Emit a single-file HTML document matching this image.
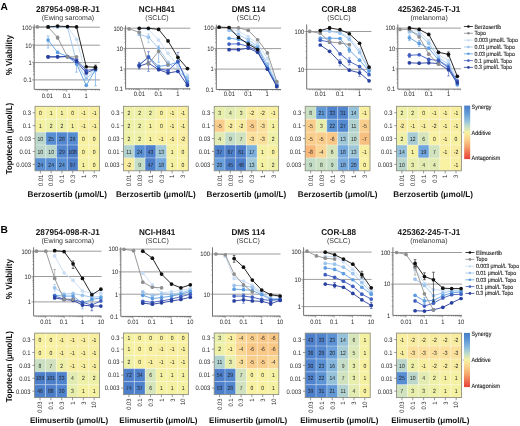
<!DOCTYPE html><html><head><meta charset="utf-8"><style>html,body{margin:0;padding:0;background:#fff;width:520px;height:426px;overflow:hidden}svg{display:block;will-change:transform}text{font-family:"Liberation Sans", sans-serif;text-rendering:geometricPrecision}</style></head><body>
<svg width="520" height="426" viewBox="0 0 520 426">
<defs><linearGradient id="cb" x1="0" y1="0" x2="0" y2="1"><stop offset="0" stop-color="#487cc8"/><stop offset="0.12" stop-color="#5c94d4"/><stop offset="0.27" stop-color="#8cbcde"/><stop offset="0.38" stop-color="#bedccd"/><stop offset="0.5" stop-color="#f7f1a1"/><stop offset="0.62" stop-color="#fad48e"/><stop offset="0.76" stop-color="#f6a86c"/><stop offset="0.9" stop-color="#ec684c"/><stop offset="1" stop-color="#e64238"/></linearGradient></defs>
<rect width="520" height="426" fill="#fff"/>
<text x="0.5" y="10" font-size="10.2" text-anchor="start" font-weight="bold" fill="#000">A</text>
<text x="0.5" y="232.6" font-size="10.2" text-anchor="start" font-weight="bold" fill="#000">B</text>
<text transform="translate(12.2,55.2) rotate(-90) scale(0.92,1)" font-size="8.8" text-anchor="middle" font-weight="bold" fill="#111">% Viability</text>
<text transform="translate(12.2,279.1) rotate(-90) scale(0.92,1)" font-size="8.8" text-anchor="middle" font-weight="bold" fill="#111">% Viability</text>
<text transform="translate(12.3,138.6) rotate(-90) scale(0.9,1)" font-size="8.6" text-anchor="middle" font-weight="bold" fill="#111">Topotecan (μmol/L)</text>
<text transform="translate(12.3,366.7) rotate(-90) scale(0.9,1)" font-size="8.6" text-anchor="middle" font-weight="bold" fill="#111">Topotecan (μmol/L)</text>
<text transform="translate(67.9,12.1) scale(0.96,1)" font-size="8.5" text-anchor="middle" font-weight="bold" fill="#111">287954-098-R-J1</text>
<text x="67.9" y="20.35" font-size="7" text-anchor="middle" font-weight="normal" fill="#333">(Ewing sarcoma)</text>
<line x1="34.2" y1="27.2" x2="99.9" y2="27.2" stroke="#9c9c9c" stroke-width="1.0"/>
<line x1="34.2" y1="45.2" x2="99.9" y2="45.2" stroke="#9c9c9c" stroke-width="1.0"/>
<line x1="34.2" y1="62.6" x2="99.9" y2="62.6" stroke="#9c9c9c" stroke-width="1.0"/>
<line x1="34.2" y1="79.9" x2="99.9" y2="79.9" stroke="#9c9c9c" stroke-width="1.0"/>
<line x1="32" y1="27.2" x2="34.2" y2="27.2" stroke="#666" stroke-width="0.6"/>
<line x1="32" y1="44.77" x2="34.2" y2="44.77" stroke="#666" stroke-width="0.6"/>
<line x1="33" y1="39.48" x2="34.2" y2="39.48" stroke="#666" stroke-width="0.6"/>
<line x1="33" y1="36.39" x2="34.2" y2="36.39" stroke="#666" stroke-width="0.6"/>
<line x1="33" y1="34.19" x2="34.2" y2="34.19" stroke="#666" stroke-width="0.6"/>
<line x1="33" y1="32.49" x2="34.2" y2="32.49" stroke="#666" stroke-width="0.6"/>
<line x1="33" y1="31.1" x2="34.2" y2="31.1" stroke="#666" stroke-width="0.6"/>
<line x1="33" y1="29.92" x2="34.2" y2="29.92" stroke="#666" stroke-width="0.6"/>
<line x1="33" y1="28.9" x2="34.2" y2="28.9" stroke="#666" stroke-width="0.6"/>
<line x1="33" y1="28" x2="34.2" y2="28" stroke="#666" stroke-width="0.6"/>
<line x1="32" y1="62.33" x2="34.2" y2="62.33" stroke="#666" stroke-width="0.6"/>
<line x1="33" y1="57.05" x2="34.2" y2="57.05" stroke="#666" stroke-width="0.6"/>
<line x1="33" y1="53.95" x2="34.2" y2="53.95" stroke="#666" stroke-width="0.6"/>
<line x1="33" y1="51.76" x2="34.2" y2="51.76" stroke="#666" stroke-width="0.6"/>
<line x1="33" y1="50.05" x2="34.2" y2="50.05" stroke="#666" stroke-width="0.6"/>
<line x1="33" y1="48.66" x2="34.2" y2="48.66" stroke="#666" stroke-width="0.6"/>
<line x1="33" y1="47.49" x2="34.2" y2="47.49" stroke="#666" stroke-width="0.6"/>
<line x1="33" y1="46.47" x2="34.2" y2="46.47" stroke="#666" stroke-width="0.6"/>
<line x1="33" y1="45.57" x2="34.2" y2="45.57" stroke="#666" stroke-width="0.6"/>
<line x1="32" y1="79.9" x2="34.2" y2="79.9" stroke="#666" stroke-width="0.6"/>
<line x1="33" y1="74.61" x2="34.2" y2="74.61" stroke="#666" stroke-width="0.6"/>
<line x1="33" y1="71.52" x2="34.2" y2="71.52" stroke="#666" stroke-width="0.6"/>
<line x1="33" y1="69.32" x2="34.2" y2="69.32" stroke="#666" stroke-width="0.6"/>
<line x1="33" y1="67.62" x2="34.2" y2="67.62" stroke="#666" stroke-width="0.6"/>
<line x1="33" y1="66.23" x2="34.2" y2="66.23" stroke="#666" stroke-width="0.6"/>
<line x1="33" y1="65.05" x2="34.2" y2="65.05" stroke="#666" stroke-width="0.6"/>
<line x1="33" y1="64.04" x2="34.2" y2="64.04" stroke="#666" stroke-width="0.6"/>
<line x1="33" y1="63.14" x2="34.2" y2="63.14" stroke="#666" stroke-width="0.6"/>
<line x1="37.16" y1="89.4" x2="37.16" y2="90.6" stroke="#666" stroke-width="0.6"/>
<line x1="39.58" y1="89.4" x2="39.58" y2="90.6" stroke="#666" stroke-width="0.6"/>
<line x1="41.46" y1="89.4" x2="41.46" y2="90.6" stroke="#666" stroke-width="0.6"/>
<line x1="43" y1="89.4" x2="43" y2="90.6" stroke="#666" stroke-width="0.6"/>
<line x1="44.29" y1="89.4" x2="44.29" y2="90.6" stroke="#666" stroke-width="0.6"/>
<line x1="45.42" y1="89.4" x2="45.42" y2="90.6" stroke="#666" stroke-width="0.6"/>
<line x1="46.41" y1="89.4" x2="46.41" y2="90.6" stroke="#666" stroke-width="0.6"/>
<line x1="47.3" y1="89.4" x2="47.3" y2="91.6" stroke="#666" stroke-width="0.6"/>
<line x1="53.14" y1="89.4" x2="53.14" y2="90.6" stroke="#666" stroke-width="0.6"/>
<line x1="56.56" y1="89.4" x2="56.56" y2="90.6" stroke="#666" stroke-width="0.6"/>
<line x1="58.98" y1="89.4" x2="58.98" y2="90.6" stroke="#666" stroke-width="0.6"/>
<line x1="60.86" y1="89.4" x2="60.86" y2="90.6" stroke="#666" stroke-width="0.6"/>
<line x1="62.4" y1="89.4" x2="62.4" y2="90.6" stroke="#666" stroke-width="0.6"/>
<line x1="63.69" y1="89.4" x2="63.69" y2="90.6" stroke="#666" stroke-width="0.6"/>
<line x1="64.82" y1="89.4" x2="64.82" y2="90.6" stroke="#666" stroke-width="0.6"/>
<line x1="65.81" y1="89.4" x2="65.81" y2="90.6" stroke="#666" stroke-width="0.6"/>
<line x1="66.7" y1="89.4" x2="66.7" y2="91.6" stroke="#666" stroke-width="0.6"/>
<line x1="72.54" y1="89.4" x2="72.54" y2="90.6" stroke="#666" stroke-width="0.6"/>
<line x1="75.96" y1="89.4" x2="75.96" y2="90.6" stroke="#666" stroke-width="0.6"/>
<line x1="78.38" y1="89.4" x2="78.38" y2="90.6" stroke="#666" stroke-width="0.6"/>
<line x1="80.26" y1="89.4" x2="80.26" y2="90.6" stroke="#666" stroke-width="0.6"/>
<line x1="81.8" y1="89.4" x2="81.8" y2="90.6" stroke="#666" stroke-width="0.6"/>
<line x1="83.09" y1="89.4" x2="83.09" y2="90.6" stroke="#666" stroke-width="0.6"/>
<line x1="84.22" y1="89.4" x2="84.22" y2="90.6" stroke="#666" stroke-width="0.6"/>
<line x1="85.21" y1="89.4" x2="85.21" y2="90.6" stroke="#666" stroke-width="0.6"/>
<line x1="86.1" y1="89.4" x2="86.1" y2="91.6" stroke="#666" stroke-width="0.6"/>
<line x1="91.94" y1="89.4" x2="91.94" y2="90.6" stroke="#666" stroke-width="0.6"/>
<line x1="95.36" y1="89.4" x2="95.36" y2="90.6" stroke="#666" stroke-width="0.6"/>
<line x1="97.78" y1="89.4" x2="97.78" y2="90.6" stroke="#666" stroke-width="0.6"/>
<line x1="99.66" y1="89.4" x2="99.66" y2="90.6" stroke="#666" stroke-width="0.6"/>
<line x1="34.2" y1="24.5" x2="34.2" y2="89.4" stroke="#6a6a6a" stroke-width="0.95"/>
<line x1="34.2" y1="89.4" x2="99.9" y2="89.4" stroke="#6a6a6a" stroke-width="0.95"/>
<text transform="translate(31.6,29.55) scale(0.9,1)" font-size="6.4" text-anchor="end" font-weight="normal" fill="#2a2a2a">100</text>
<text transform="translate(31.6,47.55) scale(0.9,1)" font-size="6.4" text-anchor="end" font-weight="normal" fill="#2a2a2a">10</text>
<text transform="translate(31.6,64.95) scale(0.9,1)" font-size="6.4" text-anchor="end" font-weight="normal" fill="#2a2a2a">1</text>
<text transform="translate(31.6,82.25) scale(0.9,1)" font-size="6.4" text-anchor="end" font-weight="normal" fill="#2a2a2a">0.1</text>
<text transform="translate(47.3,98.3) scale(0.9,1)" font-size="6.4" text-anchor="middle" font-weight="normal" fill="#2a2a2a">0.01</text>
<text transform="translate(66.7,98.3) scale(0.9,1)" font-size="6.4" text-anchor="middle" font-weight="normal" fill="#2a2a2a">0.1</text>
<text transform="translate(86.1,98.3) scale(0.9,1)" font-size="6.4" text-anchor="middle" font-weight="normal" fill="#2a2a2a">1</text>
<polyline points="48.09,26.93 57.63,26.93 67.5,26.93 76.55,39.27 86.25,75.45 95.46,69.7" fill="none" stroke="#c9ddf4" stroke-width="0.9"/>
<circle cx="48.09" cy="26.93" r="1.85" fill="#c9ddf4"/>
<circle cx="57.63" cy="26.93" r="1.85" fill="#c9ddf4"/>
<circle cx="67.5" cy="26.93" r="1.85" fill="#c9ddf4"/>
<circle cx="76.55" cy="39.27" r="1.85" fill="#c9ddf4"/>
<circle cx="86.25" cy="75.45" r="1.85" fill="#c9ddf4"/>
<circle cx="95.46" cy="69.7" r="1.85" fill="#c9ddf4"/>
<polyline points="48.09,26.93 57.63,26.93 67.5,26.93 76.55,62.3 86.25,78.74 95.46,70.52" fill="none" stroke="#9cc3ec" stroke-width="0.9"/>
<circle cx="48.09" cy="26.93" r="1.85" fill="#9cc3ec"/>
<circle cx="57.63" cy="26.93" r="1.85" fill="#9cc3ec"/>
<circle cx="67.5" cy="26.93" r="1.85" fill="#9cc3ec"/>
<circle cx="76.55" cy="62.3" r="1.85" fill="#9cc3ec"/>
<circle cx="86.25" cy="78.74" r="1.85" fill="#9cc3ec"/>
<circle cx="95.46" cy="70.52" r="1.85" fill="#9cc3ec"/>
<polyline points="48.09,40.09 57.63,52.43 67.5,56.54 76.55,63.94 86.25,85.32 95.46,69.7" fill="none" stroke="#5e9ee0" stroke-width="0.9"/>
<path d="M48.09 35.98V47.99M46.79 35.98H49.39M46.79 47.99H49.39" stroke="#5e9ee0" stroke-width="0.6" fill="none"/>
<path d="M76.55 61.47V72.16M75.25 61.47H77.85M75.25 72.16H77.85" stroke="#5e9ee0" stroke-width="0.6" fill="none"/>
<path d="M95.46 69.7V85.82M94.16 69.7H96.76M94.16 85.82H96.76" stroke="#5e9ee0" stroke-width="0.6" fill="none"/>
<circle cx="48.09" cy="40.09" r="1.85" fill="#5e9ee0"/>
<circle cx="57.63" cy="52.43" r="1.85" fill="#5e9ee0"/>
<circle cx="67.5" cy="56.54" r="1.85" fill="#5e9ee0"/>
<circle cx="76.55" cy="63.94" r="1.85" fill="#5e9ee0"/>
<circle cx="86.25" cy="85.32" r="1.85" fill="#5e9ee0"/>
<circle cx="95.46" cy="69.7" r="1.85" fill="#5e9ee0"/>
<polyline points="48.09,56.87 57.63,56.87 67.5,56.54 76.55,59.83 86.25,70.52 95.46,68.88" fill="none" stroke="#3f5ec0" stroke-width="0.9"/>
<circle cx="48.09" cy="56.87" r="1.85" fill="#3f5ec0"/>
<circle cx="57.63" cy="56.87" r="1.85" fill="#3f5ec0"/>
<circle cx="67.5" cy="56.54" r="1.85" fill="#3f5ec0"/>
<circle cx="76.55" cy="59.83" r="1.85" fill="#3f5ec0"/>
<circle cx="86.25" cy="70.52" r="1.85" fill="#3f5ec0"/>
<circle cx="95.46" cy="68.88" r="1.85" fill="#3f5ec0"/>
<polyline points="48.09,56.87 57.63,56.87 67.5,56.54 76.55,61.47 86.25,72.99 95.46,68.88" fill="none" stroke="#28409f" stroke-width="0.9"/>
<circle cx="48.09" cy="56.87" r="1.85" fill="#28409f"/>
<circle cx="57.63" cy="56.87" r="1.85" fill="#28409f"/>
<circle cx="67.5" cy="56.54" r="1.85" fill="#28409f"/>
<circle cx="76.55" cy="61.47" r="1.85" fill="#28409f"/>
<circle cx="86.25" cy="72.99" r="1.85" fill="#28409f"/>
<circle cx="95.46" cy="68.88" r="1.85" fill="#28409f"/>
<polyline points="37.4,26.93 48.09,26.93 57.63,37.62 67.5,56.87 76.55,56.87" fill="none" stroke="#8e8e8e" stroke-width="0.9"/>
<path d="M57.63 35.98V39.27M56.33 35.98H58.93M56.33 39.27H58.93" stroke="#8e8e8e" stroke-width="0.6" fill="none"/>
<circle cx="37.4" cy="26.93" r="1.85" fill="#8e8e8e"/>
<circle cx="48.09" cy="26.93" r="1.85" fill="#8e8e8e"/>
<circle cx="57.63" cy="37.62" r="1.85" fill="#8e8e8e"/>
<circle cx="67.5" cy="56.87" r="1.85" fill="#8e8e8e"/>
<circle cx="76.55" cy="56.87" r="1.85" fill="#8e8e8e"/>
<polyline points="48.09,26.93 57.63,26.11 67.5,26.61 76.55,26.93 86.25,66.74 95.46,67.23" fill="none" stroke="#111111" stroke-width="0.9"/>
<path d="M95.46 65.09V69.7M94.16 65.09H96.76M94.16 69.7H96.76" stroke="#111111" stroke-width="0.6" fill="none"/>
<circle cx="48.09" cy="26.93" r="1.85" fill="#111111"/>
<circle cx="57.63" cy="26.11" r="1.85" fill="#111111"/>
<circle cx="67.5" cy="26.61" r="1.85" fill="#111111"/>
<circle cx="76.55" cy="26.93" r="1.85" fill="#111111"/>
<circle cx="86.25" cy="66.74" r="1.85" fill="#111111"/>
<circle cx="95.46" cy="67.23" r="1.85" fill="#111111"/>
<text transform="translate(157,12.1) scale(0.96,1)" font-size="8.5" text-anchor="middle" font-weight="bold" fill="#111">NCI-H841</text>
<text x="157" y="20.35" font-size="7" text-anchor="middle" font-weight="normal" fill="#333">(SCLC)</text>
<line x1="125.6" y1="28.2" x2="190.4" y2="28.2" stroke="#9c9c9c" stroke-width="1.0"/>
<line x1="125.6" y1="48.4" x2="190.4" y2="48.4" stroke="#9c9c9c" stroke-width="1.0"/>
<line x1="125.6" y1="68.9" x2="190.4" y2="68.9" stroke="#9c9c9c" stroke-width="1.0"/>
<line x1="123.4" y1="28.2" x2="125.6" y2="28.2" stroke="#666" stroke-width="0.6"/>
<line x1="123.4" y1="48.55" x2="125.6" y2="48.55" stroke="#666" stroke-width="0.6"/>
<line x1="124.4" y1="42.42" x2="125.6" y2="42.42" stroke="#666" stroke-width="0.6"/>
<line x1="124.4" y1="38.84" x2="125.6" y2="38.84" stroke="#666" stroke-width="0.6"/>
<line x1="124.4" y1="36.3" x2="125.6" y2="36.3" stroke="#666" stroke-width="0.6"/>
<line x1="124.4" y1="34.33" x2="125.6" y2="34.33" stroke="#666" stroke-width="0.6"/>
<line x1="124.4" y1="32.71" x2="125.6" y2="32.71" stroke="#666" stroke-width="0.6"/>
<line x1="124.4" y1="31.35" x2="125.6" y2="31.35" stroke="#666" stroke-width="0.6"/>
<line x1="124.4" y1="30.17" x2="125.6" y2="30.17" stroke="#666" stroke-width="0.6"/>
<line x1="124.4" y1="29.13" x2="125.6" y2="29.13" stroke="#666" stroke-width="0.6"/>
<line x1="123.4" y1="68.9" x2="125.6" y2="68.9" stroke="#666" stroke-width="0.6"/>
<line x1="124.4" y1="62.77" x2="125.6" y2="62.77" stroke="#666" stroke-width="0.6"/>
<line x1="124.4" y1="59.19" x2="125.6" y2="59.19" stroke="#666" stroke-width="0.6"/>
<line x1="124.4" y1="56.65" x2="125.6" y2="56.65" stroke="#666" stroke-width="0.6"/>
<line x1="124.4" y1="54.68" x2="125.6" y2="54.68" stroke="#666" stroke-width="0.6"/>
<line x1="124.4" y1="53.06" x2="125.6" y2="53.06" stroke="#666" stroke-width="0.6"/>
<line x1="124.4" y1="51.7" x2="125.6" y2="51.7" stroke="#666" stroke-width="0.6"/>
<line x1="124.4" y1="50.52" x2="125.6" y2="50.52" stroke="#666" stroke-width="0.6"/>
<line x1="124.4" y1="49.48" x2="125.6" y2="49.48" stroke="#666" stroke-width="0.6"/>
<line x1="124.4" y1="83.12" x2="125.6" y2="83.12" stroke="#666" stroke-width="0.6"/>
<line x1="124.4" y1="79.54" x2="125.6" y2="79.54" stroke="#666" stroke-width="0.6"/>
<line x1="124.4" y1="77" x2="125.6" y2="77" stroke="#666" stroke-width="0.6"/>
<line x1="124.4" y1="75.03" x2="125.6" y2="75.03" stroke="#666" stroke-width="0.6"/>
<line x1="124.4" y1="73.41" x2="125.6" y2="73.41" stroke="#666" stroke-width="0.6"/>
<line x1="124.4" y1="72.05" x2="125.6" y2="72.05" stroke="#666" stroke-width="0.6"/>
<line x1="124.4" y1="70.87" x2="125.6" y2="70.87" stroke="#666" stroke-width="0.6"/>
<line x1="124.4" y1="69.83" x2="125.6" y2="69.83" stroke="#666" stroke-width="0.6"/>
<line x1="125.81" y1="88.8" x2="125.81" y2="90" stroke="#666" stroke-width="0.6"/>
<line x1="129.21" y1="88.8" x2="129.21" y2="90" stroke="#666" stroke-width="0.6"/>
<line x1="131.62" y1="88.8" x2="131.62" y2="90" stroke="#666" stroke-width="0.6"/>
<line x1="133.49" y1="88.8" x2="133.49" y2="90" stroke="#666" stroke-width="0.6"/>
<line x1="135.02" y1="88.8" x2="135.02" y2="90" stroke="#666" stroke-width="0.6"/>
<line x1="136.31" y1="88.8" x2="136.31" y2="90" stroke="#666" stroke-width="0.6"/>
<line x1="137.43" y1="88.8" x2="137.43" y2="90" stroke="#666" stroke-width="0.6"/>
<line x1="138.42" y1="88.8" x2="138.42" y2="90" stroke="#666" stroke-width="0.6"/>
<line x1="139.3" y1="88.8" x2="139.3" y2="91" stroke="#666" stroke-width="0.6"/>
<line x1="145.11" y1="88.8" x2="145.11" y2="90" stroke="#666" stroke-width="0.6"/>
<line x1="148.51" y1="88.8" x2="148.51" y2="90" stroke="#666" stroke-width="0.6"/>
<line x1="150.92" y1="88.8" x2="150.92" y2="90" stroke="#666" stroke-width="0.6"/>
<line x1="152.79" y1="88.8" x2="152.79" y2="90" stroke="#666" stroke-width="0.6"/>
<line x1="154.32" y1="88.8" x2="154.32" y2="90" stroke="#666" stroke-width="0.6"/>
<line x1="155.61" y1="88.8" x2="155.61" y2="90" stroke="#666" stroke-width="0.6"/>
<line x1="156.73" y1="88.8" x2="156.73" y2="90" stroke="#666" stroke-width="0.6"/>
<line x1="157.72" y1="88.8" x2="157.72" y2="90" stroke="#666" stroke-width="0.6"/>
<line x1="158.6" y1="88.8" x2="158.6" y2="91" stroke="#666" stroke-width="0.6"/>
<line x1="164.41" y1="88.8" x2="164.41" y2="90" stroke="#666" stroke-width="0.6"/>
<line x1="167.81" y1="88.8" x2="167.81" y2="90" stroke="#666" stroke-width="0.6"/>
<line x1="170.22" y1="88.8" x2="170.22" y2="90" stroke="#666" stroke-width="0.6"/>
<line x1="172.09" y1="88.8" x2="172.09" y2="90" stroke="#666" stroke-width="0.6"/>
<line x1="173.62" y1="88.8" x2="173.62" y2="90" stroke="#666" stroke-width="0.6"/>
<line x1="174.91" y1="88.8" x2="174.91" y2="90" stroke="#666" stroke-width="0.6"/>
<line x1="176.03" y1="88.8" x2="176.03" y2="90" stroke="#666" stroke-width="0.6"/>
<line x1="177.02" y1="88.8" x2="177.02" y2="90" stroke="#666" stroke-width="0.6"/>
<line x1="177.9" y1="88.8" x2="177.9" y2="91" stroke="#666" stroke-width="0.6"/>
<line x1="183.71" y1="88.8" x2="183.71" y2="90" stroke="#666" stroke-width="0.6"/>
<line x1="187.11" y1="88.8" x2="187.11" y2="90" stroke="#666" stroke-width="0.6"/>
<line x1="189.52" y1="88.8" x2="189.52" y2="90" stroke="#666" stroke-width="0.6"/>
<line x1="125.6" y1="25.4" x2="125.6" y2="88.8" stroke="#6a6a6a" stroke-width="0.95"/>
<line x1="125.6" y1="88.8" x2="190.4" y2="88.8" stroke="#6a6a6a" stroke-width="0.95"/>
<text transform="translate(123,30.55) scale(0.9,1)" font-size="6.4" text-anchor="end" font-weight="normal" fill="#2a2a2a">100</text>
<text transform="translate(123,50.75) scale(0.9,1)" font-size="6.4" text-anchor="end" font-weight="normal" fill="#2a2a2a">10</text>
<text transform="translate(123,71.25) scale(0.9,1)" font-size="6.4" text-anchor="end" font-weight="normal" fill="#2a2a2a">1</text>
<text transform="translate(123,91.15) scale(0.9,1)" font-size="6.4" text-anchor="end" font-weight="normal" fill="#2a2a2a">0.1</text>
<text transform="translate(139.3,96) scale(0.9,1)" font-size="6.4" text-anchor="middle" font-weight="normal" fill="#2a2a2a">0.01</text>
<text transform="translate(158.4,96) scale(0.9,1)" font-size="6.4" text-anchor="middle" font-weight="normal" fill="#2a2a2a">0.1</text>
<text transform="translate(177.9,96) scale(0.9,1)" font-size="6.4" text-anchor="middle" font-weight="normal" fill="#2a2a2a">1</text>
<polyline points="139.24,28.58 148.45,29.4 158.65,40.09 168.03,53.25 177.89,66.41 187.43,75.45" fill="none" stroke="#c9ddf4" stroke-width="0.9"/>
<circle cx="139.24" cy="28.58" r="1.85" fill="#c9ddf4"/>
<circle cx="148.45" cy="29.4" r="1.85" fill="#c9ddf4"/>
<circle cx="158.65" cy="40.09" r="1.85" fill="#c9ddf4"/>
<circle cx="168.03" cy="53.25" r="1.85" fill="#c9ddf4"/>
<circle cx="177.89" cy="66.41" r="1.85" fill="#c9ddf4"/>
<circle cx="187.43" cy="75.45" r="1.85" fill="#c9ddf4"/>
<polyline points="139.24,34.34 148.45,37.13 158.65,48.32 168.03,62.3 177.89,71.34 187.43,77.92" fill="none" stroke="#9cc3ec" stroke-width="0.9"/>
<path d="M148.45 33.84V42.56M147.15 33.84H149.75M147.15 42.56H149.75" stroke="#9cc3ec" stroke-width="0.6" fill="none"/>
<circle cx="139.24" cy="34.34" r="1.85" fill="#9cc3ec"/>
<circle cx="148.45" cy="37.13" r="1.85" fill="#9cc3ec"/>
<circle cx="158.65" cy="48.32" r="1.85" fill="#9cc3ec"/>
<circle cx="168.03" cy="62.3" r="1.85" fill="#9cc3ec"/>
<circle cx="177.89" cy="71.34" r="1.85" fill="#9cc3ec"/>
<circle cx="187.43" cy="77.92" r="1.85" fill="#9cc3ec"/>
<polyline points="139.24,65.59 148.45,56.54 158.65,66.41 168.03,65.09 177.89,62.3 187.43,81.21" fill="none" stroke="#5e9ee0" stroke-width="0.9"/>
<path d="M158.65 45.85V62.3M157.35 45.85H159.95M157.35 62.3H159.95" stroke="#5e9ee0" stroke-width="0.6" fill="none"/>
<circle cx="139.24" cy="65.59" r="1.85" fill="#5e9ee0"/>
<circle cx="148.45" cy="56.54" r="1.85" fill="#5e9ee0"/>
<circle cx="158.65" cy="66.41" r="1.85" fill="#5e9ee0"/>
<circle cx="168.03" cy="65.09" r="1.85" fill="#5e9ee0"/>
<circle cx="177.89" cy="62.3" r="1.85" fill="#5e9ee0"/>
<circle cx="187.43" cy="81.21" r="1.85" fill="#5e9ee0"/>
<polyline points="139.24,64.76 148.45,57.36 158.65,68.88 168.03,70.52 177.89,61.47 187.43,83.68" fill="none" stroke="#3f5ec0" stroke-width="0.9"/>
<path d="M148.45 51.61V71.34M147.15 51.61H149.75M147.15 71.34H149.75" stroke="#3f5ec0" stroke-width="0.6" fill="none"/>
<path d="M177.89 52.43V60.65M176.59 52.43H179.19M176.59 60.65H179.19" stroke="#3f5ec0" stroke-width="0.6" fill="none"/>
<circle cx="139.24" cy="64.76" r="1.85" fill="#3f5ec0"/>
<circle cx="148.45" cy="57.36" r="1.85" fill="#3f5ec0"/>
<circle cx="158.65" cy="68.88" r="1.85" fill="#3f5ec0"/>
<circle cx="168.03" cy="70.52" r="1.85" fill="#3f5ec0"/>
<circle cx="177.89" cy="61.47" r="1.85" fill="#3f5ec0"/>
<circle cx="187.43" cy="83.68" r="1.85" fill="#3f5ec0"/>
<polyline points="139.24,66.08 148.45,63.12 158.65,69.7 168.03,72.99 177.89,71.34 187.43,85.32" fill="none" stroke="#28409f" stroke-width="0.9"/>
<path d="M139.24 62.3V68.88M137.94 62.3H140.54M137.94 68.88H140.54" stroke="#28409f" stroke-width="0.6" fill="none"/>
<circle cx="139.24" cy="66.08" r="1.85" fill="#28409f"/>
<circle cx="148.45" cy="63.12" r="1.85" fill="#28409f"/>
<circle cx="158.65" cy="69.7" r="1.85" fill="#28409f"/>
<circle cx="168.03" cy="72.99" r="1.85" fill="#28409f"/>
<circle cx="177.89" cy="71.34" r="1.85" fill="#28409f"/>
<circle cx="187.43" cy="85.32" r="1.85" fill="#28409f"/>
<polyline points="129.05,28.91 139.24,32.2 148.45,63.94 158.65,51.28 168.03,64.76" fill="none" stroke="#8e8e8e" stroke-width="0.9"/>
<circle cx="129.05" cy="28.91" r="1.85" fill="#8e8e8e"/>
<circle cx="139.24" cy="32.2" r="1.85" fill="#8e8e8e"/>
<circle cx="148.45" cy="63.94" r="1.85" fill="#8e8e8e"/>
<circle cx="158.65" cy="51.28" r="1.85" fill="#8e8e8e"/>
<circle cx="168.03" cy="64.76" r="1.85" fill="#8e8e8e"/>
<polyline points="139.24,28.25 148.45,28.25 158.65,29.4 168.03,40.91 177.89,57.36 187.43,68.55" fill="none" stroke="#111111" stroke-width="0.9"/>
<circle cx="139.24" cy="28.25" r="1.85" fill="#111111"/>
<circle cx="148.45" cy="28.25" r="1.85" fill="#111111"/>
<circle cx="158.65" cy="29.4" r="1.85" fill="#111111"/>
<circle cx="168.03" cy="40.91" r="1.85" fill="#111111"/>
<circle cx="177.89" cy="57.36" r="1.85" fill="#111111"/>
<circle cx="187.43" cy="68.55" r="1.85" fill="#111111"/>
<text transform="translate(248.5,12.1) scale(0.96,1)" font-size="8.5" text-anchor="middle" font-weight="bold" fill="#111">DMS 114</text>
<text x="248.5" y="20.35" font-size="7" text-anchor="middle" font-weight="normal" fill="#333">(SCLC)</text>
<line x1="216.3" y1="28.1" x2="281.1" y2="28.1" stroke="#9c9c9c" stroke-width="1.0"/>
<line x1="216.3" y1="48.6" x2="281.1" y2="48.6" stroke="#9c9c9c" stroke-width="1.0"/>
<line x1="216.3" y1="69.1" x2="281.1" y2="69.1" stroke="#9c9c9c" stroke-width="1.0"/>
<line x1="214.1" y1="28.1" x2="216.3" y2="28.1" stroke="#666" stroke-width="0.6"/>
<line x1="214.1" y1="48.6" x2="216.3" y2="48.6" stroke="#666" stroke-width="0.6"/>
<line x1="215.1" y1="42.43" x2="216.3" y2="42.43" stroke="#666" stroke-width="0.6"/>
<line x1="215.1" y1="38.82" x2="216.3" y2="38.82" stroke="#666" stroke-width="0.6"/>
<line x1="215.1" y1="36.26" x2="216.3" y2="36.26" stroke="#666" stroke-width="0.6"/>
<line x1="215.1" y1="34.27" x2="216.3" y2="34.27" stroke="#666" stroke-width="0.6"/>
<line x1="215.1" y1="32.65" x2="216.3" y2="32.65" stroke="#666" stroke-width="0.6"/>
<line x1="215.1" y1="31.28" x2="216.3" y2="31.28" stroke="#666" stroke-width="0.6"/>
<line x1="215.1" y1="30.09" x2="216.3" y2="30.09" stroke="#666" stroke-width="0.6"/>
<line x1="215.1" y1="29.04" x2="216.3" y2="29.04" stroke="#666" stroke-width="0.6"/>
<line x1="214.1" y1="69.1" x2="216.3" y2="69.1" stroke="#666" stroke-width="0.6"/>
<line x1="215.1" y1="62.93" x2="216.3" y2="62.93" stroke="#666" stroke-width="0.6"/>
<line x1="215.1" y1="59.32" x2="216.3" y2="59.32" stroke="#666" stroke-width="0.6"/>
<line x1="215.1" y1="56.76" x2="216.3" y2="56.76" stroke="#666" stroke-width="0.6"/>
<line x1="215.1" y1="54.77" x2="216.3" y2="54.77" stroke="#666" stroke-width="0.6"/>
<line x1="215.1" y1="53.15" x2="216.3" y2="53.15" stroke="#666" stroke-width="0.6"/>
<line x1="215.1" y1="51.78" x2="216.3" y2="51.78" stroke="#666" stroke-width="0.6"/>
<line x1="215.1" y1="50.59" x2="216.3" y2="50.59" stroke="#666" stroke-width="0.6"/>
<line x1="215.1" y1="49.54" x2="216.3" y2="49.54" stroke="#666" stroke-width="0.6"/>
<line x1="215.1" y1="83.43" x2="216.3" y2="83.43" stroke="#666" stroke-width="0.6"/>
<line x1="215.1" y1="79.82" x2="216.3" y2="79.82" stroke="#666" stroke-width="0.6"/>
<line x1="215.1" y1="77.26" x2="216.3" y2="77.26" stroke="#666" stroke-width="0.6"/>
<line x1="215.1" y1="75.27" x2="216.3" y2="75.27" stroke="#666" stroke-width="0.6"/>
<line x1="215.1" y1="73.65" x2="216.3" y2="73.65" stroke="#666" stroke-width="0.6"/>
<line x1="215.1" y1="72.28" x2="216.3" y2="72.28" stroke="#666" stroke-width="0.6"/>
<line x1="215.1" y1="71.09" x2="216.3" y2="71.09" stroke="#666" stroke-width="0.6"/>
<line x1="215.1" y1="70.04" x2="216.3" y2="70.04" stroke="#666" stroke-width="0.6"/>
<line x1="219.57" y1="89.5" x2="219.57" y2="90.7" stroke="#666" stroke-width="0.6"/>
<line x1="221.92" y1="89.5" x2="221.92" y2="90.7" stroke="#666" stroke-width="0.6"/>
<line x1="223.74" y1="89.5" x2="223.74" y2="90.7" stroke="#666" stroke-width="0.6"/>
<line x1="225.23" y1="89.5" x2="225.23" y2="90.7" stroke="#666" stroke-width="0.6"/>
<line x1="226.49" y1="89.5" x2="226.49" y2="90.7" stroke="#666" stroke-width="0.6"/>
<line x1="227.58" y1="89.5" x2="227.58" y2="90.7" stroke="#666" stroke-width="0.6"/>
<line x1="228.54" y1="89.5" x2="228.54" y2="90.7" stroke="#666" stroke-width="0.6"/>
<line x1="229.4" y1="89.5" x2="229.4" y2="91.7" stroke="#666" stroke-width="0.6"/>
<line x1="235.06" y1="89.5" x2="235.06" y2="90.7" stroke="#666" stroke-width="0.6"/>
<line x1="238.37" y1="89.5" x2="238.37" y2="90.7" stroke="#666" stroke-width="0.6"/>
<line x1="240.72" y1="89.5" x2="240.72" y2="90.7" stroke="#666" stroke-width="0.6"/>
<line x1="242.54" y1="89.5" x2="242.54" y2="90.7" stroke="#666" stroke-width="0.6"/>
<line x1="244.03" y1="89.5" x2="244.03" y2="90.7" stroke="#666" stroke-width="0.6"/>
<line x1="245.29" y1="89.5" x2="245.29" y2="90.7" stroke="#666" stroke-width="0.6"/>
<line x1="246.38" y1="89.5" x2="246.38" y2="90.7" stroke="#666" stroke-width="0.6"/>
<line x1="247.34" y1="89.5" x2="247.34" y2="90.7" stroke="#666" stroke-width="0.6"/>
<line x1="248.2" y1="89.5" x2="248.2" y2="91.7" stroke="#666" stroke-width="0.6"/>
<line x1="253.86" y1="89.5" x2="253.86" y2="90.7" stroke="#666" stroke-width="0.6"/>
<line x1="257.17" y1="89.5" x2="257.17" y2="90.7" stroke="#666" stroke-width="0.6"/>
<line x1="259.52" y1="89.5" x2="259.52" y2="90.7" stroke="#666" stroke-width="0.6"/>
<line x1="261.34" y1="89.5" x2="261.34" y2="90.7" stroke="#666" stroke-width="0.6"/>
<line x1="262.83" y1="89.5" x2="262.83" y2="90.7" stroke="#666" stroke-width="0.6"/>
<line x1="264.09" y1="89.5" x2="264.09" y2="90.7" stroke="#666" stroke-width="0.6"/>
<line x1="265.18" y1="89.5" x2="265.18" y2="90.7" stroke="#666" stroke-width="0.6"/>
<line x1="266.14" y1="89.5" x2="266.14" y2="90.7" stroke="#666" stroke-width="0.6"/>
<line x1="267" y1="89.5" x2="267" y2="91.7" stroke="#666" stroke-width="0.6"/>
<line x1="272.66" y1="89.5" x2="272.66" y2="90.7" stroke="#666" stroke-width="0.6"/>
<line x1="275.97" y1="89.5" x2="275.97" y2="90.7" stroke="#666" stroke-width="0.6"/>
<line x1="278.32" y1="89.5" x2="278.32" y2="90.7" stroke="#666" stroke-width="0.6"/>
<line x1="280.14" y1="89.5" x2="280.14" y2="90.7" stroke="#666" stroke-width="0.6"/>
<line x1="216.3" y1="24.7" x2="216.3" y2="89.5" stroke="#6a6a6a" stroke-width="0.95"/>
<line x1="216.3" y1="89.5" x2="281.1" y2="89.5" stroke="#6a6a6a" stroke-width="0.95"/>
<text transform="translate(213.7,30.45) scale(0.9,1)" font-size="6.4" text-anchor="end" font-weight="normal" fill="#2a2a2a">100</text>
<text transform="translate(213.7,50.95) scale(0.9,1)" font-size="6.4" text-anchor="end" font-weight="normal" fill="#2a2a2a">10</text>
<text transform="translate(213.7,71.45) scale(0.9,1)" font-size="6.4" text-anchor="end" font-weight="normal" fill="#2a2a2a">1</text>
<text transform="translate(213.7,91.85) scale(0.9,1)" font-size="6.4" text-anchor="end" font-weight="normal" fill="#2a2a2a">0.1</text>
<text transform="translate(229.4,96.3) scale(0.9,1)" font-size="6.4" text-anchor="middle" font-weight="normal" fill="#2a2a2a">0.01</text>
<text transform="translate(248.2,96.3) scale(0.9,1)" font-size="6.4" text-anchor="middle" font-weight="normal" fill="#2a2a2a">0.1</text>
<text transform="translate(267,96.3) scale(0.9,1)" font-size="6.4" text-anchor="middle" font-weight="normal" fill="#2a2a2a">1</text>
<polyline points="229.06,28.46 238.46,31.28 248.23,36.92 257.63,43.5 267.41,58.53 276.8,82.97" fill="none" stroke="#c9ddf4" stroke-width="0.9"/>
<circle cx="229.06" cy="28.46" r="1.85" fill="#c9ddf4"/>
<circle cx="238.46" cy="31.28" r="1.85" fill="#c9ddf4"/>
<circle cx="248.23" cy="36.92" r="1.85" fill="#c9ddf4"/>
<circle cx="257.63" cy="43.5" r="1.85" fill="#c9ddf4"/>
<circle cx="267.41" cy="58.53" r="1.85" fill="#c9ddf4"/>
<circle cx="276.8" cy="82.97" r="1.85" fill="#c9ddf4"/>
<polyline points="229.06,30.34 238.46,34.66 248.23,39.74 257.63,46.32 267.41,64.17 276.8,83.91" fill="none" stroke="#9cc3ec" stroke-width="0.9"/>
<circle cx="229.06" cy="30.34" r="1.85" fill="#9cc3ec"/>
<circle cx="238.46" cy="34.66" r="1.85" fill="#9cc3ec"/>
<circle cx="248.23" cy="39.74" r="1.85" fill="#9cc3ec"/>
<circle cx="257.63" cy="46.32" r="1.85" fill="#9cc3ec"/>
<circle cx="267.41" cy="64.17" r="1.85" fill="#9cc3ec"/>
<circle cx="276.8" cy="83.91" r="1.85" fill="#9cc3ec"/>
<polyline points="229.06,38.23 238.46,39.36 248.23,42.56 257.63,48.2 267.41,66.99 276.8,84.85" fill="none" stroke="#5e9ee0" stroke-width="0.9"/>
<circle cx="229.06" cy="38.23" r="1.85" fill="#5e9ee0"/>
<circle cx="238.46" cy="39.36" r="1.85" fill="#5e9ee0"/>
<circle cx="248.23" cy="42.56" r="1.85" fill="#5e9ee0"/>
<circle cx="257.63" cy="48.2" r="1.85" fill="#5e9ee0"/>
<circle cx="267.41" cy="66.99" r="1.85" fill="#5e9ee0"/>
<circle cx="276.8" cy="84.85" r="1.85" fill="#5e9ee0"/>
<polyline points="229.06,44.06 238.46,43.87 248.23,46.32 257.63,51.02 267.41,68.87 276.8,85.79" fill="none" stroke="#3f5ec0" stroke-width="0.9"/>
<circle cx="229.06" cy="44.06" r="1.85" fill="#3f5ec0"/>
<circle cx="238.46" cy="43.87" r="1.85" fill="#3f5ec0"/>
<circle cx="248.23" cy="46.32" r="1.85" fill="#3f5ec0"/>
<circle cx="257.63" cy="51.02" r="1.85" fill="#3f5ec0"/>
<circle cx="267.41" cy="68.87" r="1.85" fill="#3f5ec0"/>
<circle cx="276.8" cy="85.79" r="1.85" fill="#3f5ec0"/>
<polyline points="229.06,49.7 238.46,49.7 248.23,48.2 257.63,52.33 267.41,69.25 276.8,86.73" fill="none" stroke="#28409f" stroke-width="0.9"/>
<circle cx="229.06" cy="49.7" r="1.85" fill="#28409f"/>
<circle cx="238.46" cy="49.7" r="1.85" fill="#28409f"/>
<circle cx="248.23" cy="48.2" r="1.85" fill="#28409f"/>
<circle cx="257.63" cy="52.33" r="1.85" fill="#28409f"/>
<circle cx="267.41" cy="69.25" r="1.85" fill="#28409f"/>
<circle cx="276.8" cy="86.73" r="1.85" fill="#28409f"/>
<polyline points="229.06,27.52 238.46,27.89 248.23,30.34 257.63,39.74 267.41,52.89 276.8,81.65" fill="none" stroke="#8e8e8e" stroke-width="0.9"/>
<circle cx="229.06" cy="27.52" r="1.85" fill="#8e8e8e"/>
<circle cx="238.46" cy="27.89" r="1.85" fill="#8e8e8e"/>
<circle cx="248.23" cy="30.34" r="1.85" fill="#8e8e8e"/>
<circle cx="257.63" cy="39.74" r="1.85" fill="#8e8e8e"/>
<circle cx="267.41" cy="52.89" r="1.85" fill="#8e8e8e"/>
<circle cx="276.8" cy="81.65" r="1.85" fill="#8e8e8e"/>
<polyline points="219.1,27.14 229.06,27.52 238.46,37.48 248.23,44.06 257.63,49.51" fill="none" stroke="#111111" stroke-width="0.9"/>
<circle cx="219.1" cy="27.14" r="1.85" fill="#111111"/>
<circle cx="229.06" cy="27.52" r="1.85" fill="#111111"/>
<circle cx="238.46" cy="37.48" r="1.85" fill="#111111"/>
<circle cx="248.23" cy="44.06" r="1.85" fill="#111111"/>
<circle cx="257.63" cy="49.51" r="1.85" fill="#111111"/>
<text transform="translate(338.9,12.1) scale(0.96,1)" font-size="8.5" text-anchor="middle" font-weight="bold" fill="#111">COR-L88</text>
<text x="338.9" y="20.35" font-size="7" text-anchor="middle" font-weight="normal" fill="#333">(SCLC)</text>
<line x1="306.7" y1="31.5" x2="371.4" y2="31.5" stroke="#9c9c9c" stroke-width="1.0"/>
<line x1="306.7" y1="69.3" x2="371.4" y2="69.3" stroke="#9c9c9c" stroke-width="1.0"/>
<line x1="304.5" y1="31.5" x2="306.7" y2="31.5" stroke="#666" stroke-width="0.6"/>
<line x1="304.5" y1="69.3" x2="306.7" y2="69.3" stroke="#666" stroke-width="0.6"/>
<line x1="305.5" y1="57.92" x2="306.7" y2="57.92" stroke="#666" stroke-width="0.6"/>
<line x1="305.5" y1="51.26" x2="306.7" y2="51.26" stroke="#666" stroke-width="0.6"/>
<line x1="305.5" y1="46.54" x2="306.7" y2="46.54" stroke="#666" stroke-width="0.6"/>
<line x1="305.5" y1="42.88" x2="306.7" y2="42.88" stroke="#666" stroke-width="0.6"/>
<line x1="305.5" y1="39.89" x2="306.7" y2="39.89" stroke="#666" stroke-width="0.6"/>
<line x1="305.5" y1="37.36" x2="306.7" y2="37.36" stroke="#666" stroke-width="0.6"/>
<line x1="305.5" y1="35.16" x2="306.7" y2="35.16" stroke="#666" stroke-width="0.6"/>
<line x1="305.5" y1="33.23" x2="306.7" y2="33.23" stroke="#666" stroke-width="0.6"/>
<line x1="310.03" y1="89.1" x2="310.03" y2="90.3" stroke="#666" stroke-width="0.6"/>
<line x1="312.48" y1="89.1" x2="312.48" y2="90.3" stroke="#666" stroke-width="0.6"/>
<line x1="314.38" y1="89.1" x2="314.38" y2="90.3" stroke="#666" stroke-width="0.6"/>
<line x1="315.94" y1="89.1" x2="315.94" y2="90.3" stroke="#666" stroke-width="0.6"/>
<line x1="317.26" y1="89.1" x2="317.26" y2="90.3" stroke="#666" stroke-width="0.6"/>
<line x1="318.4" y1="89.1" x2="318.4" y2="90.3" stroke="#666" stroke-width="0.6"/>
<line x1="319.4" y1="89.1" x2="319.4" y2="90.3" stroke="#666" stroke-width="0.6"/>
<line x1="320.3" y1="89.1" x2="320.3" y2="91.3" stroke="#666" stroke-width="0.6"/>
<line x1="326.22" y1="89.1" x2="326.22" y2="90.3" stroke="#666" stroke-width="0.6"/>
<line x1="329.68" y1="89.1" x2="329.68" y2="90.3" stroke="#666" stroke-width="0.6"/>
<line x1="332.13" y1="89.1" x2="332.13" y2="90.3" stroke="#666" stroke-width="0.6"/>
<line x1="334.03" y1="89.1" x2="334.03" y2="90.3" stroke="#666" stroke-width="0.6"/>
<line x1="335.59" y1="89.1" x2="335.59" y2="90.3" stroke="#666" stroke-width="0.6"/>
<line x1="336.91" y1="89.1" x2="336.91" y2="90.3" stroke="#666" stroke-width="0.6"/>
<line x1="338.05" y1="89.1" x2="338.05" y2="90.3" stroke="#666" stroke-width="0.6"/>
<line x1="339.05" y1="89.1" x2="339.05" y2="90.3" stroke="#666" stroke-width="0.6"/>
<line x1="339.95" y1="89.1" x2="339.95" y2="91.3" stroke="#666" stroke-width="0.6"/>
<line x1="345.87" y1="89.1" x2="345.87" y2="90.3" stroke="#666" stroke-width="0.6"/>
<line x1="349.33" y1="89.1" x2="349.33" y2="90.3" stroke="#666" stroke-width="0.6"/>
<line x1="351.78" y1="89.1" x2="351.78" y2="90.3" stroke="#666" stroke-width="0.6"/>
<line x1="353.68" y1="89.1" x2="353.68" y2="90.3" stroke="#666" stroke-width="0.6"/>
<line x1="355.24" y1="89.1" x2="355.24" y2="90.3" stroke="#666" stroke-width="0.6"/>
<line x1="356.56" y1="89.1" x2="356.56" y2="90.3" stroke="#666" stroke-width="0.6"/>
<line x1="357.7" y1="89.1" x2="357.7" y2="90.3" stroke="#666" stroke-width="0.6"/>
<line x1="358.7" y1="89.1" x2="358.7" y2="90.3" stroke="#666" stroke-width="0.6"/>
<line x1="359.6" y1="89.1" x2="359.6" y2="91.3" stroke="#666" stroke-width="0.6"/>
<line x1="365.52" y1="89.1" x2="365.52" y2="90.3" stroke="#666" stroke-width="0.6"/>
<line x1="368.98" y1="89.1" x2="368.98" y2="90.3" stroke="#666" stroke-width="0.6"/>
<line x1="371.43" y1="89.1" x2="371.43" y2="90.3" stroke="#666" stroke-width="0.6"/>
<line x1="306.7" y1="24.4" x2="306.7" y2="89.1" stroke="#6a6a6a" stroke-width="0.95"/>
<line x1="306.7" y1="89.1" x2="371.4" y2="89.1" stroke="#6a6a6a" stroke-width="0.95"/>
<text transform="translate(304.1,33.85) scale(0.9,1)" font-size="6.4" text-anchor="end" font-weight="normal" fill="#2a2a2a">100</text>
<text transform="translate(304.1,71.65) scale(0.9,1)" font-size="6.4" text-anchor="end" font-weight="normal" fill="#2a2a2a">10</text>
<text transform="translate(320.3,96) scale(0.9,1)" font-size="6.4" text-anchor="middle" font-weight="normal" fill="#2a2a2a">0.01</text>
<text transform="translate(340,96) scale(0.9,1)" font-size="6.4" text-anchor="middle" font-weight="normal" fill="#2a2a2a">0.1</text>
<text transform="translate(359.6,96) scale(0.9,1)" font-size="6.4" text-anchor="middle" font-weight="normal" fill="#2a2a2a">1</text>
<polyline points="320.26,31.45 329.6,31.45 340,32.33 349.34,37.62 359.56,49.96 369.07,69.34" fill="none" stroke="#c9ddf4" stroke-width="0.9"/>
<circle cx="320.26" cy="31.45" r="1.85" fill="#c9ddf4"/>
<circle cx="329.6" cy="31.45" r="1.85" fill="#c9ddf4"/>
<circle cx="340" cy="32.33" r="1.85" fill="#c9ddf4"/>
<circle cx="349.34" cy="37.62" r="1.85" fill="#c9ddf4"/>
<circle cx="359.56" cy="49.96" r="1.85" fill="#c9ddf4"/>
<circle cx="369.07" cy="69.34" r="1.85" fill="#c9ddf4"/>
<polyline points="320.26,30.93 329.6,30.93 340,33.22 349.34,39.38 359.56,52.6 369.07,70.22" fill="none" stroke="#9cc3ec" stroke-width="0.9"/>
<circle cx="320.26" cy="30.93" r="1.85" fill="#9cc3ec"/>
<circle cx="329.6" cy="30.93" r="1.85" fill="#9cc3ec"/>
<circle cx="340" cy="33.22" r="1.85" fill="#9cc3ec"/>
<circle cx="349.34" cy="39.38" r="1.85" fill="#9cc3ec"/>
<circle cx="359.56" cy="52.6" r="1.85" fill="#9cc3ec"/>
<circle cx="369.07" cy="70.22" r="1.85" fill="#9cc3ec"/>
<polyline points="320.26,38.15 329.6,38.15 340,38.5 349.34,49.96 359.56,60.18 369.07,71.1" fill="none" stroke="#5e9ee0" stroke-width="0.9"/>
<path d="M349.34 47.31V52.6M348.04 47.31H350.64M348.04 52.6H350.64" stroke="#5e9ee0" stroke-width="0.6" fill="none"/>
<circle cx="320.26" cy="38.15" r="1.85" fill="#5e9ee0"/>
<circle cx="329.6" cy="38.15" r="1.85" fill="#5e9ee0"/>
<circle cx="340" cy="38.5" r="1.85" fill="#5e9ee0"/>
<circle cx="349.34" cy="49.96" r="1.85" fill="#5e9ee0"/>
<circle cx="359.56" cy="60.18" r="1.85" fill="#5e9ee0"/>
<circle cx="369.07" cy="71.1" r="1.85" fill="#5e9ee0"/>
<polyline points="320.26,40.26 329.6,42.03 340,53.83 349.34,61.41 359.56,66.7 369.07,74.63" fill="none" stroke="#3f5ec0" stroke-width="0.9"/>
<path d="M340 59.65V65.81M338.7 59.65H341.3M338.7 65.81H341.3" stroke="#3f5ec0" stroke-width="0.6" fill="none"/>
<path d="M349.34 57.89V64.93M348.04 57.89H350.64M348.04 64.93H350.64" stroke="#3f5ec0" stroke-width="0.6" fill="none"/>
<path d="M359.56 70.22V76.39M358.26 70.22H360.86M358.26 76.39H360.86" stroke="#3f5ec0" stroke-width="0.6" fill="none"/>
<circle cx="320.26" cy="40.26" r="1.85" fill="#3f5ec0"/>
<circle cx="329.6" cy="42.03" r="1.85" fill="#3f5ec0"/>
<circle cx="340" cy="53.83" r="1.85" fill="#3f5ec0"/>
<circle cx="349.34" cy="61.41" r="1.85" fill="#3f5ec0"/>
<circle cx="359.56" cy="66.7" r="1.85" fill="#3f5ec0"/>
<circle cx="369.07" cy="74.63" r="1.85" fill="#3f5ec0"/>
<polyline points="320.26,45.02 329.6,51.37 340,62.29 349.34,70.22 359.56,72.86 369.07,80.79" fill="none" stroke="#28409f" stroke-width="0.9"/>
<circle cx="320.26" cy="45.02" r="1.85" fill="#28409f"/>
<circle cx="329.6" cy="51.37" r="1.85" fill="#28409f"/>
<circle cx="340" cy="62.29" r="1.85" fill="#28409f"/>
<circle cx="349.34" cy="70.22" r="1.85" fill="#28409f"/>
<circle cx="359.56" cy="72.86" r="1.85" fill="#28409f"/>
<circle cx="369.07" cy="80.79" r="1.85" fill="#28409f"/>
<polyline points="309.69,31.45 320.26,33.22 329.6,42.03 340,42.91 349.34,44.67" fill="none" stroke="#8e8e8e" stroke-width="0.9"/>
<circle cx="309.69" cy="31.45" r="1.85" fill="#8e8e8e"/>
<circle cx="320.26" cy="33.22" r="1.85" fill="#8e8e8e"/>
<circle cx="329.6" cy="42.03" r="1.85" fill="#8e8e8e"/>
<circle cx="340" cy="42.91" r="1.85" fill="#8e8e8e"/>
<circle cx="349.34" cy="44.67" r="1.85" fill="#8e8e8e"/>
<polyline points="320.26,30.57 329.6,27.93 340,29.69 349.34,33.74 359.56,43.26 369.07,67.22" fill="none" stroke="#111111" stroke-width="0.9"/>
<path d="M329.6 26.7V29.69M328.3 26.7H330.9M328.3 29.69H330.9" stroke="#111111" stroke-width="0.6" fill="none"/>
<circle cx="320.26" cy="30.57" r="1.85" fill="#111111"/>
<circle cx="329.6" cy="27.93" r="1.85" fill="#111111"/>
<circle cx="340" cy="29.69" r="1.85" fill="#111111"/>
<circle cx="349.34" cy="33.74" r="1.85" fill="#111111"/>
<circle cx="359.56" cy="43.26" r="1.85" fill="#111111"/>
<circle cx="369.07" cy="67.22" r="1.85" fill="#111111"/>
<text transform="translate(429.1,12.1) scale(0.96,1)" font-size="8.5" text-anchor="middle" font-weight="bold" fill="#111">425362-245-T-J1</text>
<text x="429.1" y="20.35" font-size="7" text-anchor="middle" font-weight="normal" fill="#333">(melanoma)</text>
<line x1="397.8" y1="28.1" x2="461" y2="28.1" stroke="#9c9c9c" stroke-width="1.0"/>
<line x1="397.8" y1="48.5" x2="461" y2="48.5" stroke="#9c9c9c" stroke-width="1.0"/>
<line x1="397.8" y1="68.8" x2="461" y2="68.8" stroke="#9c9c9c" stroke-width="1.0"/>
<line x1="395.6" y1="28.1" x2="397.8" y2="28.1" stroke="#666" stroke-width="0.6"/>
<line x1="395.6" y1="48.45" x2="397.8" y2="48.45" stroke="#666" stroke-width="0.6"/>
<line x1="396.6" y1="42.32" x2="397.8" y2="42.32" stroke="#666" stroke-width="0.6"/>
<line x1="396.6" y1="38.74" x2="397.8" y2="38.74" stroke="#666" stroke-width="0.6"/>
<line x1="396.6" y1="36.2" x2="397.8" y2="36.2" stroke="#666" stroke-width="0.6"/>
<line x1="396.6" y1="34.23" x2="397.8" y2="34.23" stroke="#666" stroke-width="0.6"/>
<line x1="396.6" y1="32.61" x2="397.8" y2="32.61" stroke="#666" stroke-width="0.6"/>
<line x1="396.6" y1="31.25" x2="397.8" y2="31.25" stroke="#666" stroke-width="0.6"/>
<line x1="396.6" y1="30.07" x2="397.8" y2="30.07" stroke="#666" stroke-width="0.6"/>
<line x1="396.6" y1="29.03" x2="397.8" y2="29.03" stroke="#666" stroke-width="0.6"/>
<line x1="395.6" y1="68.8" x2="397.8" y2="68.8" stroke="#666" stroke-width="0.6"/>
<line x1="396.6" y1="62.67" x2="397.8" y2="62.67" stroke="#666" stroke-width="0.6"/>
<line x1="396.6" y1="59.09" x2="397.8" y2="59.09" stroke="#666" stroke-width="0.6"/>
<line x1="396.6" y1="56.55" x2="397.8" y2="56.55" stroke="#666" stroke-width="0.6"/>
<line x1="396.6" y1="54.58" x2="397.8" y2="54.58" stroke="#666" stroke-width="0.6"/>
<line x1="396.6" y1="52.96" x2="397.8" y2="52.96" stroke="#666" stroke-width="0.6"/>
<line x1="396.6" y1="51.6" x2="397.8" y2="51.6" stroke="#666" stroke-width="0.6"/>
<line x1="396.6" y1="50.42" x2="397.8" y2="50.42" stroke="#666" stroke-width="0.6"/>
<line x1="396.6" y1="49.38" x2="397.8" y2="49.38" stroke="#666" stroke-width="0.6"/>
<line x1="396.6" y1="83.02" x2="397.8" y2="83.02" stroke="#666" stroke-width="0.6"/>
<line x1="396.6" y1="79.44" x2="397.8" y2="79.44" stroke="#666" stroke-width="0.6"/>
<line x1="396.6" y1="76.9" x2="397.8" y2="76.9" stroke="#666" stroke-width="0.6"/>
<line x1="396.6" y1="74.93" x2="397.8" y2="74.93" stroke="#666" stroke-width="0.6"/>
<line x1="396.6" y1="73.31" x2="397.8" y2="73.31" stroke="#666" stroke-width="0.6"/>
<line x1="396.6" y1="71.95" x2="397.8" y2="71.95" stroke="#666" stroke-width="0.6"/>
<line x1="396.6" y1="70.77" x2="397.8" y2="70.77" stroke="#666" stroke-width="0.6"/>
<line x1="396.6" y1="69.73" x2="397.8" y2="69.73" stroke="#666" stroke-width="0.6"/>
<line x1="399.18" y1="89.1" x2="399.18" y2="90.3" stroke="#666" stroke-width="0.6"/>
<line x1="401.62" y1="89.1" x2="401.62" y2="90.3" stroke="#666" stroke-width="0.6"/>
<line x1="403.51" y1="89.1" x2="403.51" y2="90.3" stroke="#666" stroke-width="0.6"/>
<line x1="405.06" y1="89.1" x2="405.06" y2="90.3" stroke="#666" stroke-width="0.6"/>
<line x1="406.37" y1="89.1" x2="406.37" y2="90.3" stroke="#666" stroke-width="0.6"/>
<line x1="407.51" y1="89.1" x2="407.51" y2="90.3" stroke="#666" stroke-width="0.6"/>
<line x1="408.51" y1="89.1" x2="408.51" y2="90.3" stroke="#666" stroke-width="0.6"/>
<line x1="409.4" y1="89.1" x2="409.4" y2="91.3" stroke="#666" stroke-width="0.6"/>
<line x1="415.29" y1="89.1" x2="415.29" y2="90.3" stroke="#666" stroke-width="0.6"/>
<line x1="418.73" y1="89.1" x2="418.73" y2="90.3" stroke="#666" stroke-width="0.6"/>
<line x1="421.17" y1="89.1" x2="421.17" y2="90.3" stroke="#666" stroke-width="0.6"/>
<line x1="423.06" y1="89.1" x2="423.06" y2="90.3" stroke="#666" stroke-width="0.6"/>
<line x1="424.61" y1="89.1" x2="424.61" y2="90.3" stroke="#666" stroke-width="0.6"/>
<line x1="425.92" y1="89.1" x2="425.92" y2="90.3" stroke="#666" stroke-width="0.6"/>
<line x1="427.06" y1="89.1" x2="427.06" y2="90.3" stroke="#666" stroke-width="0.6"/>
<line x1="428.06" y1="89.1" x2="428.06" y2="90.3" stroke="#666" stroke-width="0.6"/>
<line x1="428.95" y1="89.1" x2="428.95" y2="91.3" stroke="#666" stroke-width="0.6"/>
<line x1="434.84" y1="89.1" x2="434.84" y2="90.3" stroke="#666" stroke-width="0.6"/>
<line x1="438.28" y1="89.1" x2="438.28" y2="90.3" stroke="#666" stroke-width="0.6"/>
<line x1="440.72" y1="89.1" x2="440.72" y2="90.3" stroke="#666" stroke-width="0.6"/>
<line x1="442.61" y1="89.1" x2="442.61" y2="90.3" stroke="#666" stroke-width="0.6"/>
<line x1="444.16" y1="89.1" x2="444.16" y2="90.3" stroke="#666" stroke-width="0.6"/>
<line x1="445.47" y1="89.1" x2="445.47" y2="90.3" stroke="#666" stroke-width="0.6"/>
<line x1="446.61" y1="89.1" x2="446.61" y2="90.3" stroke="#666" stroke-width="0.6"/>
<line x1="447.61" y1="89.1" x2="447.61" y2="90.3" stroke="#666" stroke-width="0.6"/>
<line x1="448.5" y1="89.1" x2="448.5" y2="91.3" stroke="#666" stroke-width="0.6"/>
<line x1="454.39" y1="89.1" x2="454.39" y2="90.3" stroke="#666" stroke-width="0.6"/>
<line x1="457.83" y1="89.1" x2="457.83" y2="90.3" stroke="#666" stroke-width="0.6"/>
<line x1="460.27" y1="89.1" x2="460.27" y2="90.3" stroke="#666" stroke-width="0.6"/>
<line x1="397.8" y1="24.5" x2="397.8" y2="89.1" stroke="#6a6a6a" stroke-width="0.95"/>
<line x1="397.8" y1="89.1" x2="461" y2="89.1" stroke="#6a6a6a" stroke-width="0.95"/>
<text transform="translate(395.2,30.45) scale(0.9,1)" font-size="6.4" text-anchor="end" font-weight="normal" fill="#2a2a2a">100</text>
<text transform="translate(395.2,50.85) scale(0.9,1)" font-size="6.4" text-anchor="end" font-weight="normal" fill="#2a2a2a">10</text>
<text transform="translate(395.2,71.15) scale(0.9,1)" font-size="6.4" text-anchor="end" font-weight="normal" fill="#2a2a2a">1</text>
<text transform="translate(395.2,91.45) scale(0.9,1)" font-size="6.4" text-anchor="end" font-weight="normal" fill="#2a2a2a">0.1</text>
<text transform="translate(409.4,96.3) scale(0.9,1)" font-size="6.4" text-anchor="middle" font-weight="normal" fill="#2a2a2a">0.01</text>
<text transform="translate(428.8,96.3) scale(0.9,1)" font-size="6.4" text-anchor="middle" font-weight="normal" fill="#2a2a2a">0.1</text>
<text transform="translate(448.5,96.3) scale(0.9,1)" font-size="6.4" text-anchor="middle" font-weight="normal" fill="#2a2a2a">1</text>
<polyline points="409.41,30.33 419.18,31.27 428.76,40.66 438.52,54.74 448.47,60.38 457.3,80.09" fill="none" stroke="#c9ddf4" stroke-width="0.9"/>
<circle cx="409.41" cy="30.33" r="1.85" fill="#c9ddf4"/>
<circle cx="419.18" cy="31.27" r="1.85" fill="#c9ddf4"/>
<circle cx="428.76" cy="40.66" r="1.85" fill="#c9ddf4"/>
<circle cx="438.52" cy="54.74" r="1.85" fill="#c9ddf4"/>
<circle cx="448.47" cy="60.38" r="1.85" fill="#c9ddf4"/>
<circle cx="457.3" cy="80.09" r="1.85" fill="#c9ddf4"/>
<polyline points="409.41,31.64 419.18,34.08 428.76,43.47 438.52,57.56 448.47,64.13 457.3,81.97" fill="none" stroke="#9cc3ec" stroke-width="0.9"/>
<circle cx="409.41" cy="31.64" r="1.85" fill="#9cc3ec"/>
<circle cx="419.18" cy="34.08" r="1.85" fill="#9cc3ec"/>
<circle cx="428.76" cy="43.47" r="1.85" fill="#9cc3ec"/>
<circle cx="438.52" cy="57.56" r="1.85" fill="#9cc3ec"/>
<circle cx="448.47" cy="64.13" r="1.85" fill="#9cc3ec"/>
<circle cx="457.3" cy="81.97" r="1.85" fill="#9cc3ec"/>
<polyline points="409.41,37.84 419.18,43.47 428.76,48.17 438.52,60 448.47,66.57 457.3,84.79" fill="none" stroke="#5e9ee0" stroke-width="0.9"/>
<path d="M409.41 35.02V40.66M408.11 35.02H410.71M408.11 40.66H410.71" stroke="#5e9ee0" stroke-width="0.6" fill="none"/>
<path d="M419.18 40.66V46.29M417.88 40.66H420.48M417.88 46.29H420.48" stroke="#5e9ee0" stroke-width="0.6" fill="none"/>
<circle cx="409.41" cy="37.84" r="1.85" fill="#5e9ee0"/>
<circle cx="419.18" cy="43.47" r="1.85" fill="#5e9ee0"/>
<circle cx="428.76" cy="48.17" r="1.85" fill="#5e9ee0"/>
<circle cx="438.52" cy="60" r="1.85" fill="#5e9ee0"/>
<circle cx="448.47" cy="66.57" r="1.85" fill="#5e9ee0"/>
<circle cx="457.3" cy="84.79" r="1.85" fill="#5e9ee0"/>
<polyline points="409.41,55.31 419.18,54.74 428.76,59.44 438.52,60.38 448.47,67.89 457.3,81.03" fill="none" stroke="#3f5ec0" stroke-width="0.9"/>
<path d="M409.41 53.43V57.56M408.11 53.43H410.71M408.11 57.56H410.71" stroke="#3f5ec0" stroke-width="0.6" fill="none"/>
<path d="M448.47 65.07V75.96M447.17 65.07H449.77M447.17 75.96H449.77" stroke="#3f5ec0" stroke-width="0.6" fill="none"/>
<circle cx="409.41" cy="55.31" r="1.85" fill="#3f5ec0"/>
<circle cx="419.18" cy="54.74" r="1.85" fill="#3f5ec0"/>
<circle cx="428.76" cy="59.44" r="1.85" fill="#3f5ec0"/>
<circle cx="438.52" cy="60.38" r="1.85" fill="#3f5ec0"/>
<circle cx="448.47" cy="67.89" r="1.85" fill="#3f5ec0"/>
<circle cx="457.3" cy="81.03" r="1.85" fill="#3f5ec0"/>
<polyline points="409.41,62.82 419.18,63.19 428.76,62.82 438.52,63.57 448.47,69.77 457.3,82.91" fill="none" stroke="#28409f" stroke-width="0.9"/>
<circle cx="409.41" cy="62.82" r="1.85" fill="#28409f"/>
<circle cx="419.18" cy="63.19" r="1.85" fill="#28409f"/>
<circle cx="428.76" cy="62.82" r="1.85" fill="#28409f"/>
<circle cx="438.52" cy="63.57" r="1.85" fill="#28409f"/>
<circle cx="448.47" cy="69.77" r="1.85" fill="#28409f"/>
<circle cx="457.3" cy="82.91" r="1.85" fill="#28409f"/>
<polyline points="400.02,29.39 409.41,29.39 419.18,36.9 428.76,54.18 438.52,64.13" fill="none" stroke="#8e8e8e" stroke-width="0.9"/>
<circle cx="400.02" cy="29.39" r="1.85" fill="#8e8e8e"/>
<circle cx="409.41" cy="29.39" r="1.85" fill="#8e8e8e"/>
<circle cx="419.18" cy="36.9" r="1.85" fill="#8e8e8e"/>
<circle cx="428.76" cy="54.18" r="1.85" fill="#8e8e8e"/>
<circle cx="438.52" cy="64.13" r="1.85" fill="#8e8e8e"/>
<polyline points="409.41,27.89 419.18,29.39 428.76,34.46 438.52,52.3 448.47,54.37 457.3,76.34" fill="none" stroke="#111111" stroke-width="0.9"/>
<path d="M448.47 51.92V56.62M447.17 51.92H449.77M447.17 56.62H449.77" stroke="#111111" stroke-width="0.6" fill="none"/>
<circle cx="409.41" cy="27.89" r="1.85" fill="#111111"/>
<circle cx="419.18" cy="29.39" r="1.85" fill="#111111"/>
<circle cx="428.76" cy="34.46" r="1.85" fill="#111111"/>
<circle cx="438.52" cy="52.3" r="1.85" fill="#111111"/>
<circle cx="448.47" cy="54.37" r="1.85" fill="#111111"/>
<circle cx="457.3" cy="76.34" r="1.85" fill="#111111"/>
<text transform="translate(67.8,234.7) scale(0.96,1)" font-size="8.5" text-anchor="middle" font-weight="bold" fill="#111">287954-098-R-J1</text>
<text x="67.8" y="242.95" font-size="7" text-anchor="middle" font-weight="normal" fill="#333">(Ewing sarcoma)</text>
<line x1="33.6" y1="251.2" x2="101.6" y2="251.2" stroke="#9c9c9c" stroke-width="1.0"/>
<line x1="33.6" y1="276.5" x2="101.6" y2="276.5" stroke="#9c9c9c" stroke-width="1.0"/>
<line x1="33.6" y1="301.9" x2="101.6" y2="301.9" stroke="#9c9c9c" stroke-width="1.0"/>
<line x1="31.4" y1="251.2" x2="33.6" y2="251.2" stroke="#666" stroke-width="0.6"/>
<line x1="31.4" y1="276.55" x2="33.6" y2="276.55" stroke="#666" stroke-width="0.6"/>
<line x1="32.4" y1="268.92" x2="33.6" y2="268.92" stroke="#666" stroke-width="0.6"/>
<line x1="32.4" y1="264.45" x2="33.6" y2="264.45" stroke="#666" stroke-width="0.6"/>
<line x1="32.4" y1="261.29" x2="33.6" y2="261.29" stroke="#666" stroke-width="0.6"/>
<line x1="32.4" y1="258.83" x2="33.6" y2="258.83" stroke="#666" stroke-width="0.6"/>
<line x1="32.4" y1="256.82" x2="33.6" y2="256.82" stroke="#666" stroke-width="0.6"/>
<line x1="32.4" y1="255.13" x2="33.6" y2="255.13" stroke="#666" stroke-width="0.6"/>
<line x1="32.4" y1="253.66" x2="33.6" y2="253.66" stroke="#666" stroke-width="0.6"/>
<line x1="32.4" y1="252.36" x2="33.6" y2="252.36" stroke="#666" stroke-width="0.6"/>
<line x1="31.4" y1="301.9" x2="33.6" y2="301.9" stroke="#666" stroke-width="0.6"/>
<line x1="32.4" y1="294.27" x2="33.6" y2="294.27" stroke="#666" stroke-width="0.6"/>
<line x1="32.4" y1="289.8" x2="33.6" y2="289.8" stroke="#666" stroke-width="0.6"/>
<line x1="32.4" y1="286.64" x2="33.6" y2="286.64" stroke="#666" stroke-width="0.6"/>
<line x1="32.4" y1="284.18" x2="33.6" y2="284.18" stroke="#666" stroke-width="0.6"/>
<line x1="32.4" y1="282.17" x2="33.6" y2="282.17" stroke="#666" stroke-width="0.6"/>
<line x1="32.4" y1="280.48" x2="33.6" y2="280.48" stroke="#666" stroke-width="0.6"/>
<line x1="32.4" y1="279.01" x2="33.6" y2="279.01" stroke="#666" stroke-width="0.6"/>
<line x1="32.4" y1="277.71" x2="33.6" y2="277.71" stroke="#666" stroke-width="0.6"/>
<line x1="36.18" y1="316" x2="36.18" y2="317.2" stroke="#666" stroke-width="0.6"/>
<line x1="38.48" y1="316" x2="38.48" y2="317.2" stroke="#666" stroke-width="0.6"/>
<line x1="40.26" y1="316" x2="40.26" y2="317.2" stroke="#666" stroke-width="0.6"/>
<line x1="41.72" y1="316" x2="41.72" y2="317.2" stroke="#666" stroke-width="0.6"/>
<line x1="42.95" y1="316" x2="42.95" y2="317.2" stroke="#666" stroke-width="0.6"/>
<line x1="44.02" y1="316" x2="44.02" y2="317.2" stroke="#666" stroke-width="0.6"/>
<line x1="44.96" y1="316" x2="44.96" y2="317.2" stroke="#666" stroke-width="0.6"/>
<line x1="45.8" y1="316" x2="45.8" y2="318.2" stroke="#666" stroke-width="0.6"/>
<line x1="51.34" y1="316" x2="51.34" y2="317.2" stroke="#666" stroke-width="0.6"/>
<line x1="54.58" y1="316" x2="54.58" y2="317.2" stroke="#666" stroke-width="0.6"/>
<line x1="56.88" y1="316" x2="56.88" y2="317.2" stroke="#666" stroke-width="0.6"/>
<line x1="58.66" y1="316" x2="58.66" y2="317.2" stroke="#666" stroke-width="0.6"/>
<line x1="60.12" y1="316" x2="60.12" y2="317.2" stroke="#666" stroke-width="0.6"/>
<line x1="61.35" y1="316" x2="61.35" y2="317.2" stroke="#666" stroke-width="0.6"/>
<line x1="62.42" y1="316" x2="62.42" y2="317.2" stroke="#666" stroke-width="0.6"/>
<line x1="63.36" y1="316" x2="63.36" y2="317.2" stroke="#666" stroke-width="0.6"/>
<line x1="64.2" y1="316" x2="64.2" y2="318.2" stroke="#666" stroke-width="0.6"/>
<line x1="69.74" y1="316" x2="69.74" y2="317.2" stroke="#666" stroke-width="0.6"/>
<line x1="72.98" y1="316" x2="72.98" y2="317.2" stroke="#666" stroke-width="0.6"/>
<line x1="75.28" y1="316" x2="75.28" y2="317.2" stroke="#666" stroke-width="0.6"/>
<line x1="77.06" y1="316" x2="77.06" y2="317.2" stroke="#666" stroke-width="0.6"/>
<line x1="78.52" y1="316" x2="78.52" y2="317.2" stroke="#666" stroke-width="0.6"/>
<line x1="79.75" y1="316" x2="79.75" y2="317.2" stroke="#666" stroke-width="0.6"/>
<line x1="80.82" y1="316" x2="80.82" y2="317.2" stroke="#666" stroke-width="0.6"/>
<line x1="81.76" y1="316" x2="81.76" y2="317.2" stroke="#666" stroke-width="0.6"/>
<line x1="82.6" y1="316" x2="82.6" y2="318.2" stroke="#666" stroke-width="0.6"/>
<line x1="88.14" y1="316" x2="88.14" y2="317.2" stroke="#666" stroke-width="0.6"/>
<line x1="91.38" y1="316" x2="91.38" y2="317.2" stroke="#666" stroke-width="0.6"/>
<line x1="93.68" y1="316" x2="93.68" y2="317.2" stroke="#666" stroke-width="0.6"/>
<line x1="95.46" y1="316" x2="95.46" y2="317.2" stroke="#666" stroke-width="0.6"/>
<line x1="96.92" y1="316" x2="96.92" y2="317.2" stroke="#666" stroke-width="0.6"/>
<line x1="98.15" y1="316" x2="98.15" y2="317.2" stroke="#666" stroke-width="0.6"/>
<line x1="99.22" y1="316" x2="99.22" y2="317.2" stroke="#666" stroke-width="0.6"/>
<line x1="100.16" y1="316" x2="100.16" y2="317.2" stroke="#666" stroke-width="0.6"/>
<line x1="101" y1="316" x2="101" y2="318.2" stroke="#666" stroke-width="0.6"/>
<line x1="33.6" y1="247.3" x2="33.6" y2="316" stroke="#6a6a6a" stroke-width="0.95"/>
<line x1="33.6" y1="316" x2="101.6" y2="316" stroke="#6a6a6a" stroke-width="0.95"/>
<text transform="translate(31,253.55) scale(0.9,1)" font-size="6.4" text-anchor="end" font-weight="normal" fill="#2a2a2a">100</text>
<text transform="translate(31,278.85) scale(0.9,1)" font-size="6.4" text-anchor="end" font-weight="normal" fill="#2a2a2a">10</text>
<text transform="translate(31,304.25) scale(0.9,1)" font-size="6.4" text-anchor="end" font-weight="normal" fill="#2a2a2a">1</text>
<text transform="translate(45.8,324) scale(0.9,1)" font-size="6.4" text-anchor="middle" font-weight="normal" fill="#2a2a2a">0.01</text>
<text transform="translate(63.7,324) scale(0.9,1)" font-size="6.4" text-anchor="middle" font-weight="normal" fill="#2a2a2a">0.1</text>
<text transform="translate(82.5,324) scale(0.9,1)" font-size="6.4" text-anchor="middle" font-weight="normal" fill="#2a2a2a">1</text>
<text transform="translate(100.9,324) scale(0.9,1)" font-size="6.4" text-anchor="middle" font-weight="normal" fill="#2a2a2a">10</text>
<polyline points="54.67,255.89 64.06,272.79 73.07,280.31 82.46,291.01 91.85,293.45 100.86,292.89" fill="none" stroke="#c9ddf4" stroke-width="0.9"/>
<circle cx="54.67" cy="255.89" r="1.85" fill="#c9ddf4"/>
<circle cx="64.06" cy="272.79" r="1.85" fill="#c9ddf4"/>
<circle cx="73.07" cy="280.31" r="1.85" fill="#c9ddf4"/>
<circle cx="82.46" cy="291.01" r="1.85" fill="#c9ddf4"/>
<circle cx="91.85" cy="293.45" r="1.85" fill="#c9ddf4"/>
<circle cx="100.86" cy="292.89" r="1.85" fill="#c9ddf4"/>
<polyline points="54.67,287.82 64.06,294.2 73.07,293.45 82.46,295.33 91.85,297.21 100.86,296.64" fill="none" stroke="#9cc3ec" stroke-width="0.9"/>
<path d="M54.67 284.44V291.01M53.37 284.44H55.97M53.37 291.01H55.97" stroke="#9cc3ec" stroke-width="0.6" fill="none"/>
<circle cx="54.67" cy="287.82" r="1.85" fill="#9cc3ec"/>
<circle cx="64.06" cy="294.2" r="1.85" fill="#9cc3ec"/>
<circle cx="73.07" cy="293.45" r="1.85" fill="#9cc3ec"/>
<circle cx="82.46" cy="295.33" r="1.85" fill="#9cc3ec"/>
<circle cx="91.85" cy="297.21" r="1.85" fill="#9cc3ec"/>
<circle cx="100.86" cy="296.64" r="1.85" fill="#9cc3ec"/>
<polyline points="54.67,295.33 64.06,296.08 73.07,296.08 82.46,303.22 91.85,299.46 100.86,297.96" fill="none" stroke="#5e9ee0" stroke-width="0.9"/>
<path d="M82.46 300.4V308.85M81.16 300.4H83.76M81.16 308.85H83.76" stroke="#5e9ee0" stroke-width="0.6" fill="none"/>
<circle cx="54.67" cy="295.33" r="1.85" fill="#5e9ee0"/>
<circle cx="64.06" cy="296.08" r="1.85" fill="#5e9ee0"/>
<circle cx="73.07" cy="296.08" r="1.85" fill="#5e9ee0"/>
<circle cx="82.46" cy="303.22" r="1.85" fill="#5e9ee0"/>
<circle cx="91.85" cy="299.46" r="1.85" fill="#5e9ee0"/>
<circle cx="100.86" cy="297.96" r="1.85" fill="#5e9ee0"/>
<polyline points="54.67,296.08 64.06,299.08 73.07,299.46 82.46,302.28 91.85,305.09 100.86,300.96" fill="none" stroke="#3f5ec0" stroke-width="0.9"/>
<circle cx="54.67" cy="296.08" r="1.85" fill="#3f5ec0"/>
<circle cx="64.06" cy="299.08" r="1.85" fill="#3f5ec0"/>
<circle cx="73.07" cy="299.46" r="1.85" fill="#3f5ec0"/>
<circle cx="82.46" cy="302.28" r="1.85" fill="#3f5ec0"/>
<circle cx="91.85" cy="305.09" r="1.85" fill="#3f5ec0"/>
<circle cx="100.86" cy="300.96" r="1.85" fill="#3f5ec0"/>
<polyline points="54.67,297.96 64.06,299.46 73.07,300.4 82.46,305.09 91.85,306.03 100.86,306.03" fill="none" stroke="#28409f" stroke-width="0.9"/>
<path d="M91.85 303.22V310.73M90.55 303.22H93.15M90.55 310.73H93.15" stroke="#28409f" stroke-width="0.6" fill="none"/>
<circle cx="54.67" cy="297.96" r="1.85" fill="#28409f"/>
<circle cx="64.06" cy="299.46" r="1.85" fill="#28409f"/>
<circle cx="73.07" cy="300.4" r="1.85" fill="#28409f"/>
<circle cx="82.46" cy="305.09" r="1.85" fill="#28409f"/>
<circle cx="91.85" cy="306.03" r="1.85" fill="#28409f"/>
<circle cx="100.86" cy="306.03" r="1.85" fill="#28409f"/>
<polyline points="36.45,251.2 45.84,251.2 54.67,278.43 64.06,299.46 73.07,299.46" fill="none" stroke="#8e8e8e" stroke-width="0.9"/>
<path d="M54.67 269.41V278.8M53.37 269.41H55.97M53.37 278.8H55.97" stroke="#8e8e8e" stroke-width="0.6" fill="none"/>
<circle cx="36.45" cy="251.2" r="1.85" fill="#8e8e8e"/>
<circle cx="45.84" cy="251.2" r="1.85" fill="#8e8e8e"/>
<circle cx="54.67" cy="278.43" r="1.85" fill="#8e8e8e"/>
<circle cx="64.06" cy="299.46" r="1.85" fill="#8e8e8e"/>
<circle cx="73.07" cy="299.46" r="1.85" fill="#8e8e8e"/>
<polyline points="54.67,250.63 64.06,251.57 73.07,263.78 82.46,278.43 91.85,294.77 100.86,289.13" fill="none" stroke="#111111" stroke-width="0.9"/>
<path d="M73.07 260.96V268.47M71.77 260.96H74.37M71.77 268.47H74.37" stroke="#111111" stroke-width="0.6" fill="none"/>
<circle cx="54.67" cy="250.63" r="1.85" fill="#111111"/>
<circle cx="64.06" cy="251.57" r="1.85" fill="#111111"/>
<circle cx="73.07" cy="263.78" r="1.85" fill="#111111"/>
<circle cx="82.46" cy="278.43" r="1.85" fill="#111111"/>
<circle cx="91.85" cy="294.77" r="1.85" fill="#111111"/>
<circle cx="100.86" cy="289.13" r="1.85" fill="#111111"/>
<text transform="translate(157.1,234.7) scale(0.96,1)" font-size="8.5" text-anchor="middle" font-weight="bold" fill="#111">NCI-H841</text>
<text x="157.1" y="242.95" font-size="7" text-anchor="middle" font-weight="normal" fill="#333">(SCLC)</text>
<line x1="120.8" y1="249.1" x2="191.6" y2="249.1" stroke="#9c9c9c" stroke-width="1.0"/>
<line x1="120.8" y1="271.9" x2="191.6" y2="271.9" stroke="#9c9c9c" stroke-width="1.0"/>
<line x1="120.8" y1="294.2" x2="191.6" y2="294.2" stroke="#9c9c9c" stroke-width="1.0"/>
<line x1="118.6" y1="249.1" x2="120.8" y2="249.1" stroke="#666" stroke-width="0.6"/>
<line x1="118.6" y1="271.65" x2="120.8" y2="271.65" stroke="#666" stroke-width="0.6"/>
<line x1="119.6" y1="264.86" x2="120.8" y2="264.86" stroke="#666" stroke-width="0.6"/>
<line x1="119.6" y1="260.89" x2="120.8" y2="260.89" stroke="#666" stroke-width="0.6"/>
<line x1="119.6" y1="258.07" x2="120.8" y2="258.07" stroke="#666" stroke-width="0.6"/>
<line x1="119.6" y1="255.89" x2="120.8" y2="255.89" stroke="#666" stroke-width="0.6"/>
<line x1="119.6" y1="254.1" x2="120.8" y2="254.1" stroke="#666" stroke-width="0.6"/>
<line x1="119.6" y1="252.59" x2="120.8" y2="252.59" stroke="#666" stroke-width="0.6"/>
<line x1="119.6" y1="251.29" x2="120.8" y2="251.29" stroke="#666" stroke-width="0.6"/>
<line x1="119.6" y1="250.13" x2="120.8" y2="250.13" stroke="#666" stroke-width="0.6"/>
<line x1="118.6" y1="294.2" x2="120.8" y2="294.2" stroke="#666" stroke-width="0.6"/>
<line x1="119.6" y1="287.41" x2="120.8" y2="287.41" stroke="#666" stroke-width="0.6"/>
<line x1="119.6" y1="283.44" x2="120.8" y2="283.44" stroke="#666" stroke-width="0.6"/>
<line x1="119.6" y1="280.62" x2="120.8" y2="280.62" stroke="#666" stroke-width="0.6"/>
<line x1="119.6" y1="278.44" x2="120.8" y2="278.44" stroke="#666" stroke-width="0.6"/>
<line x1="119.6" y1="276.65" x2="120.8" y2="276.65" stroke="#666" stroke-width="0.6"/>
<line x1="119.6" y1="275.14" x2="120.8" y2="275.14" stroke="#666" stroke-width="0.6"/>
<line x1="119.6" y1="273.84" x2="120.8" y2="273.84" stroke="#666" stroke-width="0.6"/>
<line x1="119.6" y1="272.68" x2="120.8" y2="272.68" stroke="#666" stroke-width="0.6"/>
<line x1="119.6" y1="309.96" x2="120.8" y2="309.96" stroke="#666" stroke-width="0.6"/>
<line x1="119.6" y1="305.99" x2="120.8" y2="305.99" stroke="#666" stroke-width="0.6"/>
<line x1="119.6" y1="303.17" x2="120.8" y2="303.17" stroke="#666" stroke-width="0.6"/>
<line x1="119.6" y1="300.99" x2="120.8" y2="300.99" stroke="#666" stroke-width="0.6"/>
<line x1="119.6" y1="299.2" x2="120.8" y2="299.2" stroke="#666" stroke-width="0.6"/>
<line x1="119.6" y1="297.69" x2="120.8" y2="297.69" stroke="#666" stroke-width="0.6"/>
<line x1="119.6" y1="296.39" x2="120.8" y2="296.39" stroke="#666" stroke-width="0.6"/>
<line x1="119.6" y1="295.23" x2="120.8" y2="295.23" stroke="#666" stroke-width="0.6"/>
<line x1="123.01" y1="316.4" x2="123.01" y2="317.6" stroke="#666" stroke-width="0.6"/>
<line x1="125.4" y1="316.4" x2="125.4" y2="317.6" stroke="#666" stroke-width="0.6"/>
<line x1="127.25" y1="316.4" x2="127.25" y2="317.6" stroke="#666" stroke-width="0.6"/>
<line x1="128.76" y1="316.4" x2="128.76" y2="317.6" stroke="#666" stroke-width="0.6"/>
<line x1="130.04" y1="316.4" x2="130.04" y2="317.6" stroke="#666" stroke-width="0.6"/>
<line x1="131.15" y1="316.4" x2="131.15" y2="317.6" stroke="#666" stroke-width="0.6"/>
<line x1="132.13" y1="316.4" x2="132.13" y2="317.6" stroke="#666" stroke-width="0.6"/>
<line x1="133" y1="316.4" x2="133" y2="318.6" stroke="#666" stroke-width="0.6"/>
<line x1="138.75" y1="316.4" x2="138.75" y2="317.6" stroke="#666" stroke-width="0.6"/>
<line x1="142.11" y1="316.4" x2="142.11" y2="317.6" stroke="#666" stroke-width="0.6"/>
<line x1="144.5" y1="316.4" x2="144.5" y2="317.6" stroke="#666" stroke-width="0.6"/>
<line x1="146.35" y1="316.4" x2="146.35" y2="317.6" stroke="#666" stroke-width="0.6"/>
<line x1="147.86" y1="316.4" x2="147.86" y2="317.6" stroke="#666" stroke-width="0.6"/>
<line x1="149.14" y1="316.4" x2="149.14" y2="317.6" stroke="#666" stroke-width="0.6"/>
<line x1="150.25" y1="316.4" x2="150.25" y2="317.6" stroke="#666" stroke-width="0.6"/>
<line x1="151.23" y1="316.4" x2="151.23" y2="317.6" stroke="#666" stroke-width="0.6"/>
<line x1="152.1" y1="316.4" x2="152.1" y2="318.6" stroke="#666" stroke-width="0.6"/>
<line x1="157.85" y1="316.4" x2="157.85" y2="317.6" stroke="#666" stroke-width="0.6"/>
<line x1="161.21" y1="316.4" x2="161.21" y2="317.6" stroke="#666" stroke-width="0.6"/>
<line x1="163.6" y1="316.4" x2="163.6" y2="317.6" stroke="#666" stroke-width="0.6"/>
<line x1="165.45" y1="316.4" x2="165.45" y2="317.6" stroke="#666" stroke-width="0.6"/>
<line x1="166.96" y1="316.4" x2="166.96" y2="317.6" stroke="#666" stroke-width="0.6"/>
<line x1="168.24" y1="316.4" x2="168.24" y2="317.6" stroke="#666" stroke-width="0.6"/>
<line x1="169.35" y1="316.4" x2="169.35" y2="317.6" stroke="#666" stroke-width="0.6"/>
<line x1="170.33" y1="316.4" x2="170.33" y2="317.6" stroke="#666" stroke-width="0.6"/>
<line x1="171.2" y1="316.4" x2="171.2" y2="318.6" stroke="#666" stroke-width="0.6"/>
<line x1="176.95" y1="316.4" x2="176.95" y2="317.6" stroke="#666" stroke-width="0.6"/>
<line x1="180.31" y1="316.4" x2="180.31" y2="317.6" stroke="#666" stroke-width="0.6"/>
<line x1="182.7" y1="316.4" x2="182.7" y2="317.6" stroke="#666" stroke-width="0.6"/>
<line x1="184.55" y1="316.4" x2="184.55" y2="317.6" stroke="#666" stroke-width="0.6"/>
<line x1="186.06" y1="316.4" x2="186.06" y2="317.6" stroke="#666" stroke-width="0.6"/>
<line x1="187.34" y1="316.4" x2="187.34" y2="317.6" stroke="#666" stroke-width="0.6"/>
<line x1="188.45" y1="316.4" x2="188.45" y2="317.6" stroke="#666" stroke-width="0.6"/>
<line x1="189.43" y1="316.4" x2="189.43" y2="317.6" stroke="#666" stroke-width="0.6"/>
<line x1="190.3" y1="316.4" x2="190.3" y2="318.6" stroke="#666" stroke-width="0.6"/>
<line x1="120.8" y1="247.3" x2="120.8" y2="316.4" stroke="#6a6a6a" stroke-width="0.95"/>
<line x1="120.8" y1="316.4" x2="191.6" y2="316.4" stroke="#6a6a6a" stroke-width="0.95"/>
<text transform="translate(118.2,251.45) scale(0.9,1)" font-size="6.4" text-anchor="end" font-weight="normal" fill="#2a2a2a">100</text>
<text transform="translate(118.2,274.25) scale(0.9,1)" font-size="6.4" text-anchor="end" font-weight="normal" fill="#2a2a2a">10</text>
<text transform="translate(118.2,296.55) scale(0.9,1)" font-size="6.4" text-anchor="end" font-weight="normal" fill="#2a2a2a">1</text>
<text transform="translate(118.2,318.75) scale(0.9,1)" font-size="6.4" text-anchor="end" font-weight="normal" fill="#2a2a2a">0.1</text>
<text transform="translate(133,324) scale(0.9,1)" font-size="6.4" text-anchor="middle" font-weight="normal" fill="#2a2a2a">0.01</text>
<text transform="translate(151.8,324) scale(0.9,1)" font-size="6.4" text-anchor="middle" font-weight="normal" fill="#2a2a2a">0.1</text>
<text transform="translate(171.5,324) scale(0.9,1)" font-size="6.4" text-anchor="middle" font-weight="normal" fill="#2a2a2a">1</text>
<text transform="translate(190.3,324) scale(0.9,1)" font-size="6.4" text-anchor="middle" font-weight="normal" fill="#2a2a2a">10</text>
<polyline points="142.79,273.17 152.37,284.81 161.57,292.89 171.52,291.57 180.91,290.45 190.3,288.57" fill="none" stroke="#c9ddf4" stroke-width="0.9"/>
<circle cx="142.79" cy="273.17" r="1.85" fill="#c9ddf4"/>
<circle cx="152.37" cy="284.81" r="1.85" fill="#c9ddf4"/>
<circle cx="161.57" cy="292.89" r="1.85" fill="#c9ddf4"/>
<circle cx="171.52" cy="291.57" r="1.85" fill="#c9ddf4"/>
<circle cx="180.91" cy="290.45" r="1.85" fill="#c9ddf4"/>
<circle cx="190.3" cy="288.57" r="1.85" fill="#c9ddf4"/>
<polyline points="142.79,291.95 152.37,295.7 161.57,294.2 171.52,294.2 180.91,292.89 190.3,290.07" fill="none" stroke="#9cc3ec" stroke-width="0.9"/>
<circle cx="142.79" cy="291.95" r="1.85" fill="#9cc3ec"/>
<circle cx="152.37" cy="295.7" r="1.85" fill="#9cc3ec"/>
<circle cx="161.57" cy="294.2" r="1.85" fill="#9cc3ec"/>
<circle cx="171.52" cy="294.2" r="1.85" fill="#9cc3ec"/>
<circle cx="180.91" cy="292.89" r="1.85" fill="#9cc3ec"/>
<circle cx="190.3" cy="290.07" r="1.85" fill="#9cc3ec"/>
<polyline points="142.79,295.33 152.37,298.52 161.57,297.58 171.52,296.08 180.91,294.2 190.3,291.57" fill="none" stroke="#5e9ee0" stroke-width="0.9"/>
<circle cx="142.79" cy="295.33" r="1.85" fill="#5e9ee0"/>
<circle cx="152.37" cy="298.52" r="1.85" fill="#5e9ee0"/>
<circle cx="161.57" cy="297.58" r="1.85" fill="#5e9ee0"/>
<circle cx="171.52" cy="296.08" r="1.85" fill="#5e9ee0"/>
<circle cx="180.91" cy="294.2" r="1.85" fill="#5e9ee0"/>
<circle cx="190.3" cy="291.57" r="1.85" fill="#5e9ee0"/>
<polyline points="142.79,301.34 152.37,302.28 161.57,300.96 171.52,299.08 180.91,296.64 190.3,294.2" fill="none" stroke="#3f5ec0" stroke-width="0.9"/>
<circle cx="142.79" cy="301.34" r="1.85" fill="#3f5ec0"/>
<circle cx="152.37" cy="302.28" r="1.85" fill="#3f5ec0"/>
<circle cx="161.57" cy="300.96" r="1.85" fill="#3f5ec0"/>
<circle cx="171.52" cy="299.08" r="1.85" fill="#3f5ec0"/>
<circle cx="180.91" cy="296.64" r="1.85" fill="#3f5ec0"/>
<circle cx="190.3" cy="294.2" r="1.85" fill="#3f5ec0"/>
<polyline points="142.79,303.22 152.37,304.15 161.57,302.84 171.52,300.96 180.91,299.46 190.3,297.21" fill="none" stroke="#28409f" stroke-width="0.9"/>
<circle cx="142.79" cy="303.22" r="1.85" fill="#28409f"/>
<circle cx="152.37" cy="304.15" r="1.85" fill="#28409f"/>
<circle cx="161.57" cy="302.84" r="1.85" fill="#28409f"/>
<circle cx="171.52" cy="300.96" r="1.85" fill="#28409f"/>
<circle cx="180.91" cy="299.46" r="1.85" fill="#28409f"/>
<circle cx="190.3" cy="297.21" r="1.85" fill="#28409f"/>
<polyline points="124.01,249.32 133.59,250.63 142.79,282.18 152.37,287.25 161.57,287.82" fill="none" stroke="#8e8e8e" stroke-width="0.9"/>
<circle cx="124.01" cy="249.32" r="1.85" fill="#8e8e8e"/>
<circle cx="133.59" cy="250.63" r="1.85" fill="#8e8e8e"/>
<circle cx="142.79" cy="282.18" r="1.85" fill="#8e8e8e"/>
<circle cx="152.37" cy="287.25" r="1.85" fill="#8e8e8e"/>
<circle cx="161.57" cy="287.82" r="1.85" fill="#8e8e8e"/>
<polyline points="142.79,251.2 152.37,258.15 161.57,274.11 171.52,284.06 180.91,287.82 190.3,284.81" fill="none" stroke="#111111" stroke-width="0.9"/>
<circle cx="142.79" cy="251.2" r="1.85" fill="#111111"/>
<circle cx="152.37" cy="258.15" r="1.85" fill="#111111"/>
<circle cx="161.57" cy="274.11" r="1.85" fill="#111111"/>
<circle cx="171.52" cy="284.06" r="1.85" fill="#111111"/>
<circle cx="180.91" cy="287.82" r="1.85" fill="#111111"/>
<circle cx="190.3" cy="284.81" r="1.85" fill="#111111"/>
<text transform="translate(248.2,234.7) scale(0.96,1)" font-size="8.5" text-anchor="middle" font-weight="bold" fill="#111">DMS 114</text>
<text x="248.2" y="242.95" font-size="7" text-anchor="middle" font-weight="normal" fill="#333">(SCLC)</text>
<line x1="212.5" y1="254" x2="280.5" y2="254" stroke="#9c9c9c" stroke-width="1.0"/>
<line x1="212.5" y1="294.2" x2="280.5" y2="294.2" stroke="#9c9c9c" stroke-width="1.0"/>
<line x1="210.3" y1="254" x2="212.5" y2="254" stroke="#666" stroke-width="0.6"/>
<line x1="210.3" y1="294.2" x2="212.5" y2="294.2" stroke="#666" stroke-width="0.6"/>
<line x1="211.3" y1="282.1" x2="212.5" y2="282.1" stroke="#666" stroke-width="0.6"/>
<line x1="211.3" y1="275.02" x2="212.5" y2="275.02" stroke="#666" stroke-width="0.6"/>
<line x1="211.3" y1="270" x2="212.5" y2="270" stroke="#666" stroke-width="0.6"/>
<line x1="211.3" y1="266.1" x2="212.5" y2="266.1" stroke="#666" stroke-width="0.6"/>
<line x1="211.3" y1="262.92" x2="212.5" y2="262.92" stroke="#666" stroke-width="0.6"/>
<line x1="211.3" y1="260.23" x2="212.5" y2="260.23" stroke="#666" stroke-width="0.6"/>
<line x1="211.3" y1="257.9" x2="212.5" y2="257.9" stroke="#666" stroke-width="0.6"/>
<line x1="211.3" y1="255.84" x2="212.5" y2="255.84" stroke="#666" stroke-width="0.6"/>
<line x1="212.53" y1="316" x2="212.53" y2="317.2" stroke="#666" stroke-width="0.6"/>
<line x1="215.75" y1="316" x2="215.75" y2="317.2" stroke="#666" stroke-width="0.6"/>
<line x1="218.03" y1="316" x2="218.03" y2="317.2" stroke="#666" stroke-width="0.6"/>
<line x1="219.8" y1="316" x2="219.8" y2="317.2" stroke="#666" stroke-width="0.6"/>
<line x1="221.25" y1="316" x2="221.25" y2="317.2" stroke="#666" stroke-width="0.6"/>
<line x1="222.47" y1="316" x2="222.47" y2="317.2" stroke="#666" stroke-width="0.6"/>
<line x1="223.53" y1="316" x2="223.53" y2="317.2" stroke="#666" stroke-width="0.6"/>
<line x1="224.46" y1="316" x2="224.46" y2="317.2" stroke="#666" stroke-width="0.6"/>
<line x1="225.3" y1="316" x2="225.3" y2="318.2" stroke="#666" stroke-width="0.6"/>
<line x1="230.8" y1="316" x2="230.8" y2="317.2" stroke="#666" stroke-width="0.6"/>
<line x1="234.02" y1="316" x2="234.02" y2="317.2" stroke="#666" stroke-width="0.6"/>
<line x1="236.3" y1="316" x2="236.3" y2="317.2" stroke="#666" stroke-width="0.6"/>
<line x1="238.07" y1="316" x2="238.07" y2="317.2" stroke="#666" stroke-width="0.6"/>
<line x1="239.52" y1="316" x2="239.52" y2="317.2" stroke="#666" stroke-width="0.6"/>
<line x1="240.74" y1="316" x2="240.74" y2="317.2" stroke="#666" stroke-width="0.6"/>
<line x1="241.8" y1="316" x2="241.8" y2="317.2" stroke="#666" stroke-width="0.6"/>
<line x1="242.73" y1="316" x2="242.73" y2="317.2" stroke="#666" stroke-width="0.6"/>
<line x1="243.57" y1="316" x2="243.57" y2="318.2" stroke="#666" stroke-width="0.6"/>
<line x1="249.07" y1="316" x2="249.07" y2="317.2" stroke="#666" stroke-width="0.6"/>
<line x1="252.29" y1="316" x2="252.29" y2="317.2" stroke="#666" stroke-width="0.6"/>
<line x1="254.57" y1="316" x2="254.57" y2="317.2" stroke="#666" stroke-width="0.6"/>
<line x1="256.34" y1="316" x2="256.34" y2="317.2" stroke="#666" stroke-width="0.6"/>
<line x1="257.79" y1="316" x2="257.79" y2="317.2" stroke="#666" stroke-width="0.6"/>
<line x1="259.01" y1="316" x2="259.01" y2="317.2" stroke="#666" stroke-width="0.6"/>
<line x1="260.07" y1="316" x2="260.07" y2="317.2" stroke="#666" stroke-width="0.6"/>
<line x1="261" y1="316" x2="261" y2="317.2" stroke="#666" stroke-width="0.6"/>
<line x1="261.84" y1="316" x2="261.84" y2="318.2" stroke="#666" stroke-width="0.6"/>
<line x1="267.34" y1="316" x2="267.34" y2="317.2" stroke="#666" stroke-width="0.6"/>
<line x1="270.56" y1="316" x2="270.56" y2="317.2" stroke="#666" stroke-width="0.6"/>
<line x1="272.84" y1="316" x2="272.84" y2="317.2" stroke="#666" stroke-width="0.6"/>
<line x1="274.61" y1="316" x2="274.61" y2="317.2" stroke="#666" stroke-width="0.6"/>
<line x1="276.06" y1="316" x2="276.06" y2="317.2" stroke="#666" stroke-width="0.6"/>
<line x1="277.28" y1="316" x2="277.28" y2="317.2" stroke="#666" stroke-width="0.6"/>
<line x1="278.34" y1="316" x2="278.34" y2="317.2" stroke="#666" stroke-width="0.6"/>
<line x1="279.27" y1="316" x2="279.27" y2="317.2" stroke="#666" stroke-width="0.6"/>
<line x1="280.11" y1="316" x2="280.11" y2="318.2" stroke="#666" stroke-width="0.6"/>
<line x1="212.5" y1="247.3" x2="212.5" y2="316" stroke="#6a6a6a" stroke-width="0.95"/>
<line x1="212.5" y1="316" x2="280.5" y2="316" stroke="#6a6a6a" stroke-width="0.95"/>
<text transform="translate(209.9,256.35) scale(0.9,1)" font-size="6.4" text-anchor="end" font-weight="normal" fill="#2a2a2a">100</text>
<text transform="translate(209.9,296.55) scale(0.9,1)" font-size="6.4" text-anchor="end" font-weight="normal" fill="#2a2a2a">10</text>
<text transform="translate(225.3,324) scale(0.9,1)" font-size="6.4" text-anchor="middle" font-weight="normal" fill="#2a2a2a">0.01</text>
<text transform="translate(243.5,324) scale(0.9,1)" font-size="6.4" text-anchor="middle" font-weight="normal" fill="#2a2a2a">0.1</text>
<text transform="translate(261.7,324) scale(0.9,1)" font-size="6.4" text-anchor="middle" font-weight="normal" fill="#2a2a2a">1</text>
<text transform="translate(280.1,324) scale(0.9,1)" font-size="6.4" text-anchor="middle" font-weight="normal" fill="#2a2a2a">10</text>
<polyline points="225.28,256.27 234.11,278.43 243.5,281.06 252.32,285.38 261.71,291.95 270.73,295.7 280.12,296.64" fill="none" stroke="#c9ddf4" stroke-width="0.9"/>
<circle cx="225.28" cy="256.27" r="1.85" fill="#c9ddf4"/>
<circle cx="234.11" cy="278.43" r="1.85" fill="#c9ddf4"/>
<circle cx="243.5" cy="281.06" r="1.85" fill="#c9ddf4"/>
<circle cx="252.32" cy="285.38" r="1.85" fill="#c9ddf4"/>
<circle cx="261.71" cy="291.95" r="1.85" fill="#c9ddf4"/>
<circle cx="270.73" cy="295.7" r="1.85" fill="#c9ddf4"/>
<circle cx="280.12" cy="296.64" r="1.85" fill="#c9ddf4"/>
<polyline points="234.11,285.38 243.5,285.94 252.32,287.25 261.71,293.45 270.73,298.52 280.12,298.52" fill="none" stroke="#9cc3ec" stroke-width="0.9"/>
<circle cx="234.11" cy="285.38" r="1.85" fill="#9cc3ec"/>
<circle cx="243.5" cy="285.94" r="1.85" fill="#9cc3ec"/>
<circle cx="252.32" cy="287.25" r="1.85" fill="#9cc3ec"/>
<circle cx="261.71" cy="293.45" r="1.85" fill="#9cc3ec"/>
<circle cx="270.73" cy="298.52" r="1.85" fill="#9cc3ec"/>
<circle cx="280.12" cy="298.52" r="1.85" fill="#9cc3ec"/>
<polyline points="234.11,289.13 243.5,289.69 252.32,290.45 261.71,294.77 270.73,299.46 280.12,299.84" fill="none" stroke="#5e9ee0" stroke-width="0.9"/>
<circle cx="234.11" cy="289.13" r="1.85" fill="#5e9ee0"/>
<circle cx="243.5" cy="289.69" r="1.85" fill="#5e9ee0"/>
<circle cx="252.32" cy="290.45" r="1.85" fill="#5e9ee0"/>
<circle cx="261.71" cy="294.77" r="1.85" fill="#5e9ee0"/>
<circle cx="270.73" cy="299.46" r="1.85" fill="#5e9ee0"/>
<circle cx="280.12" cy="299.84" r="1.85" fill="#5e9ee0"/>
<polyline points="234.11,296.08 243.5,296.08 252.32,297.21 261.71,299.46 270.73,300.4 280.12,299.46" fill="none" stroke="#3f5ec0" stroke-width="0.9"/>
<path d="M243.5 293.83V303.22M242.2 293.83H244.8M242.2 303.22H244.8" stroke="#3f5ec0" stroke-width="0.6" fill="none"/>
<circle cx="234.11" cy="296.08" r="1.85" fill="#3f5ec0"/>
<circle cx="243.5" cy="296.08" r="1.85" fill="#3f5ec0"/>
<circle cx="252.32" cy="297.21" r="1.85" fill="#3f5ec0"/>
<circle cx="261.71" cy="299.46" r="1.85" fill="#3f5ec0"/>
<circle cx="270.73" cy="300.4" r="1.85" fill="#3f5ec0"/>
<circle cx="280.12" cy="299.46" r="1.85" fill="#3f5ec0"/>
<polyline points="234.11,300.96 243.5,299.84 252.32,300.96 261.71,301.34 270.73,303.59 280.12,300.4" fill="none" stroke="#28409f" stroke-width="0.9"/>
<path d="M270.73 301.34V305.47M269.43 301.34H272.03M269.43 305.47H272.03" stroke="#28409f" stroke-width="0.6" fill="none"/>
<circle cx="234.11" cy="300.96" r="1.85" fill="#28409f"/>
<circle cx="243.5" cy="299.84" r="1.85" fill="#28409f"/>
<circle cx="252.32" cy="300.96" r="1.85" fill="#28409f"/>
<circle cx="261.71" cy="301.34" r="1.85" fill="#28409f"/>
<circle cx="270.73" cy="303.59" r="1.85" fill="#28409f"/>
<circle cx="280.12" cy="300.4" r="1.85" fill="#28409f"/>
<polyline points="215.89,254.01 225.28,254.77 234.11,274.11 243.5,284.81 252.32,291.95" fill="none" stroke="#8e8e8e" stroke-width="0.9"/>
<circle cx="215.89" cy="254.01" r="1.85" fill="#8e8e8e"/>
<circle cx="225.28" cy="254.77" r="1.85" fill="#8e8e8e"/>
<circle cx="234.11" cy="274.11" r="1.85" fill="#8e8e8e"/>
<circle cx="243.5" cy="284.81" r="1.85" fill="#8e8e8e"/>
<circle cx="252.32" cy="291.95" r="1.85" fill="#8e8e8e"/>
<polyline points="234.11,258.52 243.5,267.16 252.32,280.12 261.71,290.07 270.73,294.77 280.12,296.08" fill="none" stroke="#111111" stroke-width="0.9"/>
<path d="M234.11 255.33V262.28M232.81 255.33H235.41M232.81 262.28H235.41" stroke="#111111" stroke-width="0.6" fill="none"/>
<circle cx="234.11" cy="258.52" r="1.85" fill="#111111"/>
<circle cx="243.5" cy="267.16" r="1.85" fill="#111111"/>
<circle cx="252.32" cy="280.12" r="1.85" fill="#111111"/>
<circle cx="261.71" cy="290.07" r="1.85" fill="#111111"/>
<circle cx="270.73" cy="294.77" r="1.85" fill="#111111"/>
<circle cx="280.12" cy="296.08" r="1.85" fill="#111111"/>
<text transform="translate(338.6,234.7) scale(0.96,1)" font-size="8.5" text-anchor="middle" font-weight="bold" fill="#111">COR-L88</text>
<text x="338.6" y="242.95" font-size="7" text-anchor="middle" font-weight="normal" fill="#333">(SCLC)</text>
<line x1="303.6" y1="252.1" x2="371.6" y2="252.1" stroke="#9c9c9c" stroke-width="1.0"/>
<line x1="303.6" y1="279.4" x2="371.6" y2="279.4" stroke="#9c9c9c" stroke-width="1.0"/>
<line x1="303.6" y1="306.6" x2="371.6" y2="306.6" stroke="#9c9c9c" stroke-width="1.0"/>
<line x1="301.4" y1="252.1" x2="303.6" y2="252.1" stroke="#666" stroke-width="0.6"/>
<line x1="301.4" y1="279.35" x2="303.6" y2="279.35" stroke="#666" stroke-width="0.6"/>
<line x1="302.4" y1="271.15" x2="303.6" y2="271.15" stroke="#666" stroke-width="0.6"/>
<line x1="302.4" y1="266.35" x2="303.6" y2="266.35" stroke="#666" stroke-width="0.6"/>
<line x1="302.4" y1="262.94" x2="303.6" y2="262.94" stroke="#666" stroke-width="0.6"/>
<line x1="302.4" y1="260.3" x2="303.6" y2="260.3" stroke="#666" stroke-width="0.6"/>
<line x1="302.4" y1="258.15" x2="303.6" y2="258.15" stroke="#666" stroke-width="0.6"/>
<line x1="302.4" y1="256.32" x2="303.6" y2="256.32" stroke="#666" stroke-width="0.6"/>
<line x1="302.4" y1="254.74" x2="303.6" y2="254.74" stroke="#666" stroke-width="0.6"/>
<line x1="302.4" y1="253.35" x2="303.6" y2="253.35" stroke="#666" stroke-width="0.6"/>
<line x1="301.4" y1="306.6" x2="303.6" y2="306.6" stroke="#666" stroke-width="0.6"/>
<line x1="302.4" y1="298.4" x2="303.6" y2="298.4" stroke="#666" stroke-width="0.6"/>
<line x1="302.4" y1="293.6" x2="303.6" y2="293.6" stroke="#666" stroke-width="0.6"/>
<line x1="302.4" y1="290.19" x2="303.6" y2="290.19" stroke="#666" stroke-width="0.6"/>
<line x1="302.4" y1="287.55" x2="303.6" y2="287.55" stroke="#666" stroke-width="0.6"/>
<line x1="302.4" y1="285.4" x2="303.6" y2="285.4" stroke="#666" stroke-width="0.6"/>
<line x1="302.4" y1="283.57" x2="303.6" y2="283.57" stroke="#666" stroke-width="0.6"/>
<line x1="302.4" y1="281.99" x2="303.6" y2="281.99" stroke="#666" stroke-width="0.6"/>
<line x1="302.4" y1="280.6" x2="303.6" y2="280.6" stroke="#666" stroke-width="0.6"/>
<line x1="306.19" y1="315.4" x2="306.19" y2="316.6" stroke="#666" stroke-width="0.6"/>
<line x1="308.49" y1="315.4" x2="308.49" y2="316.6" stroke="#666" stroke-width="0.6"/>
<line x1="310.27" y1="315.4" x2="310.27" y2="316.6" stroke="#666" stroke-width="0.6"/>
<line x1="311.72" y1="315.4" x2="311.72" y2="316.6" stroke="#666" stroke-width="0.6"/>
<line x1="312.95" y1="315.4" x2="312.95" y2="316.6" stroke="#666" stroke-width="0.6"/>
<line x1="314.02" y1="315.4" x2="314.02" y2="316.6" stroke="#666" stroke-width="0.6"/>
<line x1="314.96" y1="315.4" x2="314.96" y2="316.6" stroke="#666" stroke-width="0.6"/>
<line x1="315.8" y1="315.4" x2="315.8" y2="317.6" stroke="#666" stroke-width="0.6"/>
<line x1="321.33" y1="315.4" x2="321.33" y2="316.6" stroke="#666" stroke-width="0.6"/>
<line x1="324.56" y1="315.4" x2="324.56" y2="316.6" stroke="#666" stroke-width="0.6"/>
<line x1="326.86" y1="315.4" x2="326.86" y2="316.6" stroke="#666" stroke-width="0.6"/>
<line x1="328.64" y1="315.4" x2="328.64" y2="316.6" stroke="#666" stroke-width="0.6"/>
<line x1="330.09" y1="315.4" x2="330.09" y2="316.6" stroke="#666" stroke-width="0.6"/>
<line x1="331.32" y1="315.4" x2="331.32" y2="316.6" stroke="#666" stroke-width="0.6"/>
<line x1="332.39" y1="315.4" x2="332.39" y2="316.6" stroke="#666" stroke-width="0.6"/>
<line x1="333.33" y1="315.4" x2="333.33" y2="316.6" stroke="#666" stroke-width="0.6"/>
<line x1="334.17" y1="315.4" x2="334.17" y2="317.6" stroke="#666" stroke-width="0.6"/>
<line x1="339.7" y1="315.4" x2="339.7" y2="316.6" stroke="#666" stroke-width="0.6"/>
<line x1="342.93" y1="315.4" x2="342.93" y2="316.6" stroke="#666" stroke-width="0.6"/>
<line x1="345.23" y1="315.4" x2="345.23" y2="316.6" stroke="#666" stroke-width="0.6"/>
<line x1="347.01" y1="315.4" x2="347.01" y2="316.6" stroke="#666" stroke-width="0.6"/>
<line x1="348.46" y1="315.4" x2="348.46" y2="316.6" stroke="#666" stroke-width="0.6"/>
<line x1="349.69" y1="315.4" x2="349.69" y2="316.6" stroke="#666" stroke-width="0.6"/>
<line x1="350.76" y1="315.4" x2="350.76" y2="316.6" stroke="#666" stroke-width="0.6"/>
<line x1="351.7" y1="315.4" x2="351.7" y2="316.6" stroke="#666" stroke-width="0.6"/>
<line x1="352.54" y1="315.4" x2="352.54" y2="317.6" stroke="#666" stroke-width="0.6"/>
<line x1="358.07" y1="315.4" x2="358.07" y2="316.6" stroke="#666" stroke-width="0.6"/>
<line x1="361.3" y1="315.4" x2="361.3" y2="316.6" stroke="#666" stroke-width="0.6"/>
<line x1="363.6" y1="315.4" x2="363.6" y2="316.6" stroke="#666" stroke-width="0.6"/>
<line x1="365.38" y1="315.4" x2="365.38" y2="316.6" stroke="#666" stroke-width="0.6"/>
<line x1="366.83" y1="315.4" x2="366.83" y2="316.6" stroke="#666" stroke-width="0.6"/>
<line x1="368.06" y1="315.4" x2="368.06" y2="316.6" stroke="#666" stroke-width="0.6"/>
<line x1="369.13" y1="315.4" x2="369.13" y2="316.6" stroke="#666" stroke-width="0.6"/>
<line x1="370.07" y1="315.4" x2="370.07" y2="316.6" stroke="#666" stroke-width="0.6"/>
<line x1="370.91" y1="315.4" x2="370.91" y2="317.6" stroke="#666" stroke-width="0.6"/>
<line x1="303.6" y1="247.3" x2="303.6" y2="315.4" stroke="#6a6a6a" stroke-width="0.95"/>
<line x1="303.6" y1="315.4" x2="371.6" y2="315.4" stroke="#6a6a6a" stroke-width="0.95"/>
<text transform="translate(301,254.45) scale(0.9,1)" font-size="6.4" text-anchor="end" font-weight="normal" fill="#2a2a2a">100</text>
<text transform="translate(301,281.75) scale(0.9,1)" font-size="6.4" text-anchor="end" font-weight="normal" fill="#2a2a2a">10</text>
<text transform="translate(301,308.95) scale(0.9,1)" font-size="6.4" text-anchor="end" font-weight="normal" fill="#2a2a2a">1</text>
<text transform="translate(315.8,324) scale(0.9,1)" font-size="6.4" text-anchor="middle" font-weight="normal" fill="#2a2a2a">0.01</text>
<text transform="translate(334,324) scale(0.9,1)" font-size="6.4" text-anchor="middle" font-weight="normal" fill="#2a2a2a">0.1</text>
<text transform="translate(352.5,324) scale(0.9,1)" font-size="6.4" text-anchor="middle" font-weight="normal" fill="#2a2a2a">1</text>
<text transform="translate(370.9,324) scale(0.9,1)" font-size="6.4" text-anchor="middle" font-weight="normal" fill="#2a2a2a">10</text>
<polyline points="325.23,256.27 334.62,256.64 343.45,261.53 352.84,269.41 361.85,278.43 371.24,291.01" fill="none" stroke="#c9ddf4" stroke-width="0.9"/>
<circle cx="325.23" cy="256.27" r="1.85" fill="#c9ddf4"/>
<circle cx="334.62" cy="256.64" r="1.85" fill="#c9ddf4"/>
<circle cx="343.45" cy="261.53" r="1.85" fill="#c9ddf4"/>
<circle cx="352.84" cy="269.41" r="1.85" fill="#c9ddf4"/>
<circle cx="361.85" cy="278.43" r="1.85" fill="#c9ddf4"/>
<circle cx="371.24" cy="291.01" r="1.85" fill="#c9ddf4"/>
<polyline points="325.23,263.4 334.62,264.15 343.45,267.16 352.84,273.54 361.85,282.56 371.24,292.89" fill="none" stroke="#9cc3ec" stroke-width="0.9"/>
<circle cx="325.23" cy="263.4" r="1.85" fill="#9cc3ec"/>
<circle cx="334.62" cy="264.15" r="1.85" fill="#9cc3ec"/>
<circle cx="343.45" cy="267.16" r="1.85" fill="#9cc3ec"/>
<circle cx="352.84" cy="273.54" r="1.85" fill="#9cc3ec"/>
<circle cx="361.85" cy="282.56" r="1.85" fill="#9cc3ec"/>
<circle cx="371.24" cy="292.89" r="1.85" fill="#9cc3ec"/>
<polyline points="325.23,267.91 334.62,269.41 343.45,273.54 352.84,279.74 361.85,287.25 371.24,294.2" fill="none" stroke="#5e9ee0" stroke-width="0.9"/>
<circle cx="325.23" cy="267.91" r="1.85" fill="#5e9ee0"/>
<circle cx="334.62" cy="269.41" r="1.85" fill="#5e9ee0"/>
<circle cx="343.45" cy="273.54" r="1.85" fill="#5e9ee0"/>
<circle cx="352.84" cy="279.74" r="1.85" fill="#5e9ee0"/>
<circle cx="361.85" cy="287.25" r="1.85" fill="#5e9ee0"/>
<circle cx="371.24" cy="294.2" r="1.85" fill="#5e9ee0"/>
<polyline points="325.23,274.67 334.62,277.3 343.45,281.24 352.84,286.31 361.85,294.2 371.24,299.08" fill="none" stroke="#3f5ec0" stroke-width="0.9"/>
<circle cx="325.23" cy="274.67" r="1.85" fill="#3f5ec0"/>
<circle cx="334.62" cy="277.3" r="1.85" fill="#3f5ec0"/>
<circle cx="343.45" cy="281.24" r="1.85" fill="#3f5ec0"/>
<circle cx="352.84" cy="286.31" r="1.85" fill="#3f5ec0"/>
<circle cx="361.85" cy="294.2" r="1.85" fill="#3f5ec0"/>
<circle cx="371.24" cy="299.08" r="1.85" fill="#3f5ec0"/>
<polyline points="325.23,284.06 334.62,285.38 343.45,287.25 352.84,293.45 361.85,299.84 371.24,305.47" fill="none" stroke="#28409f" stroke-width="0.9"/>
<path d="M371.24 302.28V308.47M369.94 302.28H372.54M369.94 308.47H372.54" stroke="#28409f" stroke-width="0.6" fill="none"/>
<path d="M334.62 282.56V287.82M333.32 282.56H335.92M333.32 287.82H335.92" stroke="#28409f" stroke-width="0.6" fill="none"/>
<circle cx="325.23" cy="284.06" r="1.85" fill="#28409f"/>
<circle cx="334.62" cy="285.38" r="1.85" fill="#28409f"/>
<circle cx="343.45" cy="287.25" r="1.85" fill="#28409f"/>
<circle cx="352.84" cy="293.45" r="1.85" fill="#28409f"/>
<circle cx="361.85" cy="299.84" r="1.85" fill="#28409f"/>
<circle cx="371.24" cy="305.47" r="1.85" fill="#28409f"/>
<polyline points="307.01,251.2 316.4,255.89 325.23,258.15 334.62,259.08" fill="none" stroke="#8e8e8e" stroke-width="0.9"/>
<circle cx="307.01" cy="251.2" r="1.85" fill="#8e8e8e"/>
<circle cx="316.4" cy="255.89" r="1.85" fill="#8e8e8e"/>
<circle cx="325.23" cy="258.15" r="1.85" fill="#8e8e8e"/>
<circle cx="334.62" cy="259.08" r="1.85" fill="#8e8e8e"/>
<polyline points="325.23,252.14 334.62,254.77 343.45,259.08 352.84,264.15 361.85,274.67 371.24,287.82" fill="none" stroke="#111111" stroke-width="0.9"/>
<path d="M361.85 271.29V277.86M360.55 271.29H363.15M360.55 277.86H363.15" stroke="#111111" stroke-width="0.6" fill="none"/>
<circle cx="325.23" cy="252.14" r="1.85" fill="#111111"/>
<circle cx="334.62" cy="254.77" r="1.85" fill="#111111"/>
<circle cx="343.45" cy="259.08" r="1.85" fill="#111111"/>
<circle cx="352.84" cy="264.15" r="1.85" fill="#111111"/>
<circle cx="361.85" cy="274.67" r="1.85" fill="#111111"/>
<circle cx="371.24" cy="287.82" r="1.85" fill="#111111"/>
<text transform="translate(428.9,234.7) scale(0.96,1)" font-size="8.5" text-anchor="middle" font-weight="bold" fill="#111">425362-245-T-J1</text>
<text x="428.9" y="242.95" font-size="7" text-anchor="middle" font-weight="normal" fill="#333">(melanoma)</text>
<line x1="392.9" y1="252.5" x2="462" y2="252.5" stroke="#9c9c9c" stroke-width="1.0"/>
<line x1="392.9" y1="284.1" x2="462" y2="284.1" stroke="#9c9c9c" stroke-width="1.0"/>
<line x1="390.7" y1="252.5" x2="392.9" y2="252.5" stroke="#666" stroke-width="0.6"/>
<line x1="390.7" y1="284.1" x2="392.9" y2="284.1" stroke="#666" stroke-width="0.6"/>
<line x1="391.7" y1="274.59" x2="392.9" y2="274.59" stroke="#666" stroke-width="0.6"/>
<line x1="391.7" y1="269.02" x2="392.9" y2="269.02" stroke="#666" stroke-width="0.6"/>
<line x1="391.7" y1="265.07" x2="392.9" y2="265.07" stroke="#666" stroke-width="0.6"/>
<line x1="391.7" y1="262.01" x2="392.9" y2="262.01" stroke="#666" stroke-width="0.6"/>
<line x1="391.7" y1="259.51" x2="392.9" y2="259.51" stroke="#666" stroke-width="0.6"/>
<line x1="391.7" y1="257.39" x2="392.9" y2="257.39" stroke="#666" stroke-width="0.6"/>
<line x1="391.7" y1="255.56" x2="392.9" y2="255.56" stroke="#666" stroke-width="0.6"/>
<line x1="391.7" y1="253.95" x2="392.9" y2="253.95" stroke="#666" stroke-width="0.6"/>
<line x1="391.7" y1="306.19" x2="392.9" y2="306.19" stroke="#666" stroke-width="0.6"/>
<line x1="391.7" y1="300.62" x2="392.9" y2="300.62" stroke="#666" stroke-width="0.6"/>
<line x1="391.7" y1="296.67" x2="392.9" y2="296.67" stroke="#666" stroke-width="0.6"/>
<line x1="391.7" y1="293.61" x2="392.9" y2="293.61" stroke="#666" stroke-width="0.6"/>
<line x1="391.7" y1="291.11" x2="392.9" y2="291.11" stroke="#666" stroke-width="0.6"/>
<line x1="391.7" y1="288.99" x2="392.9" y2="288.99" stroke="#666" stroke-width="0.6"/>
<line x1="391.7" y1="287.16" x2="392.9" y2="287.16" stroke="#666" stroke-width="0.6"/>
<line x1="391.7" y1="285.55" x2="392.9" y2="285.55" stroke="#666" stroke-width="0.6"/>
<line x1="393.19" y1="315.4" x2="393.19" y2="316.6" stroke="#666" stroke-width="0.6"/>
<line x1="396.42" y1="315.4" x2="396.42" y2="316.6" stroke="#666" stroke-width="0.6"/>
<line x1="398.71" y1="315.4" x2="398.71" y2="316.6" stroke="#666" stroke-width="0.6"/>
<line x1="400.48" y1="315.4" x2="400.48" y2="316.6" stroke="#666" stroke-width="0.6"/>
<line x1="401.93" y1="315.4" x2="401.93" y2="316.6" stroke="#666" stroke-width="0.6"/>
<line x1="403.16" y1="315.4" x2="403.16" y2="316.6" stroke="#666" stroke-width="0.6"/>
<line x1="404.22" y1="315.4" x2="404.22" y2="316.6" stroke="#666" stroke-width="0.6"/>
<line x1="405.16" y1="315.4" x2="405.16" y2="316.6" stroke="#666" stroke-width="0.6"/>
<line x1="406" y1="315.4" x2="406" y2="317.6" stroke="#666" stroke-width="0.6"/>
<line x1="411.52" y1="315.4" x2="411.52" y2="316.6" stroke="#666" stroke-width="0.6"/>
<line x1="414.75" y1="315.4" x2="414.75" y2="316.6" stroke="#666" stroke-width="0.6"/>
<line x1="417.04" y1="315.4" x2="417.04" y2="316.6" stroke="#666" stroke-width="0.6"/>
<line x1="418.81" y1="315.4" x2="418.81" y2="316.6" stroke="#666" stroke-width="0.6"/>
<line x1="420.26" y1="315.4" x2="420.26" y2="316.6" stroke="#666" stroke-width="0.6"/>
<line x1="421.49" y1="315.4" x2="421.49" y2="316.6" stroke="#666" stroke-width="0.6"/>
<line x1="422.55" y1="315.4" x2="422.55" y2="316.6" stroke="#666" stroke-width="0.6"/>
<line x1="423.49" y1="315.4" x2="423.49" y2="316.6" stroke="#666" stroke-width="0.6"/>
<line x1="424.33" y1="315.4" x2="424.33" y2="317.6" stroke="#666" stroke-width="0.6"/>
<line x1="429.85" y1="315.4" x2="429.85" y2="316.6" stroke="#666" stroke-width="0.6"/>
<line x1="433.08" y1="315.4" x2="433.08" y2="316.6" stroke="#666" stroke-width="0.6"/>
<line x1="435.37" y1="315.4" x2="435.37" y2="316.6" stroke="#666" stroke-width="0.6"/>
<line x1="437.14" y1="315.4" x2="437.14" y2="316.6" stroke="#666" stroke-width="0.6"/>
<line x1="438.59" y1="315.4" x2="438.59" y2="316.6" stroke="#666" stroke-width="0.6"/>
<line x1="439.82" y1="315.4" x2="439.82" y2="316.6" stroke="#666" stroke-width="0.6"/>
<line x1="440.88" y1="315.4" x2="440.88" y2="316.6" stroke="#666" stroke-width="0.6"/>
<line x1="441.82" y1="315.4" x2="441.82" y2="316.6" stroke="#666" stroke-width="0.6"/>
<line x1="442.66" y1="315.4" x2="442.66" y2="317.6" stroke="#666" stroke-width="0.6"/>
<line x1="448.18" y1="315.4" x2="448.18" y2="316.6" stroke="#666" stroke-width="0.6"/>
<line x1="451.41" y1="315.4" x2="451.41" y2="316.6" stroke="#666" stroke-width="0.6"/>
<line x1="453.7" y1="315.4" x2="453.7" y2="316.6" stroke="#666" stroke-width="0.6"/>
<line x1="455.47" y1="315.4" x2="455.47" y2="316.6" stroke="#666" stroke-width="0.6"/>
<line x1="456.92" y1="315.4" x2="456.92" y2="316.6" stroke="#666" stroke-width="0.6"/>
<line x1="458.15" y1="315.4" x2="458.15" y2="316.6" stroke="#666" stroke-width="0.6"/>
<line x1="459.21" y1="315.4" x2="459.21" y2="316.6" stroke="#666" stroke-width="0.6"/>
<line x1="460.15" y1="315.4" x2="460.15" y2="316.6" stroke="#666" stroke-width="0.6"/>
<line x1="460.99" y1="315.4" x2="460.99" y2="317.6" stroke="#666" stroke-width="0.6"/>
<line x1="392.9" y1="247.3" x2="392.9" y2="315.4" stroke="#6a6a6a" stroke-width="0.95"/>
<line x1="392.9" y1="315.4" x2="462" y2="315.4" stroke="#6a6a6a" stroke-width="0.95"/>
<text transform="translate(390.3,254.85) scale(0.9,1)" font-size="6.4" text-anchor="end" font-weight="normal" fill="#2a2a2a">100</text>
<text transform="translate(390.3,286.45) scale(0.9,1)" font-size="6.4" text-anchor="end" font-weight="normal" fill="#2a2a2a">10</text>
<text transform="translate(390.3,317.75) scale(0.9,1)" font-size="6.4" text-anchor="end" font-weight="normal" fill="#2a2a2a">1</text>
<text transform="translate(406,324) scale(0.9,1)" font-size="6.4" text-anchor="middle" font-weight="normal" fill="#2a2a2a">0.01</text>
<text transform="translate(424,324) scale(0.9,1)" font-size="6.4" text-anchor="middle" font-weight="normal" fill="#2a2a2a">0.1</text>
<text transform="translate(442.8,324) scale(0.9,1)" font-size="6.4" text-anchor="middle" font-weight="normal" fill="#2a2a2a">1</text>
<text transform="translate(461,324) scale(0.9,1)" font-size="6.4" text-anchor="middle" font-weight="normal" fill="#2a2a2a">10</text>
<polyline points="415.05,269.41 424.44,283.5 433.45,289.69 442.84,290.07 451.67,290.07 461.06,290.07" fill="none" stroke="#c9ddf4" stroke-width="0.9"/>
<circle cx="415.05" cy="269.41" r="1.85" fill="#c9ddf4"/>
<circle cx="424.44" cy="283.5" r="1.85" fill="#c9ddf4"/>
<circle cx="433.45" cy="289.69" r="1.85" fill="#c9ddf4"/>
<circle cx="442.84" cy="290.07" r="1.85" fill="#c9ddf4"/>
<circle cx="451.67" cy="290.07" r="1.85" fill="#c9ddf4"/>
<circle cx="461.06" cy="290.07" r="1.85" fill="#c9ddf4"/>
<polyline points="415.05,279.18 424.44,285.38 433.45,295.7 442.84,292.89 451.67,291.01 461.06,291.01" fill="none" stroke="#9cc3ec" stroke-width="0.9"/>
<circle cx="415.05" cy="279.18" r="1.85" fill="#9cc3ec"/>
<circle cx="424.44" cy="285.38" r="1.85" fill="#9cc3ec"/>
<circle cx="433.45" cy="295.7" r="1.85" fill="#9cc3ec"/>
<circle cx="442.84" cy="292.89" r="1.85" fill="#9cc3ec"/>
<circle cx="451.67" cy="291.01" r="1.85" fill="#9cc3ec"/>
<circle cx="461.06" cy="291.01" r="1.85" fill="#9cc3ec"/>
<polyline points="415.05,295.33 424.44,300.96 433.45,300.4 442.84,295.7 451.67,292.89 461.06,291.95" fill="none" stroke="#5e9ee0" stroke-width="0.9"/>
<path d="M424.44 297.58V303.59M423.14 297.58H425.74M423.14 303.59H425.74" stroke="#5e9ee0" stroke-width="0.6" fill="none"/>
<circle cx="415.05" cy="295.33" r="1.85" fill="#5e9ee0"/>
<circle cx="424.44" cy="300.96" r="1.85" fill="#5e9ee0"/>
<circle cx="433.45" cy="300.4" r="1.85" fill="#5e9ee0"/>
<circle cx="442.84" cy="295.7" r="1.85" fill="#5e9ee0"/>
<circle cx="451.67" cy="292.89" r="1.85" fill="#5e9ee0"/>
<circle cx="461.06" cy="291.95" r="1.85" fill="#5e9ee0"/>
<polyline points="415.05,300.96 424.44,306.03 433.45,303.22 442.84,297.96 451.67,294.77 461.06,294.2" fill="none" stroke="#3f5ec0" stroke-width="0.9"/>
<circle cx="415.05" cy="300.96" r="1.85" fill="#3f5ec0"/>
<circle cx="424.44" cy="306.03" r="1.85" fill="#3f5ec0"/>
<circle cx="433.45" cy="303.22" r="1.85" fill="#3f5ec0"/>
<circle cx="442.84" cy="297.96" r="1.85" fill="#3f5ec0"/>
<circle cx="451.67" cy="294.77" r="1.85" fill="#3f5ec0"/>
<circle cx="461.06" cy="294.2" r="1.85" fill="#3f5ec0"/>
<polyline points="415.05,310.73 424.44,311.1 433.45,309.79 442.84,307.35 451.67,302.84 461.06,298.52" fill="none" stroke="#28409f" stroke-width="0.9"/>
<circle cx="415.05" cy="310.73" r="1.85" fill="#28409f"/>
<circle cx="424.44" cy="311.1" r="1.85" fill="#28409f"/>
<circle cx="433.45" cy="309.79" r="1.85" fill="#28409f"/>
<circle cx="442.84" cy="307.35" r="1.85" fill="#28409f"/>
<circle cx="451.67" cy="302.84" r="1.85" fill="#28409f"/>
<circle cx="461.06" cy="298.52" r="1.85" fill="#28409f"/>
<polyline points="396.64,252.51 406.03,254.39 415.05,267.16 424.44,293.83 433.45,309.79" fill="none" stroke="#8e8e8e" stroke-width="0.9"/>
<path d="M415.05 263.78V275.05M413.75 263.78H416.35M413.75 275.05H416.35" stroke="#8e8e8e" stroke-width="0.6" fill="none"/>
<circle cx="396.64" cy="252.51" r="1.85" fill="#8e8e8e"/>
<circle cx="406.03" cy="254.39" r="1.85" fill="#8e8e8e"/>
<circle cx="415.05" cy="267.16" r="1.85" fill="#8e8e8e"/>
<circle cx="424.44" cy="293.83" r="1.85" fill="#8e8e8e"/>
<circle cx="433.45" cy="309.79" r="1.85" fill="#8e8e8e"/>
<polyline points="415.05,263.4 424.44,276.55 433.45,279.74 442.84,288.19 451.67,288.57 461.06,288.57" fill="none" stroke="#111111" stroke-width="0.9"/>
<path d="M415.05 259.65V266.6M413.75 259.65H416.35M413.75 266.6H416.35" stroke="#111111" stroke-width="0.6" fill="none"/>
<path d="M424.44 272.79V279.74M423.14 272.79H425.74M423.14 279.74H425.74" stroke="#111111" stroke-width="0.6" fill="none"/>
<path d="M433.45 272.23V301.34M432.15 272.23H434.75M432.15 301.34H434.75" stroke="#111111" stroke-width="0.6" fill="none"/>
<circle cx="415.05" cy="263.4" r="1.85" fill="#111111"/>
<circle cx="424.44" cy="276.55" r="1.85" fill="#111111"/>
<circle cx="433.45" cy="279.74" r="1.85" fill="#111111"/>
<circle cx="442.84" cy="288.19" r="1.85" fill="#111111"/>
<circle cx="451.67" cy="288.57" r="1.85" fill="#111111"/>
<circle cx="461.06" cy="288.57" r="1.85" fill="#111111"/>
<rect x="35" y="106.3" width="10.82" height="12.95" fill="#f7f1a1"/>
<rect x="45.77" y="106.3" width="10.82" height="12.95" fill="#f5f1a2"/>
<rect x="56.53" y="106.3" width="10.82" height="12.95" fill="#f5f1a2"/>
<rect x="67.3" y="106.3" width="10.82" height="12.95" fill="#f7f1a1"/>
<rect x="78.07" y="106.3" width="10.82" height="12.95" fill="#f8eea0"/>
<rect x="88.83" y="106.3" width="10.82" height="12.95" fill="#f8eea0"/>
<rect x="35" y="119.2" width="10.82" height="12.95" fill="#f5f1a2"/>
<rect x="45.77" y="119.2" width="10.82" height="12.95" fill="#eef0a7"/>
<rect x="56.53" y="119.2" width="10.82" height="12.95" fill="#eef0a7"/>
<rect x="67.3" y="119.2" width="10.82" height="12.95" fill="#f5f1a2"/>
<rect x="78.07" y="119.2" width="10.82" height="12.95" fill="#f8eea0"/>
<rect x="88.83" y="119.2" width="10.82" height="12.95" fill="#f8eea0"/>
<rect x="35" y="132.1" width="10.82" height="12.95" fill="#bbd7cb"/>
<rect x="45.77" y="132.1" width="10.82" height="12.95" fill="#588ed3"/>
<rect x="56.53" y="132.1" width="10.82" height="12.95" fill="#5388d0"/>
<rect x="67.3" y="132.1" width="10.82" height="12.95" fill="#568cd2"/>
<rect x="78.07" y="132.1" width="10.82" height="12.95" fill="#f7f1a1"/>
<rect x="88.83" y="132.1" width="10.82" height="12.95" fill="#f7f1a1"/>
<rect x="35" y="145" width="10.82" height="12.95" fill="#bbd7cb"/>
<rect x="45.77" y="145" width="10.82" height="12.95" fill="#bbd7cb"/>
<rect x="56.53" y="145" width="10.82" height="12.95" fill="#5286cf"/>
<rect x="67.3" y="145" width="10.82" height="12.95" fill="#4c7eca"/>
<rect x="78.07" y="145" width="10.82" height="12.95" fill="#f7f1a1"/>
<rect x="88.83" y="145" width="10.82" height="12.95" fill="#f7f1a1"/>
<rect x="35" y="157.9" width="10.82" height="12.95" fill="#5990d4"/>
<rect x="45.77" y="157.9" width="10.82" height="12.95" fill="#5990d4"/>
<rect x="56.53" y="157.9" width="10.82" height="12.95" fill="#5990d4"/>
<rect x="67.3" y="157.9" width="10.82" height="12.95" fill="#4c7eca"/>
<rect x="78.07" y="157.9" width="10.82" height="12.95" fill="#f5f1a2"/>
<rect x="88.83" y="157.9" width="10.82" height="12.95" fill="#f7f1a1"/>
<line x1="45.77" y1="106.3" x2="45.77" y2="170.8" stroke="#ffffff" stroke-opacity="0.5" stroke-width="0.75"/>
<line x1="56.53" y1="106.3" x2="56.53" y2="170.8" stroke="#ffffff" stroke-opacity="0.5" stroke-width="0.75"/>
<line x1="67.3" y1="106.3" x2="67.3" y2="170.8" stroke="#ffffff" stroke-opacity="0.5" stroke-width="0.75"/>
<line x1="78.07" y1="106.3" x2="78.07" y2="170.8" stroke="#ffffff" stroke-opacity="0.5" stroke-width="0.75"/>
<line x1="88.83" y1="106.3" x2="88.83" y2="170.8" stroke="#ffffff" stroke-opacity="0.5" stroke-width="0.75"/>
<line x1="35" y1="119.2" x2="99.6" y2="119.2" stroke="#ffffff" stroke-opacity="0.5" stroke-width="0.75"/>
<line x1="35" y1="132.1" x2="99.6" y2="132.1" stroke="#ffffff" stroke-opacity="0.5" stroke-width="0.75"/>
<line x1="35" y1="145" x2="99.6" y2="145" stroke="#ffffff" stroke-opacity="0.5" stroke-width="0.75"/>
<line x1="35" y1="157.9" x2="99.6" y2="157.9" stroke="#ffffff" stroke-opacity="0.5" stroke-width="0.75"/>
<rect x="35" y="106.3" width="64.6" height="64.5" fill="none" stroke="#8c8c80" stroke-width="0.85"/>
<text transform="translate(40.38,114.9) scale(0.84,1)" font-size="6" text-anchor="middle" font-weight="normal" fill="#252525">0</text>
<text transform="translate(51.15,114.9) scale(0.84,1)" font-size="6" text-anchor="middle" font-weight="normal" fill="#252525">1</text>
<text transform="translate(61.92,114.9) scale(0.84,1)" font-size="6" text-anchor="middle" font-weight="normal" fill="#252525">1</text>
<text transform="translate(72.68,114.9) scale(0.84,1)" font-size="6" text-anchor="middle" font-weight="normal" fill="#252525">0</text>
<text transform="translate(83.45,114.9) scale(0.84,1)" font-size="6" text-anchor="middle" font-weight="normal" fill="#252525">-1</text>
<text transform="translate(94.22,114.9) scale(0.84,1)" font-size="6" text-anchor="middle" font-weight="normal" fill="#252525">-1</text>
<text transform="translate(40.38,127.8) scale(0.84,1)" font-size="6" text-anchor="middle" font-weight="normal" fill="#252525">1</text>
<text transform="translate(51.15,127.8) scale(0.84,1)" font-size="6" text-anchor="middle" font-weight="normal" fill="#252525">2</text>
<text transform="translate(61.92,127.8) scale(0.84,1)" font-size="6" text-anchor="middle" font-weight="normal" fill="#252525">2</text>
<text transform="translate(72.68,127.8) scale(0.84,1)" font-size="6" text-anchor="middle" font-weight="normal" fill="#252525">1</text>
<text transform="translate(83.45,127.8) scale(0.84,1)" font-size="6" text-anchor="middle" font-weight="normal" fill="#252525">-1</text>
<text transform="translate(94.22,127.8) scale(0.84,1)" font-size="6" text-anchor="middle" font-weight="normal" fill="#252525">-1</text>
<text transform="translate(40.38,140.7) scale(0.84,1)" font-size="6" text-anchor="middle" font-weight="normal" fill="#252525">10</text>
<text transform="translate(51.15,140.7) scale(0.84,1)" font-size="6" text-anchor="middle" font-weight="normal" fill="#252525">25</text>
<text transform="translate(61.92,140.7) scale(0.84,1)" font-size="6" text-anchor="middle" font-weight="normal" fill="#252525">28</text>
<text transform="translate(72.68,140.7) scale(0.84,1)" font-size="6" text-anchor="middle" font-weight="normal" fill="#252525">26</text>
<text transform="translate(83.45,140.7) scale(0.84,1)" font-size="6" text-anchor="middle" font-weight="normal" fill="#252525">0</text>
<text transform="translate(94.22,140.7) scale(0.84,1)" font-size="6" text-anchor="middle" font-weight="normal" fill="#252525">0</text>
<text transform="translate(40.38,153.6) scale(0.84,1)" font-size="6" text-anchor="middle" font-weight="normal" fill="#252525">10</text>
<text transform="translate(51.15,153.6) scale(0.84,1)" font-size="6" text-anchor="middle" font-weight="normal" fill="#252525">10</text>
<text transform="translate(61.92,153.6) scale(0.84,1)" font-size="6" text-anchor="middle" font-weight="normal" fill="#252525">29</text>
<text transform="translate(72.68,153.6) scale(0.84,1)" font-size="6" text-anchor="middle" font-weight="normal" fill="#252525">108</text>
<text transform="translate(83.45,153.6) scale(0.84,1)" font-size="6" text-anchor="middle" font-weight="normal" fill="#252525">0</text>
<text transform="translate(94.22,153.6) scale(0.84,1)" font-size="6" text-anchor="middle" font-weight="normal" fill="#252525">0</text>
<text transform="translate(40.38,166.5) scale(0.84,1)" font-size="6" text-anchor="middle" font-weight="normal" fill="#252525">24</text>
<text transform="translate(51.15,166.5) scale(0.84,1)" font-size="6" text-anchor="middle" font-weight="normal" fill="#252525">24</text>
<text transform="translate(61.92,166.5) scale(0.84,1)" font-size="6" text-anchor="middle" font-weight="normal" fill="#252525">24</text>
<text transform="translate(72.68,166.5) scale(0.84,1)" font-size="6" text-anchor="middle" font-weight="normal" fill="#252525">97</text>
<text transform="translate(83.45,166.5) scale(0.84,1)" font-size="6" text-anchor="middle" font-weight="normal" fill="#252525">1</text>
<text transform="translate(94.22,166.5) scale(0.84,1)" font-size="6" text-anchor="middle" font-weight="normal" fill="#252525">0</text>
<line x1="32.7" y1="112.75" x2="35" y2="112.75" stroke="#555" stroke-width="0.6"/>
<text transform="translate(31,115.1) scale(0.9,1)" font-size="6.5" text-anchor="end" font-weight="normal" fill="#2a2a2a">0.3</text>
<line x1="32.7" y1="125.65" x2="35" y2="125.65" stroke="#555" stroke-width="0.6"/>
<text transform="translate(31,128) scale(0.9,1)" font-size="6.5" text-anchor="end" font-weight="normal" fill="#2a2a2a">0.1</text>
<line x1="32.7" y1="138.55" x2="35" y2="138.55" stroke="#555" stroke-width="0.6"/>
<text transform="translate(31,140.9) scale(0.9,1)" font-size="6.5" text-anchor="end" font-weight="normal" fill="#2a2a2a">0.03</text>
<line x1="32.7" y1="151.45" x2="35" y2="151.45" stroke="#555" stroke-width="0.6"/>
<text transform="translate(31,153.8) scale(0.9,1)" font-size="6.5" text-anchor="end" font-weight="normal" fill="#2a2a2a">0.01</text>
<line x1="32.7" y1="164.35" x2="35" y2="164.35" stroke="#555" stroke-width="0.6"/>
<text transform="translate(31,166.7) scale(0.9,1)" font-size="6.5" text-anchor="end" font-weight="normal" fill="#2a2a2a">0.003</text>
<line x1="40.38" y1="170.8" x2="40.38" y2="173.4" stroke="#555" stroke-width="0.6"/>
<text transform="translate(42.68,174.8) rotate(-90) scale(0.9,1)" font-size="6.4" text-anchor="end" font-weight="normal" fill="#2a2a2a">0.01</text>
<line x1="51.15" y1="170.8" x2="51.15" y2="173.4" stroke="#555" stroke-width="0.6"/>
<text transform="translate(53.45,174.8) rotate(-90) scale(0.9,1)" font-size="6.4" text-anchor="end" font-weight="normal" fill="#2a2a2a">0.03</text>
<line x1="61.92" y1="170.8" x2="61.92" y2="173.4" stroke="#555" stroke-width="0.6"/>
<text transform="translate(64.22,174.8) rotate(-90) scale(0.9,1)" font-size="6.4" text-anchor="end" font-weight="normal" fill="#2a2a2a">0.1</text>
<line x1="72.68" y1="170.8" x2="72.68" y2="173.4" stroke="#555" stroke-width="0.6"/>
<text transform="translate(74.98,174.8) rotate(-90) scale(0.9,1)" font-size="6.4" text-anchor="end" font-weight="normal" fill="#2a2a2a">0.3</text>
<line x1="83.45" y1="170.8" x2="83.45" y2="173.4" stroke="#555" stroke-width="0.6"/>
<text transform="translate(85.75,174.8) rotate(-90) scale(0.9,1)" font-size="6.4" text-anchor="end" font-weight="normal" fill="#2a2a2a">1</text>
<line x1="94.22" y1="170.8" x2="94.22" y2="173.4" stroke="#555" stroke-width="0.6"/>
<text transform="translate(96.52,174.8) rotate(-90) scale(0.9,1)" font-size="6.4" text-anchor="end" font-weight="normal" fill="#2a2a2a">3</text>
<text x="67.3" y="197.2" font-size="8.2" text-anchor="middle" font-weight="bold" fill="#111">Berzosertib (μmol/L)</text>
<rect x="123.5" y="106.3" width="10.85" height="12.95" fill="#eef0a7"/>
<rect x="134.3" y="106.3" width="10.85" height="12.95" fill="#eef0a7"/>
<rect x="145.1" y="106.3" width="10.85" height="12.95" fill="#eef0a7"/>
<rect x="155.9" y="106.3" width="10.85" height="12.95" fill="#f7f1a1"/>
<rect x="166.7" y="106.3" width="10.85" height="12.95" fill="#f8eea0"/>
<rect x="177.5" y="106.3" width="10.85" height="12.95" fill="#f8eea0"/>
<rect x="123.5" y="119.2" width="10.85" height="12.95" fill="#eef0a7"/>
<rect x="134.3" y="119.2" width="10.85" height="12.95" fill="#eef0a7"/>
<rect x="145.1" y="119.2" width="10.85" height="12.95" fill="#f5f1a2"/>
<rect x="155.9" y="119.2" width="10.85" height="12.95" fill="#f7f1a1"/>
<rect x="166.7" y="119.2" width="10.85" height="12.95" fill="#f8eea0"/>
<rect x="177.5" y="119.2" width="10.85" height="12.95" fill="#f8eea0"/>
<rect x="123.5" y="132.1" width="10.85" height="12.95" fill="#eef0a7"/>
<rect x="134.3" y="132.1" width="10.85" height="12.95" fill="#eef0a7"/>
<rect x="145.1" y="132.1" width="10.85" height="12.95" fill="#f5f1a2"/>
<rect x="155.9" y="132.1" width="10.85" height="12.95" fill="#f8eea0"/>
<rect x="166.7" y="132.1" width="10.85" height="12.95" fill="#f8eea0"/>
<rect x="177.5" y="132.1" width="10.85" height="12.95" fill="#f8eca0"/>
<rect x="123.5" y="145" width="10.85" height="12.95" fill="#b1d2cf"/>
<rect x="134.3" y="145" width="10.85" height="12.95" fill="#5990d4"/>
<rect x="145.1" y="145" width="10.85" height="12.95" fill="#4d7fcb"/>
<rect x="155.9" y="145" width="10.85" height="12.95" fill="#9fc7d7"/>
<rect x="166.7" y="145" width="10.85" height="12.95" fill="#f5f1a2"/>
<rect x="177.5" y="145" width="10.85" height="12.95" fill="#f7f1a1"/>
<rect x="123.5" y="157.9" width="10.85" height="12.95" fill="#f8eca0"/>
<rect x="134.3" y="157.9" width="10.85" height="12.95" fill="#c4ddc6"/>
<rect x="145.1" y="157.9" width="10.85" height="12.95" fill="#4c7eca"/>
<rect x="155.9" y="157.9" width="10.85" height="12.95" fill="#76aade"/>
<rect x="166.7" y="157.9" width="10.85" height="12.95" fill="#f5f1a2"/>
<rect x="177.5" y="157.9" width="10.85" height="12.95" fill="#f7f1a1"/>
<line x1="134.3" y1="106.3" x2="134.3" y2="170.8" stroke="#ffffff" stroke-opacity="0.5" stroke-width="0.75"/>
<line x1="145.1" y1="106.3" x2="145.1" y2="170.8" stroke="#ffffff" stroke-opacity="0.5" stroke-width="0.75"/>
<line x1="155.9" y1="106.3" x2="155.9" y2="170.8" stroke="#ffffff" stroke-opacity="0.5" stroke-width="0.75"/>
<line x1="166.7" y1="106.3" x2="166.7" y2="170.8" stroke="#ffffff" stroke-opacity="0.5" stroke-width="0.75"/>
<line x1="177.5" y1="106.3" x2="177.5" y2="170.8" stroke="#ffffff" stroke-opacity="0.5" stroke-width="0.75"/>
<line x1="123.5" y1="119.2" x2="188.3" y2="119.2" stroke="#ffffff" stroke-opacity="0.5" stroke-width="0.75"/>
<line x1="123.5" y1="132.1" x2="188.3" y2="132.1" stroke="#ffffff" stroke-opacity="0.5" stroke-width="0.75"/>
<line x1="123.5" y1="145" x2="188.3" y2="145" stroke="#ffffff" stroke-opacity="0.5" stroke-width="0.75"/>
<line x1="123.5" y1="157.9" x2="188.3" y2="157.9" stroke="#ffffff" stroke-opacity="0.5" stroke-width="0.75"/>
<rect x="123.5" y="106.3" width="64.8" height="64.5" fill="none" stroke="#8c8c80" stroke-width="0.85"/>
<text transform="translate(128.9,114.9) scale(0.84,1)" font-size="6" text-anchor="middle" font-weight="normal" fill="#252525">2</text>
<text transform="translate(139.7,114.9) scale(0.84,1)" font-size="6" text-anchor="middle" font-weight="normal" fill="#252525">2</text>
<text transform="translate(150.5,114.9) scale(0.84,1)" font-size="6" text-anchor="middle" font-weight="normal" fill="#252525">2</text>
<text transform="translate(161.3,114.9) scale(0.84,1)" font-size="6" text-anchor="middle" font-weight="normal" fill="#252525">0</text>
<text transform="translate(172.1,114.9) scale(0.84,1)" font-size="6" text-anchor="middle" font-weight="normal" fill="#252525">-1</text>
<text transform="translate(182.9,114.9) scale(0.84,1)" font-size="6" text-anchor="middle" font-weight="normal" fill="#252525">-1</text>
<text transform="translate(128.9,127.8) scale(0.84,1)" font-size="6" text-anchor="middle" font-weight="normal" fill="#252525">2</text>
<text transform="translate(139.7,127.8) scale(0.84,1)" font-size="6" text-anchor="middle" font-weight="normal" fill="#252525">2</text>
<text transform="translate(150.5,127.8) scale(0.84,1)" font-size="6" text-anchor="middle" font-weight="normal" fill="#252525">1</text>
<text transform="translate(161.3,127.8) scale(0.84,1)" font-size="6" text-anchor="middle" font-weight="normal" fill="#252525">0</text>
<text transform="translate(172.1,127.8) scale(0.84,1)" font-size="6" text-anchor="middle" font-weight="normal" fill="#252525">-1</text>
<text transform="translate(182.9,127.8) scale(0.84,1)" font-size="6" text-anchor="middle" font-weight="normal" fill="#252525">-1</text>
<text transform="translate(128.9,140.7) scale(0.84,1)" font-size="6" text-anchor="middle" font-weight="normal" fill="#252525">2</text>
<text transform="translate(139.7,140.7) scale(0.84,1)" font-size="6" text-anchor="middle" font-weight="normal" fill="#252525">2</text>
<text transform="translate(150.5,140.7) scale(0.84,1)" font-size="6" text-anchor="middle" font-weight="normal" fill="#252525">1</text>
<text transform="translate(161.3,140.7) scale(0.84,1)" font-size="6" text-anchor="middle" font-weight="normal" fill="#252525">-1</text>
<text transform="translate(172.1,140.7) scale(0.84,1)" font-size="6" text-anchor="middle" font-weight="normal" fill="#252525">-1</text>
<text transform="translate(182.9,140.7) scale(0.84,1)" font-size="6" text-anchor="middle" font-weight="normal" fill="#252525">-2</text>
<text transform="translate(128.9,153.6) scale(0.84,1)" font-size="6" text-anchor="middle" font-weight="normal" fill="#252525">11</text>
<text transform="translate(139.7,153.6) scale(0.84,1)" font-size="6" text-anchor="middle" font-weight="normal" fill="#252525">24</text>
<text transform="translate(150.5,153.6) scale(0.84,1)" font-size="6" text-anchor="middle" font-weight="normal" fill="#252525">43</text>
<text transform="translate(161.3,153.6) scale(0.84,1)" font-size="6" text-anchor="middle" font-weight="normal" fill="#252525">13</text>
<text transform="translate(172.1,153.6) scale(0.84,1)" font-size="6" text-anchor="middle" font-weight="normal" fill="#252525">1</text>
<text transform="translate(182.9,153.6) scale(0.84,1)" font-size="6" text-anchor="middle" font-weight="normal" fill="#252525">0</text>
<text transform="translate(128.9,166.5) scale(0.84,1)" font-size="6" text-anchor="middle" font-weight="normal" fill="#252525">-2</text>
<text transform="translate(139.7,166.5) scale(0.84,1)" font-size="6" text-anchor="middle" font-weight="normal" fill="#252525">9</text>
<text transform="translate(150.5,166.5) scale(0.84,1)" font-size="6" text-anchor="middle" font-weight="normal" fill="#252525">47</text>
<text transform="translate(161.3,166.5) scale(0.84,1)" font-size="6" text-anchor="middle" font-weight="normal" fill="#252525">18</text>
<text transform="translate(172.1,166.5) scale(0.84,1)" font-size="6" text-anchor="middle" font-weight="normal" fill="#252525">1</text>
<text transform="translate(182.9,166.5) scale(0.84,1)" font-size="6" text-anchor="middle" font-weight="normal" fill="#252525">0</text>
<line x1="121.2" y1="112.75" x2="123.5" y2="112.75" stroke="#555" stroke-width="0.6"/>
<text transform="translate(119.5,115.1) scale(0.9,1)" font-size="6.5" text-anchor="end" font-weight="normal" fill="#2a2a2a">0.3</text>
<line x1="121.2" y1="125.65" x2="123.5" y2="125.65" stroke="#555" stroke-width="0.6"/>
<text transform="translate(119.5,128) scale(0.9,1)" font-size="6.5" text-anchor="end" font-weight="normal" fill="#2a2a2a">0.1</text>
<line x1="121.2" y1="138.55" x2="123.5" y2="138.55" stroke="#555" stroke-width="0.6"/>
<text transform="translate(119.5,140.9) scale(0.9,1)" font-size="6.5" text-anchor="end" font-weight="normal" fill="#2a2a2a">0.03</text>
<line x1="121.2" y1="151.45" x2="123.5" y2="151.45" stroke="#555" stroke-width="0.6"/>
<text transform="translate(119.5,153.8) scale(0.9,1)" font-size="6.5" text-anchor="end" font-weight="normal" fill="#2a2a2a">0.01</text>
<line x1="121.2" y1="164.35" x2="123.5" y2="164.35" stroke="#555" stroke-width="0.6"/>
<text transform="translate(119.5,166.7) scale(0.9,1)" font-size="6.5" text-anchor="end" font-weight="normal" fill="#2a2a2a">0.003</text>
<line x1="128.9" y1="170.8" x2="128.9" y2="173.4" stroke="#555" stroke-width="0.6"/>
<text transform="translate(131.2,174.8) rotate(-90) scale(0.9,1)" font-size="6.4" text-anchor="end" font-weight="normal" fill="#2a2a2a">0.01</text>
<line x1="139.7" y1="170.8" x2="139.7" y2="173.4" stroke="#555" stroke-width="0.6"/>
<text transform="translate(142,174.8) rotate(-90) scale(0.9,1)" font-size="6.4" text-anchor="end" font-weight="normal" fill="#2a2a2a">0.03</text>
<line x1="150.5" y1="170.8" x2="150.5" y2="173.4" stroke="#555" stroke-width="0.6"/>
<text transform="translate(152.8,174.8) rotate(-90) scale(0.9,1)" font-size="6.4" text-anchor="end" font-weight="normal" fill="#2a2a2a">0.1</text>
<line x1="161.3" y1="170.8" x2="161.3" y2="173.4" stroke="#555" stroke-width="0.6"/>
<text transform="translate(163.6,174.8) rotate(-90) scale(0.9,1)" font-size="6.4" text-anchor="end" font-weight="normal" fill="#2a2a2a">0.3</text>
<line x1="172.1" y1="170.8" x2="172.1" y2="173.4" stroke="#555" stroke-width="0.6"/>
<text transform="translate(174.4,174.8) rotate(-90) scale(0.9,1)" font-size="6.4" text-anchor="end" font-weight="normal" fill="#2a2a2a">1</text>
<line x1="182.9" y1="170.8" x2="182.9" y2="173.4" stroke="#555" stroke-width="0.6"/>
<text transform="translate(185.2,174.8) rotate(-90) scale(0.9,1)" font-size="6.4" text-anchor="end" font-weight="normal" fill="#2a2a2a">3</text>
<text x="155.9" y="197.2" font-size="8.2" text-anchor="middle" font-weight="bold" fill="#111">Berzosertib (μmol/L)</text>
<rect x="214.2" y="106.3" width="10.78" height="12.95" fill="#e8eeac"/>
<rect x="224.93" y="106.3" width="10.78" height="12.95" fill="#e2ebb1"/>
<rect x="235.67" y="106.3" width="10.78" height="12.95" fill="#e8eeac"/>
<rect x="246.4" y="106.3" width="10.78" height="12.95" fill="#f8eca0"/>
<rect x="257.13" y="106.3" width="10.78" height="12.95" fill="#f8eca0"/>
<rect x="267.87" y="106.3" width="10.78" height="12.95" fill="#f8eea0"/>
<rect x="214.2" y="119.2" width="10.78" height="12.95" fill="#f9ce8c"/>
<rect x="224.93" y="119.2" width="10.78" height="12.95" fill="#f8eca0"/>
<rect x="235.67" y="119.2" width="10.78" height="12.95" fill="#f8eca0"/>
<rect x="246.4" y="119.2" width="10.78" height="12.95" fill="#f9ce8c"/>
<rect x="257.13" y="119.2" width="10.78" height="12.95" fill="#fae09a"/>
<rect x="267.87" y="119.2" width="10.78" height="12.95" fill="#f5f1a2"/>
<rect x="214.2" y="132.1" width="10.78" height="12.95" fill="#e2ebb1"/>
<rect x="224.93" y="132.1" width="10.78" height="12.95" fill="#c4ddc6"/>
<rect x="235.67" y="132.1" width="10.78" height="12.95" fill="#d0e2be"/>
<rect x="246.4" y="132.1" width="10.78" height="12.95" fill="#fae09a"/>
<rect x="257.13" y="132.1" width="10.78" height="12.95" fill="#fae09a"/>
<rect x="267.87" y="132.1" width="10.78" height="12.95" fill="#eef0a7"/>
<rect x="214.2" y="145" width="10.78" height="12.95" fill="#4e81cc"/>
<rect x="224.93" y="145" width="10.78" height="12.95" fill="#4c7eca"/>
<rect x="235.67" y="145" width="10.78" height="12.95" fill="#4c7eca"/>
<rect x="246.4" y="145" width="10.78" height="12.95" fill="#7db0dd"/>
<rect x="257.13" y="145" width="10.78" height="12.95" fill="#f5f1a2"/>
<rect x="267.87" y="145" width="10.78" height="12.95" fill="#f7f1a1"/>
<rect x="214.2" y="157.9" width="10.78" height="12.95" fill="#699fda"/>
<rect x="224.93" y="157.9" width="10.78" height="12.95" fill="#4c7eca"/>
<rect x="235.67" y="157.9" width="10.78" height="12.95" fill="#4c7eca"/>
<rect x="246.4" y="157.9" width="10.78" height="12.95" fill="#9fc7d7"/>
<rect x="257.13" y="157.9" width="10.78" height="12.95" fill="#f5f1a2"/>
<rect x="267.87" y="157.9" width="10.78" height="12.95" fill="#eef0a7"/>
<line x1="224.93" y1="106.3" x2="224.93" y2="170.8" stroke="#ffffff" stroke-opacity="0.5" stroke-width="0.75"/>
<line x1="235.67" y1="106.3" x2="235.67" y2="170.8" stroke="#ffffff" stroke-opacity="0.5" stroke-width="0.75"/>
<line x1="246.4" y1="106.3" x2="246.4" y2="170.8" stroke="#ffffff" stroke-opacity="0.5" stroke-width="0.75"/>
<line x1="257.13" y1="106.3" x2="257.13" y2="170.8" stroke="#ffffff" stroke-opacity="0.5" stroke-width="0.75"/>
<line x1="267.87" y1="106.3" x2="267.87" y2="170.8" stroke="#ffffff" stroke-opacity="0.5" stroke-width="0.75"/>
<line x1="214.2" y1="119.2" x2="278.6" y2="119.2" stroke="#ffffff" stroke-opacity="0.5" stroke-width="0.75"/>
<line x1="214.2" y1="132.1" x2="278.6" y2="132.1" stroke="#ffffff" stroke-opacity="0.5" stroke-width="0.75"/>
<line x1="214.2" y1="145" x2="278.6" y2="145" stroke="#ffffff" stroke-opacity="0.5" stroke-width="0.75"/>
<line x1="214.2" y1="157.9" x2="278.6" y2="157.9" stroke="#ffffff" stroke-opacity="0.5" stroke-width="0.75"/>
<rect x="214.2" y="106.3" width="64.4" height="64.5" fill="none" stroke="#8c8c80" stroke-width="0.85"/>
<text transform="translate(219.57,114.9) scale(0.84,1)" font-size="6" text-anchor="middle" font-weight="normal" fill="#252525">3</text>
<text transform="translate(230.3,114.9) scale(0.84,1)" font-size="6" text-anchor="middle" font-weight="normal" fill="#252525">4</text>
<text transform="translate(241.03,114.9) scale(0.84,1)" font-size="6" text-anchor="middle" font-weight="normal" fill="#252525">3</text>
<text transform="translate(251.77,114.9) scale(0.84,1)" font-size="6" text-anchor="middle" font-weight="normal" fill="#252525">-2</text>
<text transform="translate(262.5,114.9) scale(0.84,1)" font-size="6" text-anchor="middle" font-weight="normal" fill="#252525">-2</text>
<text transform="translate(273.23,114.9) scale(0.84,1)" font-size="6" text-anchor="middle" font-weight="normal" fill="#252525">-1</text>
<text transform="translate(219.57,127.8) scale(0.84,1)" font-size="6" text-anchor="middle" font-weight="normal" fill="#252525">-5</text>
<text transform="translate(230.3,127.8) scale(0.84,1)" font-size="6" text-anchor="middle" font-weight="normal" fill="#252525">-2</text>
<text transform="translate(241.03,127.8) scale(0.84,1)" font-size="6" text-anchor="middle" font-weight="normal" fill="#252525">-2</text>
<text transform="translate(251.77,127.8) scale(0.84,1)" font-size="6" text-anchor="middle" font-weight="normal" fill="#252525">-5</text>
<text transform="translate(262.5,127.8) scale(0.84,1)" font-size="6" text-anchor="middle" font-weight="normal" fill="#252525">-3</text>
<text transform="translate(273.23,127.8) scale(0.84,1)" font-size="6" text-anchor="middle" font-weight="normal" fill="#252525">1</text>
<text transform="translate(219.57,140.7) scale(0.84,1)" font-size="6" text-anchor="middle" font-weight="normal" fill="#252525">4</text>
<text transform="translate(230.3,140.7) scale(0.84,1)" font-size="6" text-anchor="middle" font-weight="normal" fill="#252525">9</text>
<text transform="translate(241.03,140.7) scale(0.84,1)" font-size="6" text-anchor="middle" font-weight="normal" fill="#252525">7</text>
<text transform="translate(251.77,140.7) scale(0.84,1)" font-size="6" text-anchor="middle" font-weight="normal" fill="#252525">-3</text>
<text transform="translate(262.5,140.7) scale(0.84,1)" font-size="6" text-anchor="middle" font-weight="normal" fill="#252525">-3</text>
<text transform="translate(273.23,140.7) scale(0.84,1)" font-size="6" text-anchor="middle" font-weight="normal" fill="#252525">2</text>
<text transform="translate(219.57,153.6) scale(0.84,1)" font-size="6" text-anchor="middle" font-weight="normal" fill="#252525">37</text>
<text transform="translate(230.3,153.6) scale(0.84,1)" font-size="6" text-anchor="middle" font-weight="normal" fill="#252525">67</text>
<text transform="translate(241.03,153.6) scale(0.84,1)" font-size="6" text-anchor="middle" font-weight="normal" fill="#252525">61</text>
<text transform="translate(251.77,153.6) scale(0.84,1)" font-size="6" text-anchor="middle" font-weight="normal" fill="#252525">17</text>
<text transform="translate(262.5,153.6) scale(0.84,1)" font-size="6" text-anchor="middle" font-weight="normal" fill="#252525">1</text>
<text transform="translate(273.23,153.6) scale(0.84,1)" font-size="6" text-anchor="middle" font-weight="normal" fill="#252525">0</text>
<text transform="translate(219.57,166.5) scale(0.84,1)" font-size="6" text-anchor="middle" font-weight="normal" fill="#252525">20</text>
<text transform="translate(230.3,166.5) scale(0.84,1)" font-size="6" text-anchor="middle" font-weight="normal" fill="#252525">45</text>
<text transform="translate(241.03,166.5) scale(0.84,1)" font-size="6" text-anchor="middle" font-weight="normal" fill="#252525">48</text>
<text transform="translate(251.77,166.5) scale(0.84,1)" font-size="6" text-anchor="middle" font-weight="normal" fill="#252525">13</text>
<text transform="translate(262.5,166.5) scale(0.84,1)" font-size="6" text-anchor="middle" font-weight="normal" fill="#252525">1</text>
<text transform="translate(273.23,166.5) scale(0.84,1)" font-size="6" text-anchor="middle" font-weight="normal" fill="#252525">2</text>
<line x1="211.9" y1="112.75" x2="214.2" y2="112.75" stroke="#555" stroke-width="0.6"/>
<text transform="translate(210.2,115.1) scale(0.9,1)" font-size="6.5" text-anchor="end" font-weight="normal" fill="#2a2a2a">0.3</text>
<line x1="211.9" y1="125.65" x2="214.2" y2="125.65" stroke="#555" stroke-width="0.6"/>
<text transform="translate(210.2,128) scale(0.9,1)" font-size="6.5" text-anchor="end" font-weight="normal" fill="#2a2a2a">0.1</text>
<line x1="211.9" y1="138.55" x2="214.2" y2="138.55" stroke="#555" stroke-width="0.6"/>
<text transform="translate(210.2,140.9) scale(0.9,1)" font-size="6.5" text-anchor="end" font-weight="normal" fill="#2a2a2a">0.03</text>
<line x1="211.9" y1="151.45" x2="214.2" y2="151.45" stroke="#555" stroke-width="0.6"/>
<text transform="translate(210.2,153.8) scale(0.9,1)" font-size="6.5" text-anchor="end" font-weight="normal" fill="#2a2a2a">0.01</text>
<line x1="211.9" y1="164.35" x2="214.2" y2="164.35" stroke="#555" stroke-width="0.6"/>
<text transform="translate(210.2,166.7) scale(0.9,1)" font-size="6.5" text-anchor="end" font-weight="normal" fill="#2a2a2a">0.003</text>
<line x1="219.57" y1="170.8" x2="219.57" y2="173.4" stroke="#555" stroke-width="0.6"/>
<text transform="translate(221.87,174.8) rotate(-90) scale(0.9,1)" font-size="6.4" text-anchor="end" font-weight="normal" fill="#2a2a2a">0.01</text>
<line x1="230.3" y1="170.8" x2="230.3" y2="173.4" stroke="#555" stroke-width="0.6"/>
<text transform="translate(232.6,174.8) rotate(-90) scale(0.9,1)" font-size="6.4" text-anchor="end" font-weight="normal" fill="#2a2a2a">0.03</text>
<line x1="241.03" y1="170.8" x2="241.03" y2="173.4" stroke="#555" stroke-width="0.6"/>
<text transform="translate(243.33,174.8) rotate(-90) scale(0.9,1)" font-size="6.4" text-anchor="end" font-weight="normal" fill="#2a2a2a">0.1</text>
<line x1="251.77" y1="170.8" x2="251.77" y2="173.4" stroke="#555" stroke-width="0.6"/>
<text transform="translate(254.07,174.8) rotate(-90) scale(0.9,1)" font-size="6.4" text-anchor="end" font-weight="normal" fill="#2a2a2a">0.3</text>
<line x1="262.5" y1="170.8" x2="262.5" y2="173.4" stroke="#555" stroke-width="0.6"/>
<text transform="translate(264.8,174.8) rotate(-90) scale(0.9,1)" font-size="6.4" text-anchor="end" font-weight="normal" fill="#2a2a2a">1</text>
<line x1="273.23" y1="170.8" x2="273.23" y2="173.4" stroke="#555" stroke-width="0.6"/>
<text transform="translate(275.53,174.8) rotate(-90) scale(0.9,1)" font-size="6.4" text-anchor="end" font-weight="normal" fill="#2a2a2a">3</text>
<text x="246.4" y="197.2" font-size="8.2" text-anchor="middle" font-weight="bold" fill="#111">Berzosertib (μmol/L)</text>
<rect x="305.2" y="106.3" width="10.85" height="12.95" fill="#cae0c2"/>
<rect x="316" y="106.3" width="10.85" height="12.95" fill="#629ad8"/>
<rect x="326.8" y="106.3" width="10.85" height="12.95" fill="#4f83cd"/>
<rect x="337.6" y="106.3" width="10.85" height="12.95" fill="#5084ce"/>
<rect x="348.4" y="106.3" width="10.85" height="12.95" fill="#95c1d9"/>
<rect x="359.2" y="106.3" width="10.85" height="12.95" fill="#f8eea0"/>
<rect x="305.2" y="119.2" width="10.85" height="12.95" fill="#f9ce8c"/>
<rect x="316" y="119.2" width="10.85" height="12.95" fill="#e8eeac"/>
<rect x="326.8" y="119.2" width="10.85" height="12.95" fill="#5c94d6"/>
<rect x="337.6" y="119.2" width="10.85" height="12.95" fill="#548ad1"/>
<rect x="348.4" y="119.2" width="10.85" height="12.95" fill="#b1d2cf"/>
<rect x="359.2" y="119.2" width="10.85" height="12.95" fill="#f9ce8c"/>
<rect x="305.2" y="132.1" width="10.85" height="12.95" fill="#f9ce8c"/>
<rect x="316" y="132.1" width="10.85" height="12.95" fill="#f9ce8c"/>
<rect x="326.8" y="132.1" width="10.85" height="12.95" fill="#f9c886"/>
<rect x="337.6" y="132.1" width="10.85" height="12.95" fill="#9fc7d7"/>
<rect x="348.4" y="132.1" width="10.85" height="12.95" fill="#bbd7cb"/>
<rect x="359.2" y="132.1" width="10.85" height="12.95" fill="#f8c080"/>
<rect x="305.2" y="145" width="10.85" height="12.95" fill="#f7b87a"/>
<rect x="316" y="145" width="10.85" height="12.95" fill="#fad694"/>
<rect x="326.8" y="145" width="10.85" height="12.95" fill="#d6e5ba"/>
<rect x="337.6" y="145" width="10.85" height="12.95" fill="#76aade"/>
<rect x="348.4" y="145" width="10.85" height="12.95" fill="#9fc7d7"/>
<rect x="359.2" y="145" width="10.85" height="12.95" fill="#f8eea0"/>
<rect x="305.2" y="157.9" width="10.85" height="12.95" fill="#c4ddc6"/>
<rect x="316" y="157.9" width="10.85" height="12.95" fill="#cae0c2"/>
<rect x="326.8" y="157.9" width="10.85" height="12.95" fill="#c4ddc6"/>
<rect x="337.6" y="157.9" width="10.85" height="12.95" fill="#76aade"/>
<rect x="348.4" y="157.9" width="10.85" height="12.95" fill="#699fda"/>
<rect x="359.2" y="157.9" width="10.85" height="12.95" fill="#f7f1a1"/>
<line x1="316" y1="106.3" x2="316" y2="170.8" stroke="#ffffff" stroke-opacity="0.5" stroke-width="0.75"/>
<line x1="326.8" y1="106.3" x2="326.8" y2="170.8" stroke="#ffffff" stroke-opacity="0.5" stroke-width="0.75"/>
<line x1="337.6" y1="106.3" x2="337.6" y2="170.8" stroke="#ffffff" stroke-opacity="0.5" stroke-width="0.75"/>
<line x1="348.4" y1="106.3" x2="348.4" y2="170.8" stroke="#ffffff" stroke-opacity="0.5" stroke-width="0.75"/>
<line x1="359.2" y1="106.3" x2="359.2" y2="170.8" stroke="#ffffff" stroke-opacity="0.5" stroke-width="0.75"/>
<line x1="305.2" y1="119.2" x2="370" y2="119.2" stroke="#ffffff" stroke-opacity="0.5" stroke-width="0.75"/>
<line x1="305.2" y1="132.1" x2="370" y2="132.1" stroke="#ffffff" stroke-opacity="0.5" stroke-width="0.75"/>
<line x1="305.2" y1="145" x2="370" y2="145" stroke="#ffffff" stroke-opacity="0.5" stroke-width="0.75"/>
<line x1="305.2" y1="157.9" x2="370" y2="157.9" stroke="#ffffff" stroke-opacity="0.5" stroke-width="0.75"/>
<rect x="305.2" y="106.3" width="64.8" height="64.5" fill="none" stroke="#8c8c80" stroke-width="0.85"/>
<text transform="translate(310.6,114.9) scale(0.84,1)" font-size="6" text-anchor="middle" font-weight="normal" fill="#252525">8</text>
<text transform="translate(321.4,114.9) scale(0.84,1)" font-size="6" text-anchor="middle" font-weight="normal" fill="#252525">21</text>
<text transform="translate(332.2,114.9) scale(0.84,1)" font-size="6" text-anchor="middle" font-weight="normal" fill="#252525">33</text>
<text transform="translate(343,114.9) scale(0.84,1)" font-size="6" text-anchor="middle" font-weight="normal" fill="#252525">31</text>
<text transform="translate(353.8,114.9) scale(0.84,1)" font-size="6" text-anchor="middle" font-weight="normal" fill="#252525">14</text>
<text transform="translate(364.6,114.9) scale(0.84,1)" font-size="6" text-anchor="middle" font-weight="normal" fill="#252525">-1</text>
<text transform="translate(310.6,127.8) scale(0.84,1)" font-size="6" text-anchor="middle" font-weight="normal" fill="#252525">-5</text>
<text transform="translate(321.4,127.8) scale(0.84,1)" font-size="6" text-anchor="middle" font-weight="normal" fill="#252525">3</text>
<text transform="translate(332.2,127.8) scale(0.84,1)" font-size="6" text-anchor="middle" font-weight="normal" fill="#252525">22</text>
<text transform="translate(343,127.8) scale(0.84,1)" font-size="6" text-anchor="middle" font-weight="normal" fill="#252525">27</text>
<text transform="translate(353.8,127.8) scale(0.84,1)" font-size="6" text-anchor="middle" font-weight="normal" fill="#252525">11</text>
<text transform="translate(364.6,127.8) scale(0.84,1)" font-size="6" text-anchor="middle" font-weight="normal" fill="#252525">-5</text>
<text transform="translate(310.6,140.7) scale(0.84,1)" font-size="6" text-anchor="middle" font-weight="normal" fill="#252525">-5</text>
<text transform="translate(321.4,140.7) scale(0.84,1)" font-size="6" text-anchor="middle" font-weight="normal" fill="#252525">-5</text>
<text transform="translate(332.2,140.7) scale(0.84,1)" font-size="6" text-anchor="middle" font-weight="normal" fill="#252525">-6</text>
<text transform="translate(343,140.7) scale(0.84,1)" font-size="6" text-anchor="middle" font-weight="normal" fill="#252525">13</text>
<text transform="translate(353.8,140.7) scale(0.84,1)" font-size="6" text-anchor="middle" font-weight="normal" fill="#252525">10</text>
<text transform="translate(364.6,140.7) scale(0.84,1)" font-size="6" text-anchor="middle" font-weight="normal" fill="#252525">-7</text>
<text transform="translate(310.6,153.6) scale(0.84,1)" font-size="6" text-anchor="middle" font-weight="normal" fill="#252525">-8</text>
<text transform="translate(321.4,153.6) scale(0.84,1)" font-size="6" text-anchor="middle" font-weight="normal" fill="#252525">-4</text>
<text transform="translate(332.2,153.6) scale(0.84,1)" font-size="6" text-anchor="middle" font-weight="normal" fill="#252525">6</text>
<text transform="translate(343,153.6) scale(0.84,1)" font-size="6" text-anchor="middle" font-weight="normal" fill="#252525">18</text>
<text transform="translate(353.8,153.6) scale(0.84,1)" font-size="6" text-anchor="middle" font-weight="normal" fill="#252525">13</text>
<text transform="translate(364.6,153.6) scale(0.84,1)" font-size="6" text-anchor="middle" font-weight="normal" fill="#252525">-1</text>
<text transform="translate(310.6,166.5) scale(0.84,1)" font-size="6" text-anchor="middle" font-weight="normal" fill="#252525">9</text>
<text transform="translate(321.4,166.5) scale(0.84,1)" font-size="6" text-anchor="middle" font-weight="normal" fill="#252525">8</text>
<text transform="translate(332.2,166.5) scale(0.84,1)" font-size="6" text-anchor="middle" font-weight="normal" fill="#252525">9</text>
<text transform="translate(343,166.5) scale(0.84,1)" font-size="6" text-anchor="middle" font-weight="normal" fill="#252525">18</text>
<text transform="translate(353.8,166.5) scale(0.84,1)" font-size="6" text-anchor="middle" font-weight="normal" fill="#252525">20</text>
<text transform="translate(364.6,166.5) scale(0.84,1)" font-size="6" text-anchor="middle" font-weight="normal" fill="#252525">0</text>
<line x1="302.9" y1="112.75" x2="305.2" y2="112.75" stroke="#555" stroke-width="0.6"/>
<text transform="translate(301.2,115.1) scale(0.9,1)" font-size="6.5" text-anchor="end" font-weight="normal" fill="#2a2a2a">0.3</text>
<line x1="302.9" y1="125.65" x2="305.2" y2="125.65" stroke="#555" stroke-width="0.6"/>
<text transform="translate(301.2,128) scale(0.9,1)" font-size="6.5" text-anchor="end" font-weight="normal" fill="#2a2a2a">0.1</text>
<line x1="302.9" y1="138.55" x2="305.2" y2="138.55" stroke="#555" stroke-width="0.6"/>
<text transform="translate(301.2,140.9) scale(0.9,1)" font-size="6.5" text-anchor="end" font-weight="normal" fill="#2a2a2a">0.03</text>
<line x1="302.9" y1="151.45" x2="305.2" y2="151.45" stroke="#555" stroke-width="0.6"/>
<text transform="translate(301.2,153.8) scale(0.9,1)" font-size="6.5" text-anchor="end" font-weight="normal" fill="#2a2a2a">0.01</text>
<line x1="302.9" y1="164.35" x2="305.2" y2="164.35" stroke="#555" stroke-width="0.6"/>
<text transform="translate(301.2,166.7) scale(0.9,1)" font-size="6.5" text-anchor="end" font-weight="normal" fill="#2a2a2a">0.003</text>
<line x1="310.6" y1="170.8" x2="310.6" y2="173.4" stroke="#555" stroke-width="0.6"/>
<text transform="translate(312.9,174.8) rotate(-90) scale(0.9,1)" font-size="6.4" text-anchor="end" font-weight="normal" fill="#2a2a2a">0.01</text>
<line x1="321.4" y1="170.8" x2="321.4" y2="173.4" stroke="#555" stroke-width="0.6"/>
<text transform="translate(323.7,174.8) rotate(-90) scale(0.9,1)" font-size="6.4" text-anchor="end" font-weight="normal" fill="#2a2a2a">0.03</text>
<line x1="332.2" y1="170.8" x2="332.2" y2="173.4" stroke="#555" stroke-width="0.6"/>
<text transform="translate(334.5,174.8) rotate(-90) scale(0.9,1)" font-size="6.4" text-anchor="end" font-weight="normal" fill="#2a2a2a">0.1</text>
<line x1="343" y1="170.8" x2="343" y2="173.4" stroke="#555" stroke-width="0.6"/>
<text transform="translate(345.3,174.8) rotate(-90) scale(0.9,1)" font-size="6.4" text-anchor="end" font-weight="normal" fill="#2a2a2a">0.3</text>
<line x1="353.8" y1="170.8" x2="353.8" y2="173.4" stroke="#555" stroke-width="0.6"/>
<text transform="translate(356.1,174.8) rotate(-90) scale(0.9,1)" font-size="6.4" text-anchor="end" font-weight="normal" fill="#2a2a2a">1</text>
<line x1="364.6" y1="170.8" x2="364.6" y2="173.4" stroke="#555" stroke-width="0.6"/>
<text transform="translate(366.9,174.8) rotate(-90) scale(0.9,1)" font-size="6.4" text-anchor="end" font-weight="normal" fill="#2a2a2a">3</text>
<text x="337.6" y="197.2" font-size="8.2" text-anchor="middle" font-weight="bold" fill="#111">Berzosertib (μmol/L)</text>
<rect x="396.5" y="106.3" width="10.87" height="12.95" fill="#eef0a7"/>
<rect x="407.32" y="106.3" width="10.87" height="12.95" fill="#eef0a7"/>
<rect x="418.13" y="106.3" width="10.87" height="12.95" fill="#f7f1a1"/>
<rect x="428.95" y="106.3" width="10.87" height="12.95" fill="#f8eea0"/>
<rect x="439.77" y="106.3" width="10.87" height="12.95" fill="#f8eea0"/>
<rect x="450.58" y="106.3" width="10.87" height="12.95" fill="#f8eea0"/>
<rect x="396.5" y="119.2" width="10.87" height="12.95" fill="#f8eca0"/>
<rect x="407.32" y="119.2" width="10.87" height="12.95" fill="#f8eea0"/>
<rect x="418.13" y="119.2" width="10.87" height="12.95" fill="#f8eea0"/>
<rect x="428.95" y="119.2" width="10.87" height="12.95" fill="#f8eca0"/>
<rect x="439.77" y="119.2" width="10.87" height="12.95" fill="#f8eea0"/>
<rect x="450.58" y="119.2" width="10.87" height="12.95" fill="#f8eea0"/>
<rect x="396.5" y="132.1" width="10.87" height="12.95" fill="#eef0a7"/>
<rect x="407.32" y="132.1" width="10.87" height="12.95" fill="#a8ccd4"/>
<rect x="418.13" y="132.1" width="10.87" height="12.95" fill="#d6e5ba"/>
<rect x="428.95" y="132.1" width="10.87" height="12.95" fill="#f7f1a1"/>
<rect x="439.77" y="132.1" width="10.87" height="12.95" fill="#f8eea0"/>
<rect x="450.58" y="132.1" width="10.87" height="12.95" fill="#f7f1a1"/>
<rect x="396.5" y="145" width="10.87" height="12.95" fill="#95c1d9"/>
<rect x="407.32" y="145" width="10.87" height="12.95" fill="#f5f1a2"/>
<rect x="418.13" y="145" width="10.87" height="12.95" fill="#70a4dc"/>
<rect x="428.95" y="145" width="10.87" height="12.95" fill="#d0e2be"/>
<rect x="439.77" y="145" width="10.87" height="12.95" fill="#f8eea0"/>
<rect x="450.58" y="145" width="10.87" height="12.95" fill="#f8eca0"/>
<rect x="396.5" y="157.9" width="10.87" height="12.95" fill="#bbd7cb"/>
<rect x="407.32" y="157.9" width="10.87" height="12.95" fill="#e8eeac"/>
<rect x="418.13" y="157.9" width="10.87" height="12.95" fill="#e2ebb1"/>
<rect x="428.95" y="157.9" width="10.87" height="12.95" fill="#e2ebb1"/>
<rect x="439.77" y="157.9" width="10.87" height="12.95" fill="#f7f1a1"/>
<rect x="450.58" y="157.9" width="10.87" height="12.95" fill="#f8eea0"/>
<line x1="407.32" y1="106.3" x2="407.32" y2="170.8" stroke="#ffffff" stroke-opacity="0.5" stroke-width="0.75"/>
<line x1="418.13" y1="106.3" x2="418.13" y2="170.8" stroke="#ffffff" stroke-opacity="0.5" stroke-width="0.75"/>
<line x1="428.95" y1="106.3" x2="428.95" y2="170.8" stroke="#ffffff" stroke-opacity="0.5" stroke-width="0.75"/>
<line x1="439.77" y1="106.3" x2="439.77" y2="170.8" stroke="#ffffff" stroke-opacity="0.5" stroke-width="0.75"/>
<line x1="450.58" y1="106.3" x2="450.58" y2="170.8" stroke="#ffffff" stroke-opacity="0.5" stroke-width="0.75"/>
<line x1="396.5" y1="119.2" x2="461.4" y2="119.2" stroke="#ffffff" stroke-opacity="0.5" stroke-width="0.75"/>
<line x1="396.5" y1="132.1" x2="461.4" y2="132.1" stroke="#ffffff" stroke-opacity="0.5" stroke-width="0.75"/>
<line x1="396.5" y1="145" x2="461.4" y2="145" stroke="#ffffff" stroke-opacity="0.5" stroke-width="0.75"/>
<line x1="396.5" y1="157.9" x2="461.4" y2="157.9" stroke="#ffffff" stroke-opacity="0.5" stroke-width="0.75"/>
<rect x="396.5" y="106.3" width="64.9" height="64.5" fill="none" stroke="#8c8c80" stroke-width="0.85"/>
<text transform="translate(401.91,114.9) scale(0.84,1)" font-size="6" text-anchor="middle" font-weight="normal" fill="#252525">2</text>
<text transform="translate(412.73,114.9) scale(0.84,1)" font-size="6" text-anchor="middle" font-weight="normal" fill="#252525">2</text>
<text transform="translate(423.54,114.9) scale(0.84,1)" font-size="6" text-anchor="middle" font-weight="normal" fill="#252525">0</text>
<text transform="translate(434.36,114.9) scale(0.84,1)" font-size="6" text-anchor="middle" font-weight="normal" fill="#252525">-1</text>
<text transform="translate(445.17,114.9) scale(0.84,1)" font-size="6" text-anchor="middle" font-weight="normal" fill="#252525">-1</text>
<text transform="translate(455.99,114.9) scale(0.84,1)" font-size="6" text-anchor="middle" font-weight="normal" fill="#252525">-1</text>
<text transform="translate(401.91,127.8) scale(0.84,1)" font-size="6" text-anchor="middle" font-weight="normal" fill="#252525">-2</text>
<text transform="translate(412.73,127.8) scale(0.84,1)" font-size="6" text-anchor="middle" font-weight="normal" fill="#252525">-1</text>
<text transform="translate(423.54,127.8) scale(0.84,1)" font-size="6" text-anchor="middle" font-weight="normal" fill="#252525">-1</text>
<text transform="translate(434.36,127.8) scale(0.84,1)" font-size="6" text-anchor="middle" font-weight="normal" fill="#252525">-2</text>
<text transform="translate(445.17,127.8) scale(0.84,1)" font-size="6" text-anchor="middle" font-weight="normal" fill="#252525">-1</text>
<text transform="translate(455.99,127.8) scale(0.84,1)" font-size="6" text-anchor="middle" font-weight="normal" fill="#252525">-1</text>
<text transform="translate(401.91,140.7) scale(0.84,1)" font-size="6" text-anchor="middle" font-weight="normal" fill="#252525">2</text>
<text transform="translate(412.73,140.7) scale(0.84,1)" font-size="6" text-anchor="middle" font-weight="normal" fill="#252525">12</text>
<text transform="translate(423.54,140.7) scale(0.84,1)" font-size="6" text-anchor="middle" font-weight="normal" fill="#252525">6</text>
<text transform="translate(434.36,140.7) scale(0.84,1)" font-size="6" text-anchor="middle" font-weight="normal" fill="#252525">0</text>
<text transform="translate(445.17,140.7) scale(0.84,1)" font-size="6" text-anchor="middle" font-weight="normal" fill="#252525">-1</text>
<text transform="translate(455.99,140.7) scale(0.84,1)" font-size="6" text-anchor="middle" font-weight="normal" fill="#252525">0</text>
<text transform="translate(401.91,153.6) scale(0.84,1)" font-size="6" text-anchor="middle" font-weight="normal" fill="#252525">14</text>
<text transform="translate(412.73,153.6) scale(0.84,1)" font-size="6" text-anchor="middle" font-weight="normal" fill="#252525">1</text>
<text transform="translate(423.54,153.6) scale(0.84,1)" font-size="6" text-anchor="middle" font-weight="normal" fill="#252525">19</text>
<text transform="translate(434.36,153.6) scale(0.84,1)" font-size="6" text-anchor="middle" font-weight="normal" fill="#252525">7</text>
<text transform="translate(445.17,153.6) scale(0.84,1)" font-size="6" text-anchor="middle" font-weight="normal" fill="#252525">-1</text>
<text transform="translate(455.99,153.6) scale(0.84,1)" font-size="6" text-anchor="middle" font-weight="normal" fill="#252525">-2</text>
<text transform="translate(401.91,166.5) scale(0.84,1)" font-size="6" text-anchor="middle" font-weight="normal" fill="#252525">10</text>
<text transform="translate(412.73,166.5) scale(0.84,1)" font-size="6" text-anchor="middle" font-weight="normal" fill="#252525">3</text>
<text transform="translate(423.54,166.5) scale(0.84,1)" font-size="6" text-anchor="middle" font-weight="normal" fill="#252525">4</text>
<text transform="translate(434.36,166.5) scale(0.84,1)" font-size="6" text-anchor="middle" font-weight="normal" fill="#252525">4</text>
<text transform="translate(455.99,166.5) scale(0.84,1)" font-size="6" text-anchor="middle" font-weight="normal" fill="#252525">-1</text>
<line x1="394.2" y1="112.75" x2="396.5" y2="112.75" stroke="#555" stroke-width="0.6"/>
<text transform="translate(392.5,115.1) scale(0.9,1)" font-size="6.5" text-anchor="end" font-weight="normal" fill="#2a2a2a">0.3</text>
<line x1="394.2" y1="125.65" x2="396.5" y2="125.65" stroke="#555" stroke-width="0.6"/>
<text transform="translate(392.5,128) scale(0.9,1)" font-size="6.5" text-anchor="end" font-weight="normal" fill="#2a2a2a">0.1</text>
<line x1="394.2" y1="138.55" x2="396.5" y2="138.55" stroke="#555" stroke-width="0.6"/>
<text transform="translate(392.5,140.9) scale(0.9,1)" font-size="6.5" text-anchor="end" font-weight="normal" fill="#2a2a2a">0.03</text>
<line x1="394.2" y1="151.45" x2="396.5" y2="151.45" stroke="#555" stroke-width="0.6"/>
<text transform="translate(392.5,153.8) scale(0.9,1)" font-size="6.5" text-anchor="end" font-weight="normal" fill="#2a2a2a">0.01</text>
<line x1="394.2" y1="164.35" x2="396.5" y2="164.35" stroke="#555" stroke-width="0.6"/>
<text transform="translate(392.5,166.7) scale(0.9,1)" font-size="6.5" text-anchor="end" font-weight="normal" fill="#2a2a2a">0.003</text>
<line x1="401.91" y1="170.8" x2="401.91" y2="173.4" stroke="#555" stroke-width="0.6"/>
<text transform="translate(404.21,174.8) rotate(-90) scale(0.9,1)" font-size="6.4" text-anchor="end" font-weight="normal" fill="#2a2a2a">0.01</text>
<line x1="412.73" y1="170.8" x2="412.73" y2="173.4" stroke="#555" stroke-width="0.6"/>
<text transform="translate(415.03,174.8) rotate(-90) scale(0.9,1)" font-size="6.4" text-anchor="end" font-weight="normal" fill="#2a2a2a">0.03</text>
<line x1="423.54" y1="170.8" x2="423.54" y2="173.4" stroke="#555" stroke-width="0.6"/>
<text transform="translate(425.84,174.8) rotate(-90) scale(0.9,1)" font-size="6.4" text-anchor="end" font-weight="normal" fill="#2a2a2a">0.1</text>
<line x1="434.36" y1="170.8" x2="434.36" y2="173.4" stroke="#555" stroke-width="0.6"/>
<text transform="translate(436.66,174.8) rotate(-90) scale(0.9,1)" font-size="6.4" text-anchor="end" font-weight="normal" fill="#2a2a2a">0.3</text>
<line x1="445.17" y1="170.8" x2="445.17" y2="173.4" stroke="#555" stroke-width="0.6"/>
<text transform="translate(447.47,174.8) rotate(-90) scale(0.9,1)" font-size="6.4" text-anchor="end" font-weight="normal" fill="#2a2a2a">1</text>
<line x1="455.99" y1="170.8" x2="455.99" y2="173.4" stroke="#555" stroke-width="0.6"/>
<text transform="translate(458.29,174.8) rotate(-90) scale(0.9,1)" font-size="6.4" text-anchor="end" font-weight="normal" fill="#2a2a2a">3</text>
<text x="433.15" y="197.2" font-size="8.2" text-anchor="middle" font-weight="bold" fill="#111">Berzosertib (μmol/L)</text>
<rect x="34.6" y="333.1" width="10.88" height="12.95" fill="#f7f1a1"/>
<rect x="45.43" y="333.1" width="10.88" height="12.95" fill="#f7f1a1"/>
<rect x="56.27" y="333.1" width="10.88" height="12.95" fill="#f8eea0"/>
<rect x="67.1" y="333.1" width="10.88" height="12.95" fill="#f8eea0"/>
<rect x="77.93" y="333.1" width="10.88" height="12.95" fill="#f8eea0"/>
<rect x="88.77" y="333.1" width="10.88" height="12.95" fill="#f8eea0"/>
<rect x="34.6" y="346" width="10.88" height="12.95" fill="#f7f1a1"/>
<rect x="45.43" y="346" width="10.88" height="12.95" fill="#f7f1a1"/>
<rect x="56.27" y="346" width="10.88" height="12.95" fill="#f8eea0"/>
<rect x="67.1" y="346" width="10.88" height="12.95" fill="#f8eea0"/>
<rect x="77.93" y="346" width="10.88" height="12.95" fill="#f8eea0"/>
<rect x="88.77" y="346" width="10.88" height="12.95" fill="#f8eea0"/>
<rect x="34.6" y="358.9" width="10.88" height="12.95" fill="#cae0c2"/>
<rect x="45.43" y="358.9" width="10.88" height="12.95" fill="#d0e2be"/>
<rect x="56.27" y="358.9" width="10.88" height="12.95" fill="#eef0a7"/>
<rect x="67.1" y="358.9" width="10.88" height="12.95" fill="#f8eea0"/>
<rect x="77.93" y="358.9" width="10.88" height="12.95" fill="#f8eea0"/>
<rect x="88.77" y="358.9" width="10.88" height="12.95" fill="#f8eea0"/>
<rect x="34.6" y="371.8" width="10.88" height="12.95" fill="#4c7eca"/>
<rect x="45.43" y="371.8" width="10.88" height="12.95" fill="#4c7eca"/>
<rect x="56.27" y="371.8" width="10.88" height="12.95" fill="#4f83cd"/>
<rect x="67.1" y="371.8" width="10.88" height="12.95" fill="#e2ebb1"/>
<rect x="77.93" y="371.8" width="10.88" height="12.95" fill="#eef0a7"/>
<rect x="88.77" y="371.8" width="10.88" height="12.95" fill="#eef0a7"/>
<rect x="34.6" y="384.7" width="10.88" height="12.95" fill="#4c7eca"/>
<rect x="45.43" y="384.7" width="10.88" height="12.95" fill="#4c7eca"/>
<rect x="56.27" y="384.7" width="10.88" height="12.95" fill="#5084ce"/>
<rect x="67.1" y="384.7" width="10.88" height="12.95" fill="#e8eeac"/>
<rect x="77.93" y="384.7" width="10.88" height="12.95" fill="#f5f1a2"/>
<rect x="88.77" y="384.7" width="10.88" height="12.95" fill="#f5f1a2"/>
<line x1="45.43" y1="333.1" x2="45.43" y2="397.6" stroke="#ffffff" stroke-opacity="0.5" stroke-width="0.75"/>
<line x1="56.27" y1="333.1" x2="56.27" y2="397.6" stroke="#ffffff" stroke-opacity="0.5" stroke-width="0.75"/>
<line x1="67.1" y1="333.1" x2="67.1" y2="397.6" stroke="#ffffff" stroke-opacity="0.5" stroke-width="0.75"/>
<line x1="77.93" y1="333.1" x2="77.93" y2="397.6" stroke="#ffffff" stroke-opacity="0.5" stroke-width="0.75"/>
<line x1="88.77" y1="333.1" x2="88.77" y2="397.6" stroke="#ffffff" stroke-opacity="0.5" stroke-width="0.75"/>
<line x1="34.6" y1="346" x2="99.6" y2="346" stroke="#ffffff" stroke-opacity="0.5" stroke-width="0.75"/>
<line x1="34.6" y1="358.9" x2="99.6" y2="358.9" stroke="#ffffff" stroke-opacity="0.5" stroke-width="0.75"/>
<line x1="34.6" y1="371.8" x2="99.6" y2="371.8" stroke="#ffffff" stroke-opacity="0.5" stroke-width="0.75"/>
<line x1="34.6" y1="384.7" x2="99.6" y2="384.7" stroke="#ffffff" stroke-opacity="0.5" stroke-width="0.75"/>
<rect x="34.6" y="333.1" width="65" height="64.5" fill="none" stroke="#8c8c80" stroke-width="0.85"/>
<text transform="translate(40.02,341.7) scale(0.84,1)" font-size="6" text-anchor="middle" font-weight="normal" fill="#252525">0</text>
<text transform="translate(50.85,341.7) scale(0.84,1)" font-size="6" text-anchor="middle" font-weight="normal" fill="#252525">0</text>
<text transform="translate(61.68,341.7) scale(0.84,1)" font-size="6" text-anchor="middle" font-weight="normal" fill="#252525">-1</text>
<text transform="translate(72.52,341.7) scale(0.84,1)" font-size="6" text-anchor="middle" font-weight="normal" fill="#252525">-1</text>
<text transform="translate(83.35,341.7) scale(0.84,1)" font-size="6" text-anchor="middle" font-weight="normal" fill="#252525">-1</text>
<text transform="translate(94.18,341.7) scale(0.84,1)" font-size="6" text-anchor="middle" font-weight="normal" fill="#252525">-1</text>
<text transform="translate(40.02,354.6) scale(0.84,1)" font-size="6" text-anchor="middle" font-weight="normal" fill="#252525">0</text>
<text transform="translate(50.85,354.6) scale(0.84,1)" font-size="6" text-anchor="middle" font-weight="normal" fill="#252525">0</text>
<text transform="translate(61.68,354.6) scale(0.84,1)" font-size="6" text-anchor="middle" font-weight="normal" fill="#252525">-1</text>
<text transform="translate(72.52,354.6) scale(0.84,1)" font-size="6" text-anchor="middle" font-weight="normal" fill="#252525">-1</text>
<text transform="translate(83.35,354.6) scale(0.84,1)" font-size="6" text-anchor="middle" font-weight="normal" fill="#252525">-1</text>
<text transform="translate(94.18,354.6) scale(0.84,1)" font-size="6" text-anchor="middle" font-weight="normal" fill="#252525">-1</text>
<text transform="translate(40.02,367.5) scale(0.84,1)" font-size="6" text-anchor="middle" font-weight="normal" fill="#252525">8</text>
<text transform="translate(50.85,367.5) scale(0.84,1)" font-size="6" text-anchor="middle" font-weight="normal" fill="#252525">7</text>
<text transform="translate(61.68,367.5) scale(0.84,1)" font-size="6" text-anchor="middle" font-weight="normal" fill="#252525">2</text>
<text transform="translate(72.52,367.5) scale(0.84,1)" font-size="6" text-anchor="middle" font-weight="normal" fill="#252525">-1</text>
<text transform="translate(83.35,367.5) scale(0.84,1)" font-size="6" text-anchor="middle" font-weight="normal" fill="#252525">-1</text>
<text transform="translate(94.18,367.5) scale(0.84,1)" font-size="6" text-anchor="middle" font-weight="normal" fill="#252525">-1</text>
<text transform="translate(40.02,380.4) scale(0.84,1)" font-size="6" text-anchor="middle" font-weight="normal" fill="#252525">109</text>
<text transform="translate(50.85,380.4) scale(0.84,1)" font-size="6" text-anchor="middle" font-weight="normal" fill="#252525">101</text>
<text transform="translate(61.68,380.4) scale(0.84,1)" font-size="6" text-anchor="middle" font-weight="normal" fill="#252525">33</text>
<text transform="translate(72.52,380.4) scale(0.84,1)" font-size="6" text-anchor="middle" font-weight="normal" fill="#252525">4</text>
<text transform="translate(83.35,380.4) scale(0.84,1)" font-size="6" text-anchor="middle" font-weight="normal" fill="#252525">2</text>
<text transform="translate(94.18,380.4) scale(0.84,1)" font-size="6" text-anchor="middle" font-weight="normal" fill="#252525">2</text>
<text transform="translate(40.02,393.3) scale(0.84,1)" font-size="6" text-anchor="middle" font-weight="normal" fill="#252525">46</text>
<text transform="translate(50.85,393.3) scale(0.84,1)" font-size="6" text-anchor="middle" font-weight="normal" fill="#252525">88</text>
<text transform="translate(61.68,393.3) scale(0.84,1)" font-size="6" text-anchor="middle" font-weight="normal" fill="#252525">30</text>
<text transform="translate(72.52,393.3) scale(0.84,1)" font-size="6" text-anchor="middle" font-weight="normal" fill="#252525">3</text>
<text transform="translate(83.35,393.3) scale(0.84,1)" font-size="6" text-anchor="middle" font-weight="normal" fill="#252525">1</text>
<text transform="translate(94.18,393.3) scale(0.84,1)" font-size="6" text-anchor="middle" font-weight="normal" fill="#252525">1</text>
<line x1="32.3" y1="339.55" x2="34.6" y2="339.55" stroke="#555" stroke-width="0.6"/>
<text transform="translate(30.6,341.9) scale(0.9,1)" font-size="6.5" text-anchor="end" font-weight="normal" fill="#2a2a2a">0.3</text>
<line x1="32.3" y1="352.45" x2="34.6" y2="352.45" stroke="#555" stroke-width="0.6"/>
<text transform="translate(30.6,354.8) scale(0.9,1)" font-size="6.5" text-anchor="end" font-weight="normal" fill="#2a2a2a">0.1</text>
<line x1="32.3" y1="365.35" x2="34.6" y2="365.35" stroke="#555" stroke-width="0.6"/>
<text transform="translate(30.6,367.7) scale(0.9,1)" font-size="6.5" text-anchor="end" font-weight="normal" fill="#2a2a2a">0.03</text>
<line x1="32.3" y1="378.25" x2="34.6" y2="378.25" stroke="#555" stroke-width="0.6"/>
<text transform="translate(30.6,380.6) scale(0.9,1)" font-size="6.5" text-anchor="end" font-weight="normal" fill="#2a2a2a">0.01</text>
<line x1="32.3" y1="391.15" x2="34.6" y2="391.15" stroke="#555" stroke-width="0.6"/>
<text transform="translate(30.6,393.5) scale(0.9,1)" font-size="6.5" text-anchor="end" font-weight="normal" fill="#2a2a2a">0.003</text>
<line x1="40.02" y1="397.6" x2="40.02" y2="400.2" stroke="#555" stroke-width="0.6"/>
<text transform="translate(42.32,401.6) rotate(-90) scale(0.9,1)" font-size="6.4" text-anchor="end" font-weight="normal" fill="#2a2a2a">0.03</text>
<line x1="50.85" y1="397.6" x2="50.85" y2="400.2" stroke="#555" stroke-width="0.6"/>
<text transform="translate(53.15,401.6) rotate(-90) scale(0.9,1)" font-size="6.4" text-anchor="end" font-weight="normal" fill="#2a2a2a">0.1</text>
<line x1="61.68" y1="397.6" x2="61.68" y2="400.2" stroke="#555" stroke-width="0.6"/>
<text transform="translate(63.98,401.6) rotate(-90) scale(0.9,1)" font-size="6.4" text-anchor="end" font-weight="normal" fill="#2a2a2a">0.3</text>
<line x1="72.52" y1="397.6" x2="72.52" y2="400.2" stroke="#555" stroke-width="0.6"/>
<text transform="translate(74.82,401.6) rotate(-90) scale(0.9,1)" font-size="6.4" text-anchor="end" font-weight="normal" fill="#2a2a2a">1</text>
<line x1="83.35" y1="397.6" x2="83.35" y2="400.2" stroke="#555" stroke-width="0.6"/>
<text transform="translate(85.65,401.6) rotate(-90) scale(0.9,1)" font-size="6.4" text-anchor="end" font-weight="normal" fill="#2a2a2a">3</text>
<line x1="94.18" y1="397.6" x2="94.18" y2="400.2" stroke="#555" stroke-width="0.6"/>
<text transform="translate(96.48,401.6) rotate(-90) scale(0.9,1)" font-size="6.4" text-anchor="end" font-weight="normal" fill="#2a2a2a">10</text>
<text x="69.1" y="422.6" font-size="8.1" text-anchor="middle" font-weight="bold" fill="#111">Elimusertib (μmol/L)</text>
<rect x="123.5" y="333" width="10.88" height="9.85" fill="#f5f1a2"/>
<rect x="134.33" y="333" width="10.88" height="9.85" fill="#f7f1a1"/>
<rect x="145.17" y="333" width="10.88" height="9.85" fill="#f7f1a1"/>
<rect x="156" y="333" width="10.88" height="9.85" fill="#f7f1a1"/>
<rect x="166.83" y="333" width="10.88" height="9.85" fill="#f7f1a1"/>
<rect x="177.67" y="333" width="10.88" height="9.85" fill="#f7f1a1"/>
<rect x="123.5" y="342.8" width="10.88" height="12.75" fill="#f5f1a2"/>
<rect x="134.33" y="342.8" width="10.88" height="12.75" fill="#f7f1a1"/>
<rect x="145.17" y="342.8" width="10.88" height="12.75" fill="#f7f1a1"/>
<rect x="156" y="342.8" width="10.88" height="12.75" fill="#f8eea0"/>
<rect x="166.83" y="342.8" width="10.88" height="12.75" fill="#f8eea0"/>
<rect x="177.67" y="342.8" width="10.88" height="12.75" fill="#f8eea0"/>
<rect x="123.5" y="355.5" width="10.88" height="13.15" fill="#eef0a7"/>
<rect x="134.33" y="355.5" width="10.88" height="13.15" fill="#f7f1a1"/>
<rect x="145.17" y="355.5" width="10.88" height="13.15" fill="#f8eea0"/>
<rect x="156" y="355.5" width="10.88" height="13.15" fill="#f8eea0"/>
<rect x="166.83" y="355.5" width="10.88" height="13.15" fill="#f8eea0"/>
<rect x="177.67" y="355.5" width="10.88" height="13.15" fill="#f8eea0"/>
<rect x="123.5" y="368.6" width="10.88" height="13.05" fill="#4c7eca"/>
<rect x="134.33" y="368.6" width="10.88" height="13.05" fill="#4f82cd"/>
<rect x="145.17" y="368.6" width="10.88" height="13.05" fill="#d6e5ba"/>
<rect x="156" y="368.6" width="10.88" height="13.05" fill="#f5f1a2"/>
<rect x="166.83" y="368.6" width="10.88" height="13.05" fill="#f5f1a2"/>
<rect x="177.67" y="368.6" width="10.88" height="13.05" fill="#f5f1a2"/>
<rect x="123.5" y="381.6" width="10.88" height="13.05" fill="#4c7eca"/>
<rect x="134.33" y="381.6" width="10.88" height="13.05" fill="#4e81cc"/>
<rect x="145.17" y="381.6" width="10.88" height="13.05" fill="#d6e5ba"/>
<rect x="156" y="381.6" width="10.88" height="13.05" fill="#f5f1a2"/>
<rect x="166.83" y="381.6" width="10.88" height="13.05" fill="#f5f1a2"/>
<rect x="177.67" y="381.6" width="10.88" height="13.05" fill="#f5f1a2"/>
<line x1="134.33" y1="333" x2="134.33" y2="394.6" stroke="#ffffff" stroke-opacity="0.5" stroke-width="0.75"/>
<line x1="145.17" y1="333" x2="145.17" y2="394.6" stroke="#ffffff" stroke-opacity="0.5" stroke-width="0.75"/>
<line x1="156" y1="333" x2="156" y2="394.6" stroke="#ffffff" stroke-opacity="0.5" stroke-width="0.75"/>
<line x1="166.83" y1="333" x2="166.83" y2="394.6" stroke="#ffffff" stroke-opacity="0.5" stroke-width="0.75"/>
<line x1="177.67" y1="333" x2="177.67" y2="394.6" stroke="#ffffff" stroke-opacity="0.5" stroke-width="0.75"/>
<line x1="123.5" y1="342.8" x2="188.5" y2="342.8" stroke="#ffffff" stroke-opacity="0.5" stroke-width="0.75"/>
<line x1="123.5" y1="355.5" x2="188.5" y2="355.5" stroke="#ffffff" stroke-opacity="0.5" stroke-width="0.75"/>
<line x1="123.5" y1="368.6" x2="188.5" y2="368.6" stroke="#ffffff" stroke-opacity="0.5" stroke-width="0.75"/>
<line x1="123.5" y1="381.6" x2="188.5" y2="381.6" stroke="#ffffff" stroke-opacity="0.5" stroke-width="0.75"/>
<rect x="123.5" y="333" width="65" height="61.6" fill="none" stroke="#8c8c80" stroke-width="0.85"/>
<text transform="translate(128.92,340.05) scale(0.84,1)" font-size="6" text-anchor="middle" font-weight="normal" fill="#252525">1</text>
<text transform="translate(139.75,340.05) scale(0.84,1)" font-size="6" text-anchor="middle" font-weight="normal" fill="#252525">0</text>
<text transform="translate(150.58,340.05) scale(0.84,1)" font-size="6" text-anchor="middle" font-weight="normal" fill="#252525">0</text>
<text transform="translate(161.42,340.05) scale(0.84,1)" font-size="6" text-anchor="middle" font-weight="normal" fill="#252525">0</text>
<text transform="translate(172.25,340.05) scale(0.84,1)" font-size="6" text-anchor="middle" font-weight="normal" fill="#252525">0</text>
<text transform="translate(183.08,340.05) scale(0.84,1)" font-size="6" text-anchor="middle" font-weight="normal" fill="#252525">0</text>
<text transform="translate(128.92,351.3) scale(0.84,1)" font-size="6" text-anchor="middle" font-weight="normal" fill="#252525">1</text>
<text transform="translate(139.75,351.3) scale(0.84,1)" font-size="6" text-anchor="middle" font-weight="normal" fill="#252525">0</text>
<text transform="translate(150.58,351.3) scale(0.84,1)" font-size="6" text-anchor="middle" font-weight="normal" fill="#252525">0</text>
<text transform="translate(161.42,351.3) scale(0.84,1)" font-size="6" text-anchor="middle" font-weight="normal" fill="#252525">-1</text>
<text transform="translate(172.25,351.3) scale(0.84,1)" font-size="6" text-anchor="middle" font-weight="normal" fill="#252525">-1</text>
<text transform="translate(183.08,351.3) scale(0.84,1)" font-size="6" text-anchor="middle" font-weight="normal" fill="#252525">-1</text>
<text transform="translate(128.92,364.2) scale(0.84,1)" font-size="6" text-anchor="middle" font-weight="normal" fill="#252525">2</text>
<text transform="translate(139.75,364.2) scale(0.84,1)" font-size="6" text-anchor="middle" font-weight="normal" fill="#252525">0</text>
<text transform="translate(150.58,364.2) scale(0.84,1)" font-size="6" text-anchor="middle" font-weight="normal" fill="#252525">-1</text>
<text transform="translate(161.42,364.2) scale(0.84,1)" font-size="6" text-anchor="middle" font-weight="normal" fill="#252525">-1</text>
<text transform="translate(172.25,364.2) scale(0.84,1)" font-size="6" text-anchor="middle" font-weight="normal" fill="#252525">-1</text>
<text transform="translate(183.08,364.2) scale(0.84,1)" font-size="6" text-anchor="middle" font-weight="normal" fill="#252525">-1</text>
<text transform="translate(128.92,377.25) scale(0.84,1)" font-size="6" text-anchor="middle" font-weight="normal" fill="#252525">72</text>
<text transform="translate(139.75,377.25) scale(0.84,1)" font-size="6" text-anchor="middle" font-weight="normal" fill="#252525">34</text>
<text transform="translate(150.58,377.25) scale(0.84,1)" font-size="6" text-anchor="middle" font-weight="normal" fill="#252525">6</text>
<text transform="translate(161.42,377.25) scale(0.84,1)" font-size="6" text-anchor="middle" font-weight="normal" fill="#252525">1</text>
<text transform="translate(172.25,377.25) scale(0.84,1)" font-size="6" text-anchor="middle" font-weight="normal" fill="#252525">1</text>
<text transform="translate(183.08,377.25) scale(0.84,1)" font-size="6" text-anchor="middle" font-weight="normal" fill="#252525">1</text>
<text transform="translate(128.92,390.25) scale(0.84,1)" font-size="6" text-anchor="middle" font-weight="normal" fill="#252525">74</text>
<text transform="translate(139.75,390.25) scale(0.84,1)" font-size="6" text-anchor="middle" font-weight="normal" fill="#252525">37</text>
<text transform="translate(150.58,390.25) scale(0.84,1)" font-size="6" text-anchor="middle" font-weight="normal" fill="#252525">6</text>
<text transform="translate(161.42,390.25) scale(0.84,1)" font-size="6" text-anchor="middle" font-weight="normal" fill="#252525">1</text>
<text transform="translate(172.25,390.25) scale(0.84,1)" font-size="6" text-anchor="middle" font-weight="normal" fill="#252525">1</text>
<text transform="translate(183.08,390.25) scale(0.84,1)" font-size="6" text-anchor="middle" font-weight="normal" fill="#252525">1</text>
<line x1="121.2" y1="337.9" x2="123.5" y2="337.9" stroke="#555" stroke-width="0.6"/>
<text transform="translate(119.5,340.25) scale(0.9,1)" font-size="6.5" text-anchor="end" font-weight="normal" fill="#2a2a2a">0.3</text>
<line x1="121.2" y1="349.15" x2="123.5" y2="349.15" stroke="#555" stroke-width="0.6"/>
<text transform="translate(119.5,351.5) scale(0.9,1)" font-size="6.5" text-anchor="end" font-weight="normal" fill="#2a2a2a">0.1</text>
<line x1="121.2" y1="362.05" x2="123.5" y2="362.05" stroke="#555" stroke-width="0.6"/>
<text transform="translate(119.5,364.4) scale(0.9,1)" font-size="6.5" text-anchor="end" font-weight="normal" fill="#2a2a2a">0.03</text>
<line x1="121.2" y1="375.1" x2="123.5" y2="375.1" stroke="#555" stroke-width="0.6"/>
<text transform="translate(119.5,377.45) scale(0.9,1)" font-size="6.5" text-anchor="end" font-weight="normal" fill="#2a2a2a">0.01</text>
<line x1="121.2" y1="388.1" x2="123.5" y2="388.1" stroke="#555" stroke-width="0.6"/>
<text transform="translate(119.5,390.45) scale(0.9,1)" font-size="6.5" text-anchor="end" font-weight="normal" fill="#2a2a2a">0.003</text>
<line x1="128.92" y1="394.6" x2="128.92" y2="397.2" stroke="#555" stroke-width="0.6"/>
<text transform="translate(131.22,398.6) rotate(-90) scale(0.9,1)" font-size="6.4" text-anchor="end" font-weight="normal" fill="#2a2a2a">0.03</text>
<line x1="139.75" y1="394.6" x2="139.75" y2="397.2" stroke="#555" stroke-width="0.6"/>
<text transform="translate(142.05,398.6) rotate(-90) scale(0.9,1)" font-size="6.4" text-anchor="end" font-weight="normal" fill="#2a2a2a">0.1</text>
<line x1="150.58" y1="394.6" x2="150.58" y2="397.2" stroke="#555" stroke-width="0.6"/>
<text transform="translate(152.88,398.6) rotate(-90) scale(0.9,1)" font-size="6.4" text-anchor="end" font-weight="normal" fill="#2a2a2a">0.3</text>
<line x1="161.42" y1="394.6" x2="161.42" y2="397.2" stroke="#555" stroke-width="0.6"/>
<text transform="translate(163.72,398.6) rotate(-90) scale(0.9,1)" font-size="6.4" text-anchor="end" font-weight="normal" fill="#2a2a2a">1</text>
<line x1="172.25" y1="394.6" x2="172.25" y2="397.2" stroke="#555" stroke-width="0.6"/>
<text transform="translate(174.55,398.6) rotate(-90) scale(0.9,1)" font-size="6.4" text-anchor="end" font-weight="normal" fill="#2a2a2a">3</text>
<line x1="183.08" y1="394.6" x2="183.08" y2="397.2" stroke="#555" stroke-width="0.6"/>
<text transform="translate(185.38,398.6) rotate(-90) scale(0.9,1)" font-size="6.4" text-anchor="end" font-weight="normal" fill="#2a2a2a">10</text>
<text x="158.4" y="422.6" font-size="8.1" text-anchor="middle" font-weight="bold" fill="#111">Elimusertib (μmol/L)</text>
<rect x="214.2" y="333" width="10.82" height="9.85" fill="#e8eeac"/>
<rect x="224.97" y="333" width="10.82" height="9.85" fill="#f8eea0"/>
<rect x="235.73" y="333" width="10.82" height="9.85" fill="#fad694"/>
<rect x="246.5" y="333" width="10.82" height="9.85" fill="#f9ce8c"/>
<rect x="257.27" y="333" width="10.82" height="9.85" fill="#f9c886"/>
<rect x="268.03" y="333" width="10.82" height="9.85" fill="#f9c886"/>
<rect x="214.2" y="342.8" width="10.82" height="12.75" fill="#eef0a7"/>
<rect x="224.97" y="342.8" width="10.82" height="12.75" fill="#f8eea0"/>
<rect x="235.73" y="342.8" width="10.82" height="12.75" fill="#fad694"/>
<rect x="246.5" y="342.8" width="10.82" height="12.75" fill="#f9c886"/>
<rect x="257.27" y="342.8" width="10.82" height="12.75" fill="#f9c886"/>
<rect x="268.03" y="342.8" width="10.82" height="12.75" fill="#f9c886"/>
<rect x="214.2" y="355.5" width="10.82" height="13.15" fill="#b1d2cf"/>
<rect x="224.97" y="355.5" width="10.82" height="13.15" fill="#e8eeac"/>
<rect x="235.73" y="355.5" width="10.82" height="13.15" fill="#fae09a"/>
<rect x="246.5" y="355.5" width="10.82" height="13.15" fill="#f9ce8c"/>
<rect x="257.27" y="355.5" width="10.82" height="13.15" fill="#f9ce8c"/>
<rect x="268.03" y="355.5" width="10.82" height="13.15" fill="#fad694"/>
<rect x="214.2" y="368.6" width="10.82" height="13.05" fill="#4c7eca"/>
<rect x="224.97" y="368.6" width="10.82" height="13.05" fill="#5286cf"/>
<rect x="235.73" y="368.6" width="10.82" height="13.05" fill="#d0e2be"/>
<rect x="246.5" y="368.6" width="10.82" height="13.05" fill="#f7f1a1"/>
<rect x="257.27" y="368.6" width="10.82" height="13.05" fill="#f7f1a1"/>
<rect x="268.03" y="368.6" width="10.82" height="13.05" fill="#f5f1a2"/>
<rect x="214.2" y="381.6" width="10.82" height="13.05" fill="#4c7eca"/>
<rect x="224.97" y="381.6" width="10.82" height="13.05" fill="#5388d0"/>
<rect x="235.73" y="381.6" width="10.82" height="13.05" fill="#d0e2be"/>
<rect x="246.5" y="381.6" width="10.82" height="13.05" fill="#f7f1a1"/>
<rect x="257.27" y="381.6" width="10.82" height="13.05" fill="#f7f1a1"/>
<rect x="268.03" y="381.6" width="10.82" height="13.05" fill="#f5f1a2"/>
<line x1="224.97" y1="333" x2="224.97" y2="394.6" stroke="#ffffff" stroke-opacity="0.5" stroke-width="0.75"/>
<line x1="235.73" y1="333" x2="235.73" y2="394.6" stroke="#ffffff" stroke-opacity="0.5" stroke-width="0.75"/>
<line x1="246.5" y1="333" x2="246.5" y2="394.6" stroke="#ffffff" stroke-opacity="0.5" stroke-width="0.75"/>
<line x1="257.27" y1="333" x2="257.27" y2="394.6" stroke="#ffffff" stroke-opacity="0.5" stroke-width="0.75"/>
<line x1="268.03" y1="333" x2="268.03" y2="394.6" stroke="#ffffff" stroke-opacity="0.5" stroke-width="0.75"/>
<line x1="214.2" y1="342.8" x2="278.8" y2="342.8" stroke="#ffffff" stroke-opacity="0.5" stroke-width="0.75"/>
<line x1="214.2" y1="355.5" x2="278.8" y2="355.5" stroke="#ffffff" stroke-opacity="0.5" stroke-width="0.75"/>
<line x1="214.2" y1="368.6" x2="278.8" y2="368.6" stroke="#ffffff" stroke-opacity="0.5" stroke-width="0.75"/>
<line x1="214.2" y1="381.6" x2="278.8" y2="381.6" stroke="#ffffff" stroke-opacity="0.5" stroke-width="0.75"/>
<rect x="214.2" y="333" width="64.6" height="61.6" fill="none" stroke="#8c8c80" stroke-width="0.85"/>
<text transform="translate(219.58,340.05) scale(0.84,1)" font-size="6" text-anchor="middle" font-weight="normal" fill="#252525">3</text>
<text transform="translate(230.35,340.05) scale(0.84,1)" font-size="6" text-anchor="middle" font-weight="normal" fill="#252525">-1</text>
<text transform="translate(241.12,340.05) scale(0.84,1)" font-size="6" text-anchor="middle" font-weight="normal" fill="#252525">-4</text>
<text transform="translate(251.88,340.05) scale(0.84,1)" font-size="6" text-anchor="middle" font-weight="normal" fill="#252525">-5</text>
<text transform="translate(262.65,340.05) scale(0.84,1)" font-size="6" text-anchor="middle" font-weight="normal" fill="#252525">-6</text>
<text transform="translate(273.42,340.05) scale(0.84,1)" font-size="6" text-anchor="middle" font-weight="normal" fill="#252525">-6</text>
<text transform="translate(219.58,351.3) scale(0.84,1)" font-size="6" text-anchor="middle" font-weight="normal" fill="#252525">2</text>
<text transform="translate(230.35,351.3) scale(0.84,1)" font-size="6" text-anchor="middle" font-weight="normal" fill="#252525">-1</text>
<text transform="translate(241.12,351.3) scale(0.84,1)" font-size="6" text-anchor="middle" font-weight="normal" fill="#252525">-4</text>
<text transform="translate(251.88,351.3) scale(0.84,1)" font-size="6" text-anchor="middle" font-weight="normal" fill="#252525">-6</text>
<text transform="translate(262.65,351.3) scale(0.84,1)" font-size="6" text-anchor="middle" font-weight="normal" fill="#252525">-6</text>
<text transform="translate(273.42,351.3) scale(0.84,1)" font-size="6" text-anchor="middle" font-weight="normal" fill="#252525">-6</text>
<text transform="translate(219.58,364.2) scale(0.84,1)" font-size="6" text-anchor="middle" font-weight="normal" fill="#252525">11</text>
<text transform="translate(230.35,364.2) scale(0.84,1)" font-size="6" text-anchor="middle" font-weight="normal" fill="#252525">3</text>
<text transform="translate(241.12,364.2) scale(0.84,1)" font-size="6" text-anchor="middle" font-weight="normal" fill="#252525">-3</text>
<text transform="translate(251.88,364.2) scale(0.84,1)" font-size="6" text-anchor="middle" font-weight="normal" fill="#252525">-5</text>
<text transform="translate(262.65,364.2) scale(0.84,1)" font-size="6" text-anchor="middle" font-weight="normal" fill="#252525">-5</text>
<text transform="translate(273.42,364.2) scale(0.84,1)" font-size="6" text-anchor="middle" font-weight="normal" fill="#252525">-4</text>
<text transform="translate(219.58,377.25) scale(0.84,1)" font-size="6" text-anchor="middle" font-weight="normal" fill="#252525">54</text>
<text transform="translate(230.35,377.25) scale(0.84,1)" font-size="6" text-anchor="middle" font-weight="normal" fill="#252525">29</text>
<text transform="translate(241.12,377.25) scale(0.84,1)" font-size="6" text-anchor="middle" font-weight="normal" fill="#252525">7</text>
<text transform="translate(251.88,377.25) scale(0.84,1)" font-size="6" text-anchor="middle" font-weight="normal" fill="#252525">0</text>
<text transform="translate(262.65,377.25) scale(0.84,1)" font-size="6" text-anchor="middle" font-weight="normal" fill="#252525">0</text>
<text transform="translate(273.42,377.25) scale(0.84,1)" font-size="6" text-anchor="middle" font-weight="normal" fill="#252525">1</text>
<text transform="translate(219.58,390.25) scale(0.84,1)" font-size="6" text-anchor="middle" font-weight="normal" fill="#252525">53</text>
<text transform="translate(230.35,390.25) scale(0.84,1)" font-size="6" text-anchor="middle" font-weight="normal" fill="#252525">28</text>
<text transform="translate(241.12,390.25) scale(0.84,1)" font-size="6" text-anchor="middle" font-weight="normal" fill="#252525">7</text>
<text transform="translate(251.88,390.25) scale(0.84,1)" font-size="6" text-anchor="middle" font-weight="normal" fill="#252525">0</text>
<text transform="translate(262.65,390.25) scale(0.84,1)" font-size="6" text-anchor="middle" font-weight="normal" fill="#252525">0</text>
<text transform="translate(273.42,390.25) scale(0.84,1)" font-size="6" text-anchor="middle" font-weight="normal" fill="#252525">1</text>
<line x1="211.9" y1="337.9" x2="214.2" y2="337.9" stroke="#555" stroke-width="0.6"/>
<text transform="translate(210.2,340.25) scale(0.9,1)" font-size="6.5" text-anchor="end" font-weight="normal" fill="#2a2a2a">0.3</text>
<line x1="211.9" y1="349.15" x2="214.2" y2="349.15" stroke="#555" stroke-width="0.6"/>
<text transform="translate(210.2,351.5) scale(0.9,1)" font-size="6.5" text-anchor="end" font-weight="normal" fill="#2a2a2a">0.1</text>
<line x1="211.9" y1="362.05" x2="214.2" y2="362.05" stroke="#555" stroke-width="0.6"/>
<text transform="translate(210.2,364.4) scale(0.9,1)" font-size="6.5" text-anchor="end" font-weight="normal" fill="#2a2a2a">0.03</text>
<line x1="211.9" y1="375.1" x2="214.2" y2="375.1" stroke="#555" stroke-width="0.6"/>
<text transform="translate(210.2,377.45) scale(0.9,1)" font-size="6.5" text-anchor="end" font-weight="normal" fill="#2a2a2a">0.01</text>
<line x1="211.9" y1="388.1" x2="214.2" y2="388.1" stroke="#555" stroke-width="0.6"/>
<text transform="translate(210.2,390.45) scale(0.9,1)" font-size="6.5" text-anchor="end" font-weight="normal" fill="#2a2a2a">0.003</text>
<line x1="219.58" y1="394.6" x2="219.58" y2="397.2" stroke="#555" stroke-width="0.6"/>
<text transform="translate(221.88,398.6) rotate(-90) scale(0.9,1)" font-size="6.4" text-anchor="end" font-weight="normal" fill="#2a2a2a">0.03</text>
<line x1="230.35" y1="394.6" x2="230.35" y2="397.2" stroke="#555" stroke-width="0.6"/>
<text transform="translate(232.65,398.6) rotate(-90) scale(0.9,1)" font-size="6.4" text-anchor="end" font-weight="normal" fill="#2a2a2a">0.1</text>
<line x1="241.12" y1="394.6" x2="241.12" y2="397.2" stroke="#555" stroke-width="0.6"/>
<text transform="translate(243.42,398.6) rotate(-90) scale(0.9,1)" font-size="6.4" text-anchor="end" font-weight="normal" fill="#2a2a2a">0.3</text>
<line x1="251.88" y1="394.6" x2="251.88" y2="397.2" stroke="#555" stroke-width="0.6"/>
<text transform="translate(254.18,398.6) rotate(-90) scale(0.9,1)" font-size="6.4" text-anchor="end" font-weight="normal" fill="#2a2a2a">1</text>
<line x1="262.65" y1="394.6" x2="262.65" y2="397.2" stroke="#555" stroke-width="0.6"/>
<text transform="translate(264.95,398.6) rotate(-90) scale(0.9,1)" font-size="6.4" text-anchor="end" font-weight="normal" fill="#2a2a2a">3</text>
<line x1="273.42" y1="394.6" x2="273.42" y2="397.2" stroke="#555" stroke-width="0.6"/>
<text transform="translate(275.72,398.6) rotate(-90) scale(0.9,1)" font-size="6.4" text-anchor="end" font-weight="normal" fill="#2a2a2a">10</text>
<text x="248.2" y="422.6" font-size="8.1" text-anchor="middle" font-weight="bold" fill="#111">Elimusertib (μmol/L)</text>
<rect x="305.2" y="333.1" width="10.88" height="12.95" fill="#4d7fcb"/>
<rect x="316.03" y="333.1" width="10.88" height="12.95" fill="#4f83cd"/>
<rect x="326.87" y="333.1" width="10.88" height="12.95" fill="#5a92d5"/>
<rect x="337.7" y="333.1" width="10.88" height="12.95" fill="#95c1d9"/>
<rect x="348.53" y="333.1" width="10.88" height="12.95" fill="#d6e5ba"/>
<rect x="359.37" y="333.1" width="10.88" height="12.95" fill="#f5f1a2"/>
<rect x="305.2" y="346" width="10.88" height="12.95" fill="#4e82cc"/>
<rect x="316.03" y="346" width="10.88" height="12.95" fill="#5286cf"/>
<rect x="326.87" y="346" width="10.88" height="12.95" fill="#699fda"/>
<rect x="337.7" y="346" width="10.88" height="12.95" fill="#a8ccd4"/>
<rect x="348.53" y="346" width="10.88" height="12.95" fill="#dce8b5"/>
<rect x="359.37" y="346" width="10.88" height="12.95" fill="#f5f1a2"/>
<rect x="305.2" y="358.9" width="10.88" height="12.95" fill="#5084ce"/>
<rect x="316.03" y="358.9" width="10.88" height="12.95" fill="#5a92d5"/>
<rect x="326.87" y="358.9" width="10.88" height="12.95" fill="#85b6dd"/>
<rect x="337.7" y="358.9" width="10.88" height="12.95" fill="#c4ddc6"/>
<rect x="348.53" y="358.9" width="10.88" height="12.95" fill="#e8eeac"/>
<rect x="359.37" y="358.9" width="10.88" height="12.95" fill="#f7f1a1"/>
<rect x="305.2" y="371.8" width="10.88" height="12.95" fill="#4f83cd"/>
<rect x="316.03" y="371.8" width="10.88" height="12.95" fill="#5c94d6"/>
<rect x="326.87" y="371.8" width="10.88" height="12.95" fill="#95c1d9"/>
<rect x="337.7" y="371.8" width="10.88" height="12.95" fill="#d0e2be"/>
<rect x="348.53" y="371.8" width="10.88" height="12.95" fill="#e8eeac"/>
<rect x="359.37" y="371.8" width="10.88" height="12.95" fill="#f5f1a2"/>
<rect x="305.2" y="384.7" width="10.88" height="12.95" fill="#4e80cc"/>
<rect x="316.03" y="384.7" width="10.88" height="12.95" fill="#5084ce"/>
<rect x="326.87" y="384.7" width="10.88" height="12.95" fill="#629ad8"/>
<rect x="337.7" y="384.7" width="10.88" height="12.95" fill="#b1d2cf"/>
<rect x="348.53" y="384.7" width="10.88" height="12.95" fill="#e2ebb1"/>
<rect x="359.37" y="384.7" width="10.88" height="12.95" fill="#f7f1a1"/>
<line x1="316.03" y1="333.1" x2="316.03" y2="397.6" stroke="#ffffff" stroke-opacity="0.5" stroke-width="0.75"/>
<line x1="326.87" y1="333.1" x2="326.87" y2="397.6" stroke="#ffffff" stroke-opacity="0.5" stroke-width="0.75"/>
<line x1="337.7" y1="333.1" x2="337.7" y2="397.6" stroke="#ffffff" stroke-opacity="0.5" stroke-width="0.75"/>
<line x1="348.53" y1="333.1" x2="348.53" y2="397.6" stroke="#ffffff" stroke-opacity="0.5" stroke-width="0.75"/>
<line x1="359.37" y1="333.1" x2="359.37" y2="397.6" stroke="#ffffff" stroke-opacity="0.5" stroke-width="0.75"/>
<line x1="305.2" y1="346" x2="370.2" y2="346" stroke="#ffffff" stroke-opacity="0.5" stroke-width="0.75"/>
<line x1="305.2" y1="358.9" x2="370.2" y2="358.9" stroke="#ffffff" stroke-opacity="0.5" stroke-width="0.75"/>
<line x1="305.2" y1="371.8" x2="370.2" y2="371.8" stroke="#ffffff" stroke-opacity="0.5" stroke-width="0.75"/>
<line x1="305.2" y1="384.7" x2="370.2" y2="384.7" stroke="#ffffff" stroke-opacity="0.5" stroke-width="0.75"/>
<rect x="305.2" y="333.1" width="65" height="64.5" fill="none" stroke="#8c8c80" stroke-width="0.85"/>
<text transform="translate(310.62,341.7) scale(0.84,1)" font-size="6" text-anchor="middle" font-weight="normal" fill="#252525">43</text>
<text transform="translate(321.45,341.7) scale(0.84,1)" font-size="6" text-anchor="middle" font-weight="normal" fill="#252525">33</text>
<text transform="translate(332.28,341.7) scale(0.84,1)" font-size="6" text-anchor="middle" font-weight="normal" fill="#252525">23</text>
<text transform="translate(343.12,341.7) scale(0.84,1)" font-size="6" text-anchor="middle" font-weight="normal" fill="#252525">14</text>
<text transform="translate(353.95,341.7) scale(0.84,1)" font-size="6" text-anchor="middle" font-weight="normal" fill="#252525">6</text>
<text transform="translate(364.78,341.7) scale(0.84,1)" font-size="6" text-anchor="middle" font-weight="normal" fill="#252525">1</text>
<text transform="translate(310.62,354.6) scale(0.84,1)" font-size="6" text-anchor="middle" font-weight="normal" fill="#252525">36</text>
<text transform="translate(321.45,354.6) scale(0.84,1)" font-size="6" text-anchor="middle" font-weight="normal" fill="#252525">29</text>
<text transform="translate(332.28,354.6) scale(0.84,1)" font-size="6" text-anchor="middle" font-weight="normal" fill="#252525">20</text>
<text transform="translate(343.12,354.6) scale(0.84,1)" font-size="6" text-anchor="middle" font-weight="normal" fill="#252525">12</text>
<text transform="translate(353.95,354.6) scale(0.84,1)" font-size="6" text-anchor="middle" font-weight="normal" fill="#252525">5</text>
<text transform="translate(364.78,354.6) scale(0.84,1)" font-size="6" text-anchor="middle" font-weight="normal" fill="#252525">1</text>
<text transform="translate(310.62,367.5) scale(0.84,1)" font-size="6" text-anchor="middle" font-weight="normal" fill="#252525">30</text>
<text transform="translate(321.45,367.5) scale(0.84,1)" font-size="6" text-anchor="middle" font-weight="normal" fill="#252525">23</text>
<text transform="translate(332.28,367.5) scale(0.84,1)" font-size="6" text-anchor="middle" font-weight="normal" fill="#252525">16</text>
<text transform="translate(343.12,367.5) scale(0.84,1)" font-size="6" text-anchor="middle" font-weight="normal" fill="#252525">9</text>
<text transform="translate(353.95,367.5) scale(0.84,1)" font-size="6" text-anchor="middle" font-weight="normal" fill="#252525">3</text>
<text transform="translate(364.78,367.5) scale(0.84,1)" font-size="6" text-anchor="middle" font-weight="normal" fill="#252525">0</text>
<text transform="translate(310.62,380.4) scale(0.84,1)" font-size="6" text-anchor="middle" font-weight="normal" fill="#252525">32</text>
<text transform="translate(321.45,380.4) scale(0.84,1)" font-size="6" text-anchor="middle" font-weight="normal" fill="#252525">22</text>
<text transform="translate(332.28,380.4) scale(0.84,1)" font-size="6" text-anchor="middle" font-weight="normal" fill="#252525">14</text>
<text transform="translate(343.12,380.4) scale(0.84,1)" font-size="6" text-anchor="middle" font-weight="normal" fill="#252525">7</text>
<text transform="translate(353.95,380.4) scale(0.84,1)" font-size="6" text-anchor="middle" font-weight="normal" fill="#252525">3</text>
<text transform="translate(364.78,380.4) scale(0.84,1)" font-size="6" text-anchor="middle" font-weight="normal" fill="#252525">1</text>
<text transform="translate(310.62,393.3) scale(0.84,1)" font-size="6" text-anchor="middle" font-weight="normal" fill="#252525">39</text>
<text transform="translate(321.45,393.3) scale(0.84,1)" font-size="6" text-anchor="middle" font-weight="normal" fill="#252525">31</text>
<text transform="translate(332.28,393.3) scale(0.84,1)" font-size="6" text-anchor="middle" font-weight="normal" fill="#252525">21</text>
<text transform="translate(343.12,393.3) scale(0.84,1)" font-size="6" text-anchor="middle" font-weight="normal" fill="#252525">11</text>
<text transform="translate(353.95,393.3) scale(0.84,1)" font-size="6" text-anchor="middle" font-weight="normal" fill="#252525">4</text>
<text transform="translate(364.78,393.3) scale(0.84,1)" font-size="6" text-anchor="middle" font-weight="normal" fill="#252525">0</text>
<line x1="302.9" y1="339.55" x2="305.2" y2="339.55" stroke="#555" stroke-width="0.6"/>
<text transform="translate(301.2,341.9) scale(0.9,1)" font-size="6.5" text-anchor="end" font-weight="normal" fill="#2a2a2a">0.3</text>
<line x1="302.9" y1="352.45" x2="305.2" y2="352.45" stroke="#555" stroke-width="0.6"/>
<text transform="translate(301.2,354.8) scale(0.9,1)" font-size="6.5" text-anchor="end" font-weight="normal" fill="#2a2a2a">0.1</text>
<line x1="302.9" y1="365.35" x2="305.2" y2="365.35" stroke="#555" stroke-width="0.6"/>
<text transform="translate(301.2,367.7) scale(0.9,1)" font-size="6.5" text-anchor="end" font-weight="normal" fill="#2a2a2a">0.03</text>
<line x1="302.9" y1="378.25" x2="305.2" y2="378.25" stroke="#555" stroke-width="0.6"/>
<text transform="translate(301.2,380.6) scale(0.9,1)" font-size="6.5" text-anchor="end" font-weight="normal" fill="#2a2a2a">0.01</text>
<line x1="302.9" y1="391.15" x2="305.2" y2="391.15" stroke="#555" stroke-width="0.6"/>
<text transform="translate(301.2,393.5) scale(0.9,1)" font-size="6.5" text-anchor="end" font-weight="normal" fill="#2a2a2a">0.003</text>
<line x1="310.62" y1="397.6" x2="310.62" y2="400.2" stroke="#555" stroke-width="0.6"/>
<text transform="translate(312.92,401.6) rotate(-90) scale(0.9,1)" font-size="6.4" text-anchor="end" font-weight="normal" fill="#2a2a2a">0.03</text>
<line x1="321.45" y1="397.6" x2="321.45" y2="400.2" stroke="#555" stroke-width="0.6"/>
<text transform="translate(323.75,401.6) rotate(-90) scale(0.9,1)" font-size="6.4" text-anchor="end" font-weight="normal" fill="#2a2a2a">0.1</text>
<line x1="332.28" y1="397.6" x2="332.28" y2="400.2" stroke="#555" stroke-width="0.6"/>
<text transform="translate(334.58,401.6) rotate(-90) scale(0.9,1)" font-size="6.4" text-anchor="end" font-weight="normal" fill="#2a2a2a">0.3</text>
<line x1="343.12" y1="397.6" x2="343.12" y2="400.2" stroke="#555" stroke-width="0.6"/>
<text transform="translate(345.42,401.6) rotate(-90) scale(0.9,1)" font-size="6.4" text-anchor="end" font-weight="normal" fill="#2a2a2a">1</text>
<line x1="353.95" y1="397.6" x2="353.95" y2="400.2" stroke="#555" stroke-width="0.6"/>
<text transform="translate(356.25,401.6) rotate(-90) scale(0.9,1)" font-size="6.4" text-anchor="end" font-weight="normal" fill="#2a2a2a">3</text>
<line x1="364.78" y1="397.6" x2="364.78" y2="400.2" stroke="#555" stroke-width="0.6"/>
<text transform="translate(367.08,401.6) rotate(-90) scale(0.9,1)" font-size="6.4" text-anchor="end" font-weight="normal" fill="#2a2a2a">10</text>
<text x="339.3" y="422.6" font-size="8.1" text-anchor="middle" font-weight="bold" fill="#111">Elimusertib (μmol/L)</text>
<rect x="396.5" y="333.1" width="10.9" height="12.95" fill="#f8eea0"/>
<rect x="407.35" y="333.1" width="10.9" height="12.95" fill="#f8eca0"/>
<rect x="418.2" y="333.1" width="10.9" height="12.95" fill="#f8eca0"/>
<rect x="429.05" y="333.1" width="10.9" height="12.95" fill="#f8eca0"/>
<rect x="439.9" y="333.1" width="10.9" height="12.95" fill="#f8eca0"/>
<rect x="450.75" y="333.1" width="10.9" height="12.95" fill="#f8eca0"/>
<rect x="396.5" y="346" width="10.9" height="12.95" fill="#f8eea0"/>
<rect x="407.35" y="346" width="10.9" height="12.95" fill="#fae09a"/>
<rect x="418.2" y="346" width="10.9" height="12.95" fill="#fae09a"/>
<rect x="429.05" y="346" width="10.9" height="12.95" fill="#fae09a"/>
<rect x="439.9" y="346" width="10.9" height="12.95" fill="#fae09a"/>
<rect x="450.75" y="346" width="10.9" height="12.95" fill="#fae09a"/>
<rect x="396.5" y="358.9" width="10.9" height="12.95" fill="#bbd7cb"/>
<rect x="407.35" y="358.9" width="10.9" height="12.95" fill="#eef0a7"/>
<rect x="418.2" y="358.9" width="10.9" height="12.95" fill="#f8eea0"/>
<rect x="429.05" y="358.9" width="10.9" height="12.95" fill="#f8eca0"/>
<rect x="439.9" y="358.9" width="10.9" height="12.95" fill="#f8eca0"/>
<rect x="450.75" y="358.9" width="10.9" height="12.95" fill="#f8eca0"/>
<rect x="396.5" y="371.8" width="10.9" height="12.95" fill="#588ed3"/>
<rect x="407.35" y="371.8" width="10.9" height="12.95" fill="#bbd7cb"/>
<rect x="418.2" y="371.8" width="10.9" height="12.95" fill="#e2ebb1"/>
<rect x="429.05" y="371.8" width="10.9" height="12.95" fill="#eef0a7"/>
<rect x="439.9" y="371.8" width="10.9" height="12.95" fill="#f5f1a2"/>
<rect x="450.75" y="371.8" width="10.9" height="12.95" fill="#f5f1a2"/>
<rect x="396.5" y="384.7" width="10.9" height="12.95" fill="#d0e2be"/>
<rect x="407.35" y="384.7" width="10.9" height="12.95" fill="#e8eeac"/>
<rect x="418.2" y="384.7" width="10.9" height="12.95" fill="#e8eeac"/>
<rect x="429.05" y="384.7" width="10.9" height="12.95" fill="#eef0a7"/>
<rect x="439.9" y="384.7" width="10.9" height="12.95" fill="#f5f1a2"/>
<rect x="450.75" y="384.7" width="10.9" height="12.95" fill="#f5f1a2"/>
<line x1="407.35" y1="333.1" x2="407.35" y2="397.6" stroke="#ffffff" stroke-opacity="0.5" stroke-width="0.75"/>
<line x1="418.2" y1="333.1" x2="418.2" y2="397.6" stroke="#ffffff" stroke-opacity="0.5" stroke-width="0.75"/>
<line x1="429.05" y1="333.1" x2="429.05" y2="397.6" stroke="#ffffff" stroke-opacity="0.5" stroke-width="0.75"/>
<line x1="439.9" y1="333.1" x2="439.9" y2="397.6" stroke="#ffffff" stroke-opacity="0.5" stroke-width="0.75"/>
<line x1="450.75" y1="333.1" x2="450.75" y2="397.6" stroke="#ffffff" stroke-opacity="0.5" stroke-width="0.75"/>
<line x1="396.5" y1="346" x2="461.6" y2="346" stroke="#ffffff" stroke-opacity="0.5" stroke-width="0.75"/>
<line x1="396.5" y1="358.9" x2="461.6" y2="358.9" stroke="#ffffff" stroke-opacity="0.5" stroke-width="0.75"/>
<line x1="396.5" y1="371.8" x2="461.6" y2="371.8" stroke="#ffffff" stroke-opacity="0.5" stroke-width="0.75"/>
<line x1="396.5" y1="384.7" x2="461.6" y2="384.7" stroke="#ffffff" stroke-opacity="0.5" stroke-width="0.75"/>
<rect x="396.5" y="333.1" width="65.1" height="64.5" fill="none" stroke="#8c8c80" stroke-width="0.85"/>
<text transform="translate(401.93,341.7) scale(0.84,1)" font-size="6" text-anchor="middle" font-weight="normal" fill="#252525">-1</text>
<text transform="translate(412.77,341.7) scale(0.84,1)" font-size="6" text-anchor="middle" font-weight="normal" fill="#252525">-2</text>
<text transform="translate(423.62,341.7) scale(0.84,1)" font-size="6" text-anchor="middle" font-weight="normal" fill="#252525">-2</text>
<text transform="translate(434.48,341.7) scale(0.84,1)" font-size="6" text-anchor="middle" font-weight="normal" fill="#252525">-2</text>
<text transform="translate(445.33,341.7) scale(0.84,1)" font-size="6" text-anchor="middle" font-weight="normal" fill="#252525">-2</text>
<text transform="translate(456.18,341.7) scale(0.84,1)" font-size="6" text-anchor="middle" font-weight="normal" fill="#252525">-2</text>
<text transform="translate(401.93,354.6) scale(0.84,1)" font-size="6" text-anchor="middle" font-weight="normal" fill="#252525">-1</text>
<text transform="translate(412.77,354.6) scale(0.84,1)" font-size="6" text-anchor="middle" font-weight="normal" fill="#252525">-3</text>
<text transform="translate(423.62,354.6) scale(0.84,1)" font-size="6" text-anchor="middle" font-weight="normal" fill="#252525">-3</text>
<text transform="translate(434.48,354.6) scale(0.84,1)" font-size="6" text-anchor="middle" font-weight="normal" fill="#252525">-3</text>
<text transform="translate(445.33,354.6) scale(0.84,1)" font-size="6" text-anchor="middle" font-weight="normal" fill="#252525">-3</text>
<text transform="translate(456.18,354.6) scale(0.84,1)" font-size="6" text-anchor="middle" font-weight="normal" fill="#252525">-3</text>
<text transform="translate(401.93,367.5) scale(0.84,1)" font-size="6" text-anchor="middle" font-weight="normal" fill="#252525">10</text>
<text transform="translate(412.77,367.5) scale(0.84,1)" font-size="6" text-anchor="middle" font-weight="normal" fill="#252525">2</text>
<text transform="translate(423.62,367.5) scale(0.84,1)" font-size="6" text-anchor="middle" font-weight="normal" fill="#252525">-1</text>
<text transform="translate(434.48,367.5) scale(0.84,1)" font-size="6" text-anchor="middle" font-weight="normal" fill="#252525">-2</text>
<text transform="translate(445.33,367.5) scale(0.84,1)" font-size="6" text-anchor="middle" font-weight="normal" fill="#252525">-2</text>
<text transform="translate(456.18,367.5) scale(0.84,1)" font-size="6" text-anchor="middle" font-weight="normal" fill="#252525">-2</text>
<text transform="translate(401.93,380.4) scale(0.84,1)" font-size="6" text-anchor="middle" font-weight="normal" fill="#252525">25</text>
<text transform="translate(412.77,380.4) scale(0.84,1)" font-size="6" text-anchor="middle" font-weight="normal" fill="#252525">10</text>
<text transform="translate(423.62,380.4) scale(0.84,1)" font-size="6" text-anchor="middle" font-weight="normal" fill="#252525">4</text>
<text transform="translate(434.48,380.4) scale(0.84,1)" font-size="6" text-anchor="middle" font-weight="normal" fill="#252525">2</text>
<text transform="translate(445.33,380.4) scale(0.84,1)" font-size="6" text-anchor="middle" font-weight="normal" fill="#252525">1</text>
<text transform="translate(456.18,380.4) scale(0.84,1)" font-size="6" text-anchor="middle" font-weight="normal" fill="#252525">1</text>
<text transform="translate(401.93,393.3) scale(0.84,1)" font-size="6" text-anchor="middle" font-weight="normal" fill="#252525">7</text>
<text transform="translate(412.77,393.3) scale(0.84,1)" font-size="6" text-anchor="middle" font-weight="normal" fill="#252525">3</text>
<text transform="translate(423.62,393.3) scale(0.84,1)" font-size="6" text-anchor="middle" font-weight="normal" fill="#252525">3</text>
<text transform="translate(434.48,393.3) scale(0.84,1)" font-size="6" text-anchor="middle" font-weight="normal" fill="#252525">2</text>
<text transform="translate(445.33,393.3) scale(0.84,1)" font-size="6" text-anchor="middle" font-weight="normal" fill="#252525">1</text>
<text transform="translate(456.18,393.3) scale(0.84,1)" font-size="6" text-anchor="middle" font-weight="normal" fill="#252525">1</text>
<line x1="394.2" y1="339.55" x2="396.5" y2="339.55" stroke="#555" stroke-width="0.6"/>
<text transform="translate(392.5,341.9) scale(0.9,1)" font-size="6.5" text-anchor="end" font-weight="normal" fill="#2a2a2a">0.3</text>
<line x1="394.2" y1="352.45" x2="396.5" y2="352.45" stroke="#555" stroke-width="0.6"/>
<text transform="translate(392.5,354.8) scale(0.9,1)" font-size="6.5" text-anchor="end" font-weight="normal" fill="#2a2a2a">0.1</text>
<line x1="394.2" y1="365.35" x2="396.5" y2="365.35" stroke="#555" stroke-width="0.6"/>
<text transform="translate(392.5,367.7) scale(0.9,1)" font-size="6.5" text-anchor="end" font-weight="normal" fill="#2a2a2a">0.03</text>
<line x1="394.2" y1="378.25" x2="396.5" y2="378.25" stroke="#555" stroke-width="0.6"/>
<text transform="translate(392.5,380.6) scale(0.9,1)" font-size="6.5" text-anchor="end" font-weight="normal" fill="#2a2a2a">0.01</text>
<line x1="394.2" y1="391.15" x2="396.5" y2="391.15" stroke="#555" stroke-width="0.6"/>
<text transform="translate(392.5,393.5) scale(0.9,1)" font-size="6.5" text-anchor="end" font-weight="normal" fill="#2a2a2a">0.003</text>
<line x1="401.93" y1="397.6" x2="401.93" y2="400.2" stroke="#555" stroke-width="0.6"/>
<text transform="translate(404.23,401.6) rotate(-90) scale(0.9,1)" font-size="6.4" text-anchor="end" font-weight="normal" fill="#2a2a2a">0.03</text>
<line x1="412.77" y1="397.6" x2="412.77" y2="400.2" stroke="#555" stroke-width="0.6"/>
<text transform="translate(415.07,401.6) rotate(-90) scale(0.9,1)" font-size="6.4" text-anchor="end" font-weight="normal" fill="#2a2a2a">0.1</text>
<line x1="423.62" y1="397.6" x2="423.62" y2="400.2" stroke="#555" stroke-width="0.6"/>
<text transform="translate(425.93,401.6) rotate(-90) scale(0.9,1)" font-size="6.4" text-anchor="end" font-weight="normal" fill="#2a2a2a">0.3</text>
<line x1="434.48" y1="397.6" x2="434.48" y2="400.2" stroke="#555" stroke-width="0.6"/>
<text transform="translate(436.78,401.6) rotate(-90) scale(0.9,1)" font-size="6.4" text-anchor="end" font-weight="normal" fill="#2a2a2a">1</text>
<line x1="445.33" y1="397.6" x2="445.33" y2="400.2" stroke="#555" stroke-width="0.6"/>
<text transform="translate(447.63,401.6) rotate(-90) scale(0.9,1)" font-size="6.4" text-anchor="end" font-weight="normal" fill="#2a2a2a">3</text>
<line x1="456.18" y1="397.6" x2="456.18" y2="400.2" stroke="#555" stroke-width="0.6"/>
<text transform="translate(458.48,401.6) rotate(-90) scale(0.9,1)" font-size="6.4" text-anchor="end" font-weight="normal" fill="#2a2a2a">10</text>
<text x="430.35" y="422.6" font-size="8.1" text-anchor="middle" font-weight="bold" fill="#111">Elimusertib (μmol/L)</text>
<line x1="463.9" y1="26.5" x2="472.9" y2="26.5" stroke="#111111" stroke-width="0.8"/>
<circle cx="468.4" cy="26.5" r="1.3" fill="#111111"/>
<text transform="translate(474.6,28.5) scale(0.88,1)" font-size="6" text-anchor="start" font-weight="normal" fill="#222" stroke="#222" stroke-width="0.12">Berzosertib</text>
<line x1="463.9" y1="33.3" x2="472.9" y2="33.3" stroke="#8e8e8e" stroke-width="0.8"/>
<circle cx="468.4" cy="33.3" r="1.3" fill="#8e8e8e"/>
<text transform="translate(474.6,35.3) scale(0.88,1)" font-size="6" text-anchor="start" font-weight="normal" fill="#222" stroke="#222" stroke-width="0.12">Topo</text>
<line x1="463.9" y1="40.2" x2="472.9" y2="40.2" stroke="#c9ddf4" stroke-width="0.8"/>
<circle cx="468.4" cy="40.2" r="1.3" fill="#c9ddf4"/>
<text transform="translate(474.6,42.2) scale(0.88,1)" font-size="6" text-anchor="start" font-weight="normal" fill="#222" stroke="#222" stroke-width="0.12">0.003 μmol/L Topo</text>
<line x1="463.9" y1="47" x2="472.9" y2="47" stroke="#9cc3ec" stroke-width="0.8"/>
<circle cx="468.4" cy="47" r="1.3" fill="#9cc3ec"/>
<text transform="translate(474.6,49) scale(0.88,1)" font-size="6" text-anchor="start" font-weight="normal" fill="#222" stroke="#222" stroke-width="0.12">0.01 μmol/L Topo</text>
<line x1="463.9" y1="53.8" x2="472.9" y2="53.8" stroke="#5e9ee0" stroke-width="0.8"/>
<circle cx="468.4" cy="53.8" r="1.3" fill="#5e9ee0"/>
<text transform="translate(474.6,55.8) scale(0.88,1)" font-size="6" text-anchor="start" font-weight="normal" fill="#222" stroke="#222" stroke-width="0.12">0.03 μmol/L Topo</text>
<line x1="463.9" y1="60.6" x2="472.9" y2="60.6" stroke="#3f5ec0" stroke-width="0.8"/>
<circle cx="468.4" cy="60.6" r="1.3" fill="#3f5ec0"/>
<text transform="translate(474.6,62.6) scale(0.88,1)" font-size="6" text-anchor="start" font-weight="normal" fill="#222" stroke="#222" stroke-width="0.12">0.1 μmol/L Topo</text>
<line x1="463.9" y1="67.4" x2="472.9" y2="67.4" stroke="#28409f" stroke-width="0.8"/>
<circle cx="468.4" cy="67.4" r="1.3" fill="#28409f"/>
<text transform="translate(474.6,69.4) scale(0.88,1)" font-size="6" text-anchor="start" font-weight="normal" fill="#222" stroke="#222" stroke-width="0.12">0.3 μmol/L Topo</text>
<line x1="465.4" y1="252.5" x2="474.4" y2="252.5" stroke="#111111" stroke-width="0.8"/>
<circle cx="469.9" cy="252.5" r="1.3" fill="#111111"/>
<text transform="translate(475.9,254.5) scale(0.88,1)" font-size="6" text-anchor="start" font-weight="normal" fill="#222" stroke="#222" stroke-width="0.12">Elimusertib</text>
<line x1="465.4" y1="259.4" x2="474.4" y2="259.4" stroke="#8e8e8e" stroke-width="0.8"/>
<circle cx="469.9" cy="259.4" r="1.3" fill="#8e8e8e"/>
<text transform="translate(475.9,261.4) scale(0.88,1)" font-size="6" text-anchor="start" font-weight="normal" fill="#222" stroke="#222" stroke-width="0.12">Topo</text>
<line x1="465.4" y1="266.2" x2="474.4" y2="266.2" stroke="#c9ddf4" stroke-width="0.8"/>
<circle cx="469.9" cy="266.2" r="1.3" fill="#c9ddf4"/>
<text transform="translate(475.9,268.2) scale(0.88,1)" font-size="6" text-anchor="start" font-weight="normal" fill="#222" stroke="#222" stroke-width="0.12">0.003 μmol/L Topo</text>
<line x1="465.4" y1="273" x2="474.4" y2="273" stroke="#9cc3ec" stroke-width="0.8"/>
<circle cx="469.9" cy="273" r="1.3" fill="#9cc3ec"/>
<text transform="translate(475.9,275) scale(0.88,1)" font-size="6" text-anchor="start" font-weight="normal" fill="#222" stroke="#222" stroke-width="0.12">0.01 μmol/L Topo</text>
<line x1="465.4" y1="279.8" x2="474.4" y2="279.8" stroke="#5e9ee0" stroke-width="0.8"/>
<circle cx="469.9" cy="279.8" r="1.3" fill="#5e9ee0"/>
<text transform="translate(475.9,281.8) scale(0.88,1)" font-size="6" text-anchor="start" font-weight="normal" fill="#222" stroke="#222" stroke-width="0.12">0.03 μmol/L Topo</text>
<line x1="465.4" y1="286.6" x2="474.4" y2="286.6" stroke="#3f5ec0" stroke-width="0.8"/>
<circle cx="469.9" cy="286.6" r="1.3" fill="#3f5ec0"/>
<text transform="translate(475.9,288.6) scale(0.88,1)" font-size="6" text-anchor="start" font-weight="normal" fill="#222" stroke="#222" stroke-width="0.12">0.1 μmol/L Topo</text>
<line x1="465.4" y1="293.4" x2="474.4" y2="293.4" stroke="#28409f" stroke-width="0.8"/>
<circle cx="469.9" cy="293.4" r="1.3" fill="#28409f"/>
<text transform="translate(475.9,295.4) scale(0.88,1)" font-size="6" text-anchor="start" font-weight="normal" fill="#222" stroke="#222" stroke-width="0.12">0.3 μmol/L Topo</text>
<rect x="464.2" y="105.6" width="6" height="53.5" fill="url(#cb)"/>
<text transform="translate(471.6,108.6) scale(0.88,1)" font-size="6.2" text-anchor="start" font-weight="normal" fill="#222" stroke="#222" stroke-width="0.1">Synergy</text>
<text transform="translate(471.6,134.6) scale(0.88,1)" font-size="6.2" text-anchor="start" font-weight="normal" fill="#222" stroke="#222" stroke-width="0.1">Additive</text>
<text transform="translate(471.6,159.9) scale(0.88,1)" font-size="6.2" text-anchor="start" font-weight="normal" fill="#222" stroke="#222" stroke-width="0.1">Antagonism</text>
<line x1="463" y1="132.35" x2="464.2" y2="132.35" stroke="#555" stroke-width="0.5"/>
<rect x="464" y="332.9" width="6" height="54.2" fill="url(#cb)"/>
<text transform="translate(471.4,336.2) scale(0.88,1)" font-size="6.2" text-anchor="start" font-weight="normal" fill="#222" stroke="#222" stroke-width="0.1">Synergy</text>
<text transform="translate(471.4,362) scale(0.88,1)" font-size="6.2" text-anchor="start" font-weight="normal" fill="#222" stroke="#222" stroke-width="0.1">Additive</text>
<text transform="translate(471.4,387.6) scale(0.88,1)" font-size="6.2" text-anchor="start" font-weight="normal" fill="#222" stroke="#222" stroke-width="0.1">Antagonism</text>
<line x1="462.8" y1="360" x2="464" y2="360" stroke="#555" stroke-width="0.5"/>
</svg></body></html>
